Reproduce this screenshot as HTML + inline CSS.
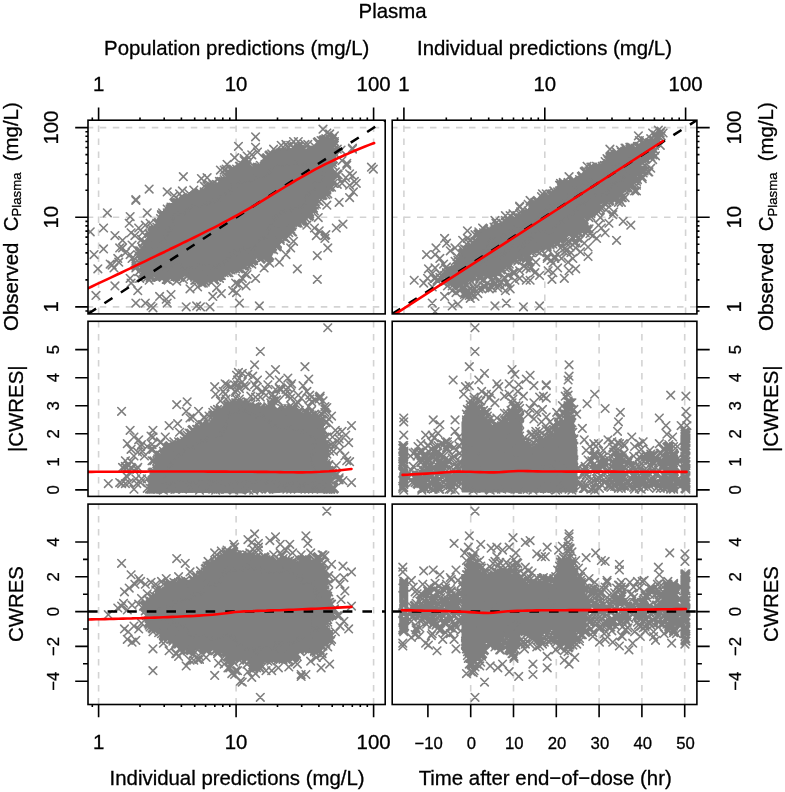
<!DOCTYPE html>
<html lang="en"><head><meta charset="utf-8"><title>Plasma goodness-of-fit</title>
<style>html,body{margin:0;padding:0;background:#fff}svg{display:block}</style></head>
<body>
<svg width="785" height="792" viewBox="0 0 785 792">
<rect width="785" height="792" fill="#fff"/>
<clipPath id="c1"><rect x="88.0" y="120.2" width="297.2" height="193.7"/></clipPath>
<clipPath id="c2"><rect x="392.2" y="120.2" width="304.7" height="193.7"/></clipPath>
<clipPath id="c3"><rect x="88.0" y="321.3" width="297.2" height="175.1"/></clipPath>
<clipPath id="c4"><rect x="392.2" y="321.3" width="304.7" height="175.1"/></clipPath>
<clipPath id="c5"><rect x="88.0" y="504.1" width="297.2" height="200.4"/></clipPath>
<clipPath id="c6"><rect x="392.2" y="504.1" width="304.7" height="200.4"/></clipPath>
<g clip-path="url(#c1)" fill="none">
<path d="M98.6 313.9V120.2M236.1 313.9V120.2M373.6 313.9V120.2" stroke="#d3d3d3" stroke-width="1.6" stroke-dasharray="6.5 6.5"/>
<path d="M88 306.9H385.2M88 217.2H385.2M88 127.6H385.2" stroke="#d3d3d3" stroke-width="1.6" stroke-dasharray="6.5 6.5" stroke-dashoffset="1.2"/>
<path d="M330 139L326 137L322 138L314 146L313 151L310 152L307 150L298 148L288 149L279 148L273 154L268 155L265 160L258 167L252 167L245 164L240 164L218 185L212 183L208 183L203 191L201 192L190 192L184 198L181 199L176 203L167 204L167 206L160 215L159 222L157 226L149 233L147 239L144 242L144 244L142 247L142 250L140 253L140 258L143 263L143 265L141 267L142 270L141 273L143 277L147 278L150 276L156 276L163 279L167 279L176 276L190 276L195 277L201 281L209 281L217 277L222 276L225 271L234 271L243 265L251 263L256 258L266 259L269 256L270 253L269 250L270 248L278 243L281 239L287 238L289 232L289 227L296 221L303 218L307 218L309 216L312 205L327 191L336 176L332 166L332 158L330 156L331 145Z" fill="#7f7f7f" stroke="#7f7f7f" stroke-width="1" stroke-linejoin="round"/><g transform="scale(0.95)"><path d="M347 140l8 8m-8 0l8-8M348 139l8 8m-8 0l8-8M339 142l8 8m-8 0l8-8M343 142l8 8m-8 0l8-8M346 142l8 8m-8 0l8-8M337 143l8 8m-8 0l8-8M339 143l8 8m-8 0l8-8M339 143l8 8m-8 0l8-8M334 144l8 8m-8 0l8-8M336 144l8 8m-8 0l8-8M338 144l8 8m-8 0l8-8M343 144l8 8m-8 0l8-8M331 145l8 8m-8 0l8-8M342 145l8 8m-8 0l8-8M343 145l8 8m-8 0l8-8M345 145l8 8m-8 0l8-8M348 145l8 8m-8 0l8-8M330 146l8 8m-8 0l8-8M339 146l8 8m-8 0l8-8M344 146l8 8m-8 0l8-8M317 148l8 8m-8 0l8-8M332 147l8 8m-8 0l8-8M343 148l8 8m-8 0l8-8M346 148l8 8m-8 0l8-8M320 148l8 8m-8 0l8-8M332 148l8 8m-8 0l8-8M335 148l8 8m-8 0l8-8M343 148l8 8m-8 0l8-8M347 148l8 8m-8 0l8-8M292 149l8 8m-8 0l8-8M298 150l8 8m-8 0l8-8M302 149l8 8m-8 0l8-8M337 150l8 8m-8 0l8-8M339 149l8 8m-8 0l8-8M341 149l8 8m-8 0l8-8M344 149l8 8m-8 0l8-8M348 149l8 8m-8 0l8-8M247 150l8 8m-8 0l8-8M265 151l8 8m-8 0l8-8M309 150l8 8m-8 0l8-8M327 150l8 8m-8 0l8-8M328 151l8 8m-8 0l8-8M338 150l8 8m-8 0l8-8M341 151l8 8m-8 0l8-8M345 150l8 8m-8 0l8-8M306 152l8 8m-8 0l8-8M310 151l8 8m-8 0l8-8M314 151l8 8m-8 0l8-8M334 152l8 8m-8 0l8-8M334 152l8 8m-8 0l8-8M337 151l8 8m-8 0l8-8M344 151l8 8m-8 0l8-8M345 151l8 8m-8 0l8-8M306 153l8 8m-8 0l8-8M323 153l8 8m-8 0l8-8M330 153l8 8m-8 0l8-8M335 153l8 8m-8 0l8-8M339 152l8 8m-8 0l8-8M342 153l8 8m-8 0l8-8M346 152l8 8m-8 0l8-8M309 154l8 8m-8 0l8-8M310 153l8 8m-8 0l8-8M316 153l8 8m-8 0l8-8M327 154l8 8m-8 0l8-8M336 153l8 8m-8 0l8-8M341 153l8 8m-8 0l8-8M351 153l8 8m-8 0l8-8M351 153l8 8m-8 0l8-8M355 154l8 8m-8 0l8-8M312 154l8 8m-8 0l8-8M314 154l8 8m-8 0l8-8M328 154l8 8m-8 0l8-8M329 154l8 8m-8 0l8-8M333 154l8 8m-8 0l8-8M339 155l8 8m-8 0l8-8M340 155l8 8m-8 0l8-8M342 154l8 8m-8 0l8-8M309 156l8 8m-8 0l8-8M316 156l8 8m-8 0l8-8M327 156l8 8m-8 0l8-8M330 156l8 8m-8 0l8-8M331 156l8 8m-8 0l8-8M347 155l8 8m-8 0l8-8M297 157l8 8m-8 0l8-8M304 156l8 8m-8 0l8-8M306 157l8 8m-8 0l8-8M308 157l8 8m-8 0l8-8M310 157l8 8m-8 0l8-8M312 156l8 8m-8 0l8-8M328 156l8 8m-8 0l8-8M329 157l8 8m-8 0l8-8M338 156l8 8m-8 0l8-8M345 156l8 8m-8 0l8-8M291 157l8 8m-8 0l8-8M293 158l8 8m-8 0l8-8M299 157l8 8m-8 0l8-8M299 157l8 8m-8 0l8-8M309 158l8 8m-8 0l8-8M310 158l8 8m-8 0l8-8M317 157l8 8m-8 0l8-8M319 157l8 8m-8 0l8-8M328 157l8 8m-8 0l8-8M336 158l8 8m-8 0l8-8M337 157l8 8m-8 0l8-8M342 157l8 8m-8 0l8-8M344 157l8 8m-8 0l8-8M261 159l8 8m-8 0l8-8M280 159l8 8m-8 0l8-8M280 159l8 8m-8 0l8-8M282 158l8 8m-8 0l8-8M289 158l8 8m-8 0l8-8M304 158l8 8m-8 0l8-8M310 158l8 8m-8 0l8-8M313 158l8 8m-8 0l8-8M314 159l8 8m-8 0l8-8M322 159l8 8m-8 0l8-8M329 158l8 8m-8 0l8-8M335 159l8 8m-8 0l8-8M339 159l8 8m-8 0l8-8M343 159l8 8m-8 0l8-8M350 159l8 8m-8 0l8-8M279 160l8 8m-8 0l8-8M280 160l8 8m-8 0l8-8M285 160l8 8m-8 0l8-8M286 159l8 8m-8 0l8-8M289 159l8 8m-8 0l8-8M292 160l8 8m-8 0l8-8M293 159l8 8m-8 0l8-8M300 159l8 8m-8 0l8-8M302 160l8 8m-8 0l8-8M305 160l8 8m-8 0l8-8M308 160l8 8m-8 0l8-8M318 160l8 8m-8 0l8-8M326 159l8 8m-8 0l8-8M331 159l8 8m-8 0l8-8M332 160l8 8m-8 0l8-8M338 159l8 8m-8 0l8-8M343 159l8 8m-8 0l8-8M285 161l8 8m-8 0l8-8M308 161l8 8m-8 0l8-8M327 161l8 8m-8 0l8-8M338 161l8 8m-8 0l8-8M311 162l8 8m-8 0l8-8M314 162l8 8m-8 0l8-8M319 162l8 8m-8 0l8-8M323 162l8 8m-8 0l8-8M325 162l8 8m-8 0l8-8M335 161l8 8m-8 0l8-8M337 161l8 8m-8 0l8-8M343 161l8 8m-8 0l8-8M253 163l8 8m-8 0l8-8M276 163l8 8m-8 0l8-8M277 162l8 8m-8 0l8-8M281 162l8 8m-8 0l8-8M282 163l8 8m-8 0l8-8M285 163l8 8m-8 0l8-8M286 163l8 8m-8 0l8-8M288 163l8 8m-8 0l8-8M301 163l8 8m-8 0l8-8M307 163l8 8m-8 0l8-8M314 163l8 8m-8 0l8-8M318 163l8 8m-8 0l8-8M321 163l8 8m-8 0l8-8M323 163l8 8m-8 0l8-8M325 162l8 8m-8 0l8-8M326 163l8 8m-8 0l8-8M345 163l8 8m-8 0l8-8M274 163l8 8m-8 0l8-8M282 164l8 8m-8 0l8-8M283 164l8 8m-8 0l8-8M292 164l8 8m-8 0l8-8M298 163l8 8m-8 0l8-8M301 164l8 8m-8 0l8-8M310 164l8 8m-8 0l8-8M346 164l8 8m-8 0l8-8M253 165l8 8m-8 0l8-8M280 165l8 8m-8 0l8-8M285 165l8 8m-8 0l8-8M289 164l8 8m-8 0l8-8M291 165l8 8m-8 0l8-8M291 165l8 8m-8 0l8-8M295 165l8 8m-8 0l8-8M297 165l8 8m-8 0l8-8M298 165l8 8m-8 0l8-8M300 165l8 8m-8 0l8-8M304 164l8 8m-8 0l8-8M314 165l8 8m-8 0l8-8M314 165l8 8m-8 0l8-8M317 165l8 8m-8 0l8-8M258 166l8 8m-8 0l8-8M288 166l8 8m-8 0l8-8M290 166l8 8m-8 0l8-8M315 166l8 8m-8 0l8-8M319 166l8 8m-8 0l8-8M343 166l8 8m-8 0l8-8M345 166l8 8m-8 0l8-8M280 167l8 8m-8 0l8-8M339 167l8 8m-8 0l8-8M346 167l8 8m-8 0l8-8M256 168l8 8m-8 0l8-8M340 168l8 8m-8 0l8-8M344 168l8 8m-8 0l8-8M252 170l8 8m-8 0l8-8M256 169l8 8m-8 0l8-8M275 169l8 8m-8 0l8-8M277 169l8 8m-8 0l8-8M278 169l8 8m-8 0l8-8M280 169l8 8m-8 0l8-8M340 169l8 8m-8 0l8-8M346 170l8 8m-8 0l8-8M255 170l8 8m-8 0l8-8M270 170l8 8m-8 0l8-8M270 170l8 8m-8 0l8-8M278 170l8 8m-8 0l8-8M338 170l8 8m-8 0l8-8M340 171l8 8m-8 0l8-8M346 170l8 8m-8 0l8-8M248 171l8 8m-8 0l8-8M249 171l8 8m-8 0l8-8M255 171l8 8m-8 0l8-8M256 171l8 8m-8 0l8-8M269 172l8 8m-8 0l8-8M341 172l8 8m-8 0l8-8M342 172l8 8m-8 0l8-8M347 171l8 8m-8 0l8-8M252 172l8 8m-8 0l8-8M262 173l8 8m-8 0l8-8M266 173l8 8m-8 0l8-8M267 172l8 8m-8 0l8-8M272 173l8 8m-8 0l8-8M245 174l8 8m-8 0l8-8M252 173l8 8m-8 0l8-8M257 173l8 8m-8 0l8-8M261 173l8 8m-8 0l8-8M267 173l8 8m-8 0l8-8M271 173l8 8m-8 0l8-8M275 173l8 8m-8 0l8-8M277 174l8 8m-8 0l8-8M339 174l8 8m-8 0l8-8M232 175l8 8m-8 0l8-8M234 174l8 8m-8 0l8-8M241 174l8 8m-8 0l8-8M242 175l8 8m-8 0l8-8M243 175l8 8m-8 0l8-8M245 174l8 8m-8 0l8-8M249 175l8 8m-8 0l8-8M251 175l8 8m-8 0l8-8M255 175l8 8m-8 0l8-8M262 174l8 8m-8 0l8-8M271 174l8 8m-8 0l8-8M276 175l8 8m-8 0l8-8M343 175l8 8m-8 0l8-8M239 175l8 8m-8 0l8-8M243 176l8 8m-8 0l8-8M246 175l8 8m-8 0l8-8M253 175l8 8m-8 0l8-8M255 176l8 8m-8 0l8-8M260 175l8 8m-8 0l8-8M263 176l8 8m-8 0l8-8M265 176l8 8m-8 0l8-8M269 175l8 8m-8 0l8-8M271 175l8 8m-8 0l8-8M339 176l8 8m-8 0l8-8M339 176l8 8m-8 0l8-8M236 176l8 8m-8 0l8-8M241 176l8 8m-8 0l8-8M246 177l8 8m-8 0l8-8M252 177l8 8m-8 0l8-8M254 177l8 8m-8 0l8-8M256 176l8 8m-8 0l8-8M258 177l8 8m-8 0l8-8M259 177l8 8m-8 0l8-8M270 176l8 8m-8 0l8-8M273 177l8 8m-8 0l8-8M349 177l8 8m-8 0l8-8M243 177l8 8m-8 0l8-8M247 178l8 8m-8 0l8-8M250 178l8 8m-8 0l8-8M267 178l8 8m-8 0l8-8M268 177l8 8m-8 0l8-8M269 177l8 8m-8 0l8-8M242 179l8 8m-8 0l8-8M251 178l8 8m-8 0l8-8M257 179l8 8m-8 0l8-8M263 178l8 8m-8 0l8-8M266 179l8 8m-8 0l8-8M270 179l8 8m-8 0l8-8M351 179l8 8m-8 0l8-8M238 180l8 8m-8 0l8-8M259 180l8 8m-8 0l8-8M260 179l8 8m-8 0l8-8M350 180l8 8m-8 0l8-8M235 181l8 8m-8 0l8-8M249 181l8 8m-8 0l8-8M250 181l8 8m-8 0l8-8M256 181l8 8m-8 0l8-8M339 181l8 8m-8 0l8-8M350 181l8 8m-8 0l8-8M352 180l8 8m-8 0l8-8M245 182l8 8m-8 0l8-8M247 181l8 8m-8 0l8-8M251 182l8 8m-8 0l8-8M253 181l8 8m-8 0l8-8M254 181l8 8m-8 0l8-8M257 182l8 8m-8 0l8-8M259 182l8 8m-8 0l8-8M340 182l8 8m-8 0l8-8M341 181l8 8m-8 0l8-8M236 183l8 8m-8 0l8-8M240 183l8 8m-8 0l8-8M241 183l8 8m-8 0l8-8M250 183l8 8m-8 0l8-8M255 183l8 8m-8 0l8-8M340 183l8 8m-8 0l8-8M208 184l8 8m-8 0l8-8M234 184l8 8m-8 0l8-8M241 184l8 8m-8 0l8-8M244 184l8 8m-8 0l8-8M247 184l8 8m-8 0l8-8M341 184l8 8m-8 0l8-8M343 184l8 8m-8 0l8-8M232 185l8 8m-8 0l8-8M239 185l8 8m-8 0l8-8M342 185l8 8m-8 0l8-8M344 185l8 8m-8 0l8-8M344 186l8 8m-8 0l8-8M227 187l8 8m-8 0l8-8M229 187l8 8m-8 0l8-8M231 187l8 8m-8 0l8-8M233 187l8 8m-8 0l8-8M340 187l8 8m-8 0l8-8M340 187l8 8m-8 0l8-8M346 187l8 8m-8 0l8-8M229 188l8 8m-8 0l8-8M242 188l8 8m-8 0l8-8M342 188l8 8m-8 0l8-8M220 189l8 8m-8 0l8-8M231 189l8 8m-8 0l8-8M231 189l8 8m-8 0l8-8M233 189l8 8m-8 0l8-8M235 190l8 8m-8 0l8-8M241 189l8 8m-8 0l8-8M347 189l8 8m-8 0l8-8M216 190l8 8m-8 0l8-8M220 190l8 8m-8 0l8-8M224 190l8 8m-8 0l8-8M232 190l8 8m-8 0l8-8M341 190l8 8m-8 0l8-8M351 190l8 8m-8 0l8-8M211 192l8 8m-8 0l8-8M226 191l8 8m-8 0l8-8M232 191l8 8m-8 0l8-8M214 192l8 8m-8 0l8-8M218 192l8 8m-8 0l8-8M227 192l8 8m-8 0l8-8M235 192l8 8m-8 0l8-8M331 192l8 8m-8 0l8-8M332 192l8 8m-8 0l8-8M337 193l8 8m-8 0l8-8M342 193l8 8m-8 0l8-8M222 194l8 8m-8 0l8-8M225 194l8 8m-8 0l8-8M237 193l8 8m-8 0l8-8M334 193l8 8m-8 0l8-8M335 193l8 8m-8 0l8-8M342 193l8 8m-8 0l8-8M343 193l8 8m-8 0l8-8M345 193l8 8m-8 0l8-8M216 195l8 8m-8 0l8-8M219 194l8 8m-8 0l8-8M223 195l8 8m-8 0l8-8M227 194l8 8m-8 0l8-8M228 194l8 8m-8 0l8-8M329 194l8 8m-8 0l8-8M331 195l8 8m-8 0l8-8M334 195l8 8m-8 0l8-8M340 195l8 8m-8 0l8-8M232 196l8 8m-8 0l8-8M234 195l8 8m-8 0l8-8M340 196l8 8m-8 0l8-8M200 196l8 8m-8 0l8-8M225 197l8 8m-8 0l8-8M234 196l8 8m-8 0l8-8M331 196l8 8m-8 0l8-8M339 196l8 8m-8 0l8-8M216 197l8 8m-8 0l8-8M230 198l8 8m-8 0l8-8M333 197l8 8m-8 0l8-8M337 198l8 8m-8 0l8-8M206 199l8 8m-8 0l8-8M207 199l8 8m-8 0l8-8M211 198l8 8m-8 0l8-8M217 199l8 8m-8 0l8-8M334 199l8 8m-8 0l8-8M185 200l8 8m-8 0l8-8M195 200l8 8m-8 0l8-8M205 199l8 8m-8 0l8-8M206 199l8 8m-8 0l8-8M211 199l8 8m-8 0l8-8M214 200l8 8m-8 0l8-8M216 200l8 8m-8 0l8-8M220 200l8 8m-8 0l8-8M223 200l8 8m-8 0l8-8M341 200l8 8m-8 0l8-8M203 201l8 8m-8 0l8-8M206 201l8 8m-8 0l8-8M207 201l8 8m-8 0l8-8M215 200l8 8m-8 0l8-8M330 201l8 8m-8 0l8-8M335 201l8 8m-8 0l8-8M336 201l8 8m-8 0l8-8M339 201l8 8m-8 0l8-8M197 202l8 8m-8 0l8-8M204 202l8 8m-8 0l8-8M207 202l8 8m-8 0l8-8M210 201l8 8m-8 0l8-8M326 202l8 8m-8 0l8-8M327 201l8 8m-8 0l8-8M333 202l8 8m-8 0l8-8M335 202l8 8m-8 0l8-8M179 202l8 8m-8 0l8-8M198 203l8 8m-8 0l8-8M203 203l8 8m-8 0l8-8M205 202l8 8m-8 0l8-8M212 203l8 8m-8 0l8-8M214 203l8 8m-8 0l8-8M224 203l8 8m-8 0l8-8M323 202l8 8m-8 0l8-8M327 202l8 8m-8 0l8-8M188 204l8 8m-8 0l8-8M194 204l8 8m-8 0l8-8M196 204l8 8m-8 0l8-8M201 204l8 8m-8 0l8-8M206 204l8 8m-8 0l8-8M209 204l8 8m-8 0l8-8M221 203l8 8m-8 0l8-8M221 203l8 8m-8 0l8-8M332 204l8 8m-8 0l8-8M190 205l8 8m-8 0l8-8M193 205l8 8m-8 0l8-8M203 205l8 8m-8 0l8-8M206 205l8 8m-8 0l8-8M216 205l8 8m-8 0l8-8M322 205l8 8m-8 0l8-8M192 206l8 8m-8 0l8-8M203 206l8 8m-8 0l8-8M213 206l8 8m-8 0l8-8M218 206l8 8m-8 0l8-8M185 207l8 8m-8 0l8-8M190 207l8 8m-8 0l8-8M201 207l8 8m-8 0l8-8M205 207l8 8m-8 0l8-8M206 207l8 8m-8 0l8-8M321 207l8 8m-8 0l8-8M324 207l8 8m-8 0l8-8M330 207l8 8m-8 0l8-8M183 209l8 8m-8 0l8-8M189 208l8 8m-8 0l8-8M191 208l8 8m-8 0l8-8M199 208l8 8m-8 0l8-8M203 208l8 8m-8 0l8-8M204 208l8 8m-8 0l8-8M210 208l8 8m-8 0l8-8M328 208l8 8m-8 0l8-8M332 208l8 8m-8 0l8-8M181 209l8 8m-8 0l8-8M203 209l8 8m-8 0l8-8M353 209l8 8m-8 0l8-8M180 210l8 8m-8 0l8-8M183 210l8 8m-8 0l8-8M185 210l8 8m-8 0l8-8M187 210l8 8m-8 0l8-8M189 210l8 8m-8 0l8-8M192 210l8 8m-8 0l8-8M193 211l8 8m-8 0l8-8M202 210l8 8m-8 0l8-8M180 211l8 8m-8 0l8-8M183 211l8 8m-8 0l8-8M192 211l8 8m-8 0l8-8M322 211l8 8m-8 0l8-8M323 212l8 8m-8 0l8-8M327 212l8 8m-8 0l8-8M329 211l8 8m-8 0l8-8M183 213l8 8m-8 0l8-8M322 213l8 8m-8 0l8-8M324 212l8 8m-8 0l8-8M325 212l8 8m-8 0l8-8M182 213l8 8m-8 0l8-8M192 214l8 8m-8 0l8-8M322 214l8 8m-8 0l8-8M176 214l8 8m-8 0l8-8M178 214l8 8m-8 0l8-8M183 215l8 8m-8 0l8-8M325 214l8 8m-8 0l8-8M326 215l8 8m-8 0l8-8M172 216l8 8m-8 0l8-8M175 216l8 8m-8 0l8-8M187 216l8 8m-8 0l8-8M320 215l8 8m-8 0l8-8M323 216l8 8m-8 0l8-8M178 216l8 8m-8 0l8-8M184 216l8 8m-8 0l8-8M315 216l8 8m-8 0l8-8M319 216l8 8m-8 0l8-8M320 216l8 8m-8 0l8-8M178 217l8 8m-8 0l8-8M179 218l8 8m-8 0l8-8M180 218l8 8m-8 0l8-8M187 218l8 8m-8 0l8-8M305 219l8 8m-8 0l8-8M311 219l8 8m-8 0l8-8M319 219l8 8m-8 0l8-8M322 219l8 8m-8 0l8-8M167 220l8 8m-8 0l8-8M172 220l8 8m-8 0l8-8M174 220l8 8m-8 0l8-8M306 220l8 8m-8 0l8-8M318 220l8 8m-8 0l8-8M299 221l8 8m-8 0l8-8M299 221l8 8m-8 0l8-8M307 221l8 8m-8 0l8-8M310 221l8 8m-8 0l8-8M316 220l8 8m-8 0l8-8M319 221l8 8m-8 0l8-8M322 221l8 8m-8 0l8-8M166 222l8 8m-8 0l8-8M296 222l8 8m-8 0l8-8M303 222l8 8m-8 0l8-8M166 223l8 8m-8 0l8-8M168 223l8 8m-8 0l8-8M169 223l8 8m-8 0l8-8M171 223l8 8m-8 0l8-8M172 223l8 8m-8 0l8-8M295 223l8 8m-8 0l8-8M310 222l8 8m-8 0l8-8M319 222l8 8m-8 0l8-8M322 223l8 8m-8 0l8-8M295 224l8 8m-8 0l8-8M298 224l8 8m-8 0l8-8M302 224l8 8m-8 0l8-8M305 224l8 8m-8 0l8-8M308 224l8 8m-8 0l8-8M314 223l8 8m-8 0l8-8M316 224l8 8m-8 0l8-8M319 223l8 8m-8 0l8-8M321 224l8 8m-8 0l8-8M171 225l8 8m-8 0l8-8M299 225l8 8m-8 0l8-8M306 225l8 8m-8 0l8-8M309 225l8 8m-8 0l8-8M314 225l8 8m-8 0l8-8M317 225l8 8m-8 0l8-8M165 226l8 8m-8 0l8-8M292 226l8 8m-8 0l8-8M294 226l8 8m-8 0l8-8M298 226l8 8m-8 0l8-8M311 226l8 8m-8 0l8-8M313 226l8 8m-8 0l8-8M315 227l8 8m-8 0l8-8M171 227l8 8m-8 0l8-8M290 227l8 8m-8 0l8-8M296 227l8 8m-8 0l8-8M299 227l8 8m-8 0l8-8M311 227l8 8m-8 0l8-8M170 228l8 8m-8 0l8-8M173 228l8 8m-8 0l8-8M297 228l8 8m-8 0l8-8M299 228l8 8m-8 0l8-8M303 228l8 8m-8 0l8-8M169 229l8 8m-8 0l8-8M287 229l8 8m-8 0l8-8M291 229l8 8m-8 0l8-8M306 229l8 8m-8 0l8-8M308 229l8 8m-8 0l8-8M309 229l8 8m-8 0l8-8M312 229l8 8m-8 0l8-8M314 229l8 8m-8 0l8-8M163 230l8 8m-8 0l8-8M167 230l8 8m-8 0l8-8M168 230l8 8m-8 0l8-8M175 230l8 8m-8 0l8-8M288 230l8 8m-8 0l8-8M290 231l8 8m-8 0l8-8M293 230l8 8m-8 0l8-8M299 230l8 8m-8 0l8-8M304 230l8 8m-8 0l8-8M306 230l8 8m-8 0l8-8M161 231l8 8m-8 0l8-8M163 232l8 8m-8 0l8-8M168 231l8 8m-8 0l8-8M169 231l8 8m-8 0l8-8M174 231l8 8m-8 0l8-8M308 231l8 8m-8 0l8-8M310 231l8 8m-8 0l8-8M290 233l8 8m-8 0l8-8M294 232l8 8m-8 0l8-8M174 233l8 8m-8 0l8-8M295 233l8 8m-8 0l8-8M295 233l8 8m-8 0l8-8M161 235l8 8m-8 0l8-8M168 234l8 8m-8 0l8-8M168 234l8 8m-8 0l8-8M172 235l8 8m-8 0l8-8M294 234l8 8m-8 0l8-8M295 234l8 8m-8 0l8-8M300 234l8 8m-8 0l8-8M303 234l8 8m-8 0l8-8M170 236l8 8m-8 0l8-8M292 236l8 8m-8 0l8-8M293 236l8 8m-8 0l8-8M298 236l8 8m-8 0l8-8M156 237l8 8m-8 0l8-8M284 237l8 8m-8 0l8-8M297 237l8 8m-8 0l8-8M302 237l8 8m-8 0l8-8M159 238l8 8m-8 0l8-8M168 238l8 8m-8 0l8-8M286 237l8 8m-8 0l8-8M288 238l8 8m-8 0l8-8M299 237l8 8m-8 0l8-8M162 239l8 8m-8 0l8-8M165 239l8 8m-8 0l8-8M169 238l8 8m-8 0l8-8M283 238l8 8m-8 0l8-8M284 238l8 8m-8 0l8-8M156 240l8 8m-8 0l8-8M157 240l8 8m-8 0l8-8M166 240l8 8m-8 0l8-8M282 240l8 8m-8 0l8-8M286 240l8 8m-8 0l8-8M287 240l8 8m-8 0l8-8M299 240l8 8m-8 0l8-8M156 241l8 8m-8 0l8-8M157 240l8 8m-8 0l8-8M283 241l8 8m-8 0l8-8M286 240l8 8m-8 0l8-8M291 241l8 8m-8 0l8-8M300 241l8 8m-8 0l8-8M303 240l8 8m-8 0l8-8M304 240l8 8m-8 0l8-8M153 242l8 8m-8 0l8-8M156 242l8 8m-8 0l8-8M157 242l8 8m-8 0l8-8M160 242l8 8m-8 0l8-8M169 241l8 8m-8 0l8-8M281 242l8 8m-8 0l8-8M284 242l8 8m-8 0l8-8M162 242l8 8m-8 0l8-8M164 242l8 8m-8 0l8-8M285 243l8 8m-8 0l8-8M286 243l8 8m-8 0l8-8M294 242l8 8m-8 0l8-8M298 243l8 8m-8 0l8-8M154 244l8 8m-8 0l8-8M155 244l8 8m-8 0l8-8M161 245l8 8m-8 0l8-8M164 245l8 8m-8 0l8-8M166 245l8 8m-8 0l8-8M283 245l8 8m-8 0l8-8M293 245l8 8m-8 0l8-8M295 245l8 8m-8 0l8-8M153 246l8 8m-8 0l8-8M154 246l8 8m-8 0l8-8M157 246l8 8m-8 0l8-8M158 246l8 8m-8 0l8-8M160 246l8 8m-8 0l8-8M167 247l8 8m-8 0l8-8M283 247l8 8m-8 0l8-8M291 247l8 8m-8 0l8-8M296 247l8 8m-8 0l8-8M297 247l8 8m-8 0l8-8M145 248l8 8m-8 0l8-8M155 248l8 8m-8 0l8-8M156 248l8 8m-8 0l8-8M280 248l8 8m-8 0l8-8M285 248l8 8m-8 0l8-8M159 249l8 8m-8 0l8-8M277 249l8 8m-8 0l8-8M291 249l8 8m-8 0l8-8M159 250l8 8m-8 0l8-8M278 250l8 8m-8 0l8-8M282 250l8 8m-8 0l8-8M147 251l8 8m-8 0l8-8M160 251l8 8m-8 0l8-8M161 251l8 8m-8 0l8-8M275 251l8 8m-8 0l8-8M288 252l8 8m-8 0l8-8M150 252l8 8m-8 0l8-8M150 252l8 8m-8 0l8-8M155 252l8 8m-8 0l8-8M158 252l8 8m-8 0l8-8M161 252l8 8m-8 0l8-8M275 253l8 8m-8 0l8-8M283 252l8 8m-8 0l8-8M285 252l8 8m-8 0l8-8M273 253l8 8m-8 0l8-8M279 253l8 8m-8 0l8-8M280 254l8 8m-8 0l8-8M288 253l8 8m-8 0l8-8M155 255l8 8m-8 0l8-8M162 255l8 8m-8 0l8-8M273 255l8 8m-8 0l8-8M278 255l8 8m-8 0l8-8M287 255l8 8m-8 0l8-8M288 255l8 8m-8 0l8-8M151 256l8 8m-8 0l8-8M152 255l8 8m-8 0l8-8M160 256l8 8m-8 0l8-8M274 256l8 8m-8 0l8-8M276 255l8 8m-8 0l8-8M283 255l8 8m-8 0l8-8M146 257l8 8m-8 0l8-8M153 256l8 8m-8 0l8-8M154 257l8 8m-8 0l8-8M277 256l8 8m-8 0l8-8M279 257l8 8m-8 0l8-8M282 256l8 8m-8 0l8-8M287 256l8 8m-8 0l8-8M159 257l8 8m-8 0l8-8M281 258l8 8m-8 0l8-8M282 258l8 8m-8 0l8-8M146 258l8 8m-8 0l8-8M148 259l8 8m-8 0l8-8M270 258l8 8m-8 0l8-8M277 258l8 8m-8 0l8-8M278 259l8 8m-8 0l8-8M284 259l8 8m-8 0l8-8M143 260l8 8m-8 0l8-8M161 260l8 8m-8 0l8-8M267 259l8 8m-8 0l8-8M272 260l8 8m-8 0l8-8M144 260l8 8m-8 0l8-8M145 261l8 8m-8 0l8-8M151 260l8 8m-8 0l8-8M157 260l8 8m-8 0l8-8M257 260l8 8m-8 0l8-8M268 261l8 8m-8 0l8-8M269 260l8 8m-8 0l8-8M271 260l8 8m-8 0l8-8M272 261l8 8m-8 0l8-8M150 262l8 8m-8 0l8-8M154 261l8 8m-8 0l8-8M161 262l8 8m-8 0l8-8M253 262l8 8m-8 0l8-8M255 262l8 8m-8 0l8-8M257 261l8 8m-8 0l8-8M259 262l8 8m-8 0l8-8M268 262l8 8m-8 0l8-8M274 262l8 8m-8 0l8-8M278 261l8 8m-8 0l8-8M143 263l8 8m-8 0l8-8M146 263l8 8m-8 0l8-8M149 263l8 8m-8 0l8-8M152 263l8 8m-8 0l8-8M161 263l8 8m-8 0l8-8M246 263l8 8m-8 0l8-8M265 263l8 8m-8 0l8-8M266 263l8 8m-8 0l8-8M276 262l8 8m-8 0l8-8M154 264l8 8m-8 0l8-8M159 264l8 8m-8 0l8-8M265 264l8 8m-8 0l8-8M269 263l8 8m-8 0l8-8M277 264l8 8m-8 0l8-8M279 264l8 8m-8 0l8-8M142 265l8 8m-8 0l8-8M156 265l8 8m-8 0l8-8M243 265l8 8m-8 0l8-8M248 265l8 8m-8 0l8-8M251 265l8 8m-8 0l8-8M258 265l8 8m-8 0l8-8M266 265l8 8m-8 0l8-8M271 265l8 8m-8 0l8-8M272 265l8 8m-8 0l8-8M274 265l8 8m-8 0l8-8M280 265l8 8m-8 0l8-8M243 266l8 8m-8 0l8-8M275 266l8 8m-8 0l8-8M276 266l8 8m-8 0l8-8M144 267l8 8m-8 0l8-8M242 267l8 8m-8 0l8-8M258 267l8 8m-8 0l8-8M263 268l8 8m-8 0l8-8M271 268l8 8m-8 0l8-8M273 267l8 8m-8 0l8-8M279 267l8 8m-8 0l8-8M149 268l8 8m-8 0l8-8M152 268l8 8m-8 0l8-8M153 268l8 8m-8 0l8-8M154 268l8 8m-8 0l8-8M159 268l8 8m-8 0l8-8M256 268l8 8m-8 0l8-8M270 269l8 8m-8 0l8-8M159 269l8 8m-8 0l8-8M160 269l8 8m-8 0l8-8M252 269l8 8m-8 0l8-8M255 269l8 8m-8 0l8-8M257 269l8 8m-8 0l8-8M146 270l8 8m-8 0l8-8M154 270l8 8m-8 0l8-8M155 270l8 8m-8 0l8-8M245 271l8 8m-8 0l8-8M250 270l8 8m-8 0l8-8M262 270l8 8m-8 0l8-8M263 270l8 8m-8 0l8-8M145 271l8 8m-8 0l8-8M242 271l8 8m-8 0l8-8M244 271l8 8m-8 0l8-8M250 272l8 8m-8 0l8-8M255 271l8 8m-8 0l8-8M261 271l8 8m-8 0l8-8M142 272l8 8m-8 0l8-8M148 272l8 8m-8 0l8-8M154 273l8 8m-8 0l8-8M238 272l8 8m-8 0l8-8M239 272l8 8m-8 0l8-8M240 272l8 8m-8 0l8-8M254 272l8 8m-8 0l8-8M258 273l8 8m-8 0l8-8M279 272l8 8m-8 0l8-8M143 273l8 8m-8 0l8-8M148 273l8 8m-8 0l8-8M150 273l8 8m-8 0l8-8M240 273l8 8m-8 0l8-8M249 273l8 8m-8 0l8-8M252 274l8 8m-8 0l8-8M254 273l8 8m-8 0l8-8M261 274l8 8m-8 0l8-8M144 274l8 8m-8 0l8-8M148 274l8 8m-8 0l8-8M153 275l8 8m-8 0l8-8M235 275l8 8m-8 0l8-8M248 274l8 8m-8 0l8-8M252 274l8 8m-8 0l8-8M256 275l8 8m-8 0l8-8M139 276l8 8m-8 0l8-8M146 276l8 8m-8 0l8-8M148 276l8 8m-8 0l8-8M151 275l8 8m-8 0l8-8M152 276l8 8m-8 0l8-8M158 276l8 8m-8 0l8-8M241 276l8 8m-8 0l8-8M251 275l8 8m-8 0l8-8M253 276l8 8m-8 0l8-8M254 276l8 8m-8 0l8-8M149 277l8 8m-8 0l8-8M150 277l8 8m-8 0l8-8M174 276l8 8m-8 0l8-8M240 277l8 8m-8 0l8-8M242 277l8 8m-8 0l8-8M244 276l8 8m-8 0l8-8M251 276l8 8m-8 0l8-8M145 278l8 8m-8 0l8-8M151 277l8 8m-8 0l8-8M174 277l8 8m-8 0l8-8M180 278l8 8m-8 0l8-8M234 278l8 8m-8 0l8-8M245 277l8 8m-8 0l8-8M247 277l8 8m-8 0l8-8M155 279l8 8m-8 0l8-8M177 279l8 8m-8 0l8-8M181 278l8 8m-8 0l8-8M182 278l8 8m-8 0l8-8M209 278l8 8m-8 0l8-8M212 279l8 8m-8 0l8-8M227 279l8 8m-8 0l8-8M231 278l8 8m-8 0l8-8M237 278l8 8m-8 0l8-8M244 279l8 8m-8 0l8-8M249 279l8 8m-8 0l8-8M152 279l8 8m-8 0l8-8M153 279l8 8m-8 0l8-8M177 280l8 8m-8 0l8-8M205 280l8 8m-8 0l8-8M206 280l8 8m-8 0l8-8M213 280l8 8m-8 0l8-8M215 280l8 8m-8 0l8-8M216 280l8 8m-8 0l8-8M237 280l8 8m-8 0l8-8M247 279l8 8m-8 0l8-8M148 281l8 8m-8 0l8-8M157 281l8 8m-8 0l8-8M160 281l8 8m-8 0l8-8M162 281l8 8m-8 0l8-8M164 281l8 8m-8 0l8-8M165 281l8 8m-8 0l8-8M178 281l8 8m-8 0l8-8M191 281l8 8m-8 0l8-8M194 281l8 8m-8 0l8-8M207 281l8 8m-8 0l8-8M212 281l8 8m-8 0l8-8M218 281l8 8m-8 0l8-8M229 281l8 8m-8 0l8-8M237 280l8 8m-8 0l8-8M239 280l8 8m-8 0l8-8M148 281l8 8m-8 0l8-8M155 282l8 8m-8 0l8-8M158 282l8 8m-8 0l8-8M162 282l8 8m-8 0l8-8M178 281l8 8m-8 0l8-8M179 282l8 8m-8 0l8-8M199 281l8 8m-8 0l8-8M203 282l8 8m-8 0l8-8M204 282l8 8m-8 0l8-8M211 281l8 8m-8 0l8-8M218 281l8 8m-8 0l8-8M230 281l8 8m-8 0l8-8M230 282l8 8m-8 0l8-8M234 282l8 8m-8 0l8-8M148 283l8 8m-8 0l8-8M152 282l8 8m-8 0l8-8M153 283l8 8m-8 0l8-8M166 283l8 8m-8 0l8-8M167 283l8 8m-8 0l8-8M173 283l8 8m-8 0l8-8M177 283l8 8m-8 0l8-8M179 283l8 8m-8 0l8-8M181 282l8 8m-8 0l8-8M184 283l8 8m-8 0l8-8M197 283l8 8m-8 0l8-8M200 283l8 8m-8 0l8-8M200 283l8 8m-8 0l8-8M204 283l8 8m-8 0l8-8M214 282l8 8m-8 0l8-8M219 283l8 8m-8 0l8-8M223 282l8 8m-8 0l8-8M232 283l8 8m-8 0l8-8M235 283l8 8m-8 0l8-8M237 283l8 8m-8 0l8-8M146 283l8 8m-8 0l8-8M148 284l8 8m-8 0l8-8M150 284l8 8m-8 0l8-8M156 284l8 8m-8 0l8-8M157 284l8 8m-8 0l8-8M158 284l8 8m-8 0l8-8M167 284l8 8m-8 0l8-8M169 284l8 8m-8 0l8-8M181 284l8 8m-8 0l8-8M189 283l8 8m-8 0l8-8M198 284l8 8m-8 0l8-8M202 284l8 8m-8 0l8-8M211 284l8 8m-8 0l8-8M214 284l8 8m-8 0l8-8M220 284l8 8m-8 0l8-8M222 284l8 8m-8 0l8-8M222 284l8 8m-8 0l8-8M224 284l8 8m-8 0l8-8M227 284l8 8m-8 0l8-8M254 284l8 8m-8 0l8-8M148 285l8 8m-8 0l8-8M151 285l8 8m-8 0l8-8M164 285l8 8m-8 0l8-8M165 285l8 8m-8 0l8-8M166 285l8 8m-8 0l8-8M168 285l8 8m-8 0l8-8M191 285l8 8m-8 0l8-8M198 285l8 8m-8 0l8-8M201 285l8 8m-8 0l8-8M203 285l8 8m-8 0l8-8M209 285l8 8m-8 0l8-8M210 285l8 8m-8 0l8-8M224 285l8 8m-8 0l8-8M228 285l8 8m-8 0l8-8M154 286l8 8m-8 0l8-8M155 286l8 8m-8 0l8-8M163 286l8 8m-8 0l8-8M164 286l8 8m-8 0l8-8M183 286l8 8m-8 0l8-8M194 286l8 8m-8 0l8-8M210 286l8 8m-8 0l8-8M221 286l8 8m-8 0l8-8M223 286l8 8m-8 0l8-8M226 286l8 8m-8 0l8-8M227 286l8 8m-8 0l8-8M228 286l8 8m-8 0l8-8M229 286l8 8m-8 0l8-8M147 287l8 8m-8 0l8-8M164 287l8 8m-8 0l8-8M165 287l8 8m-8 0l8-8M167 287l8 8m-8 0l8-8M180 287l8 8m-8 0l8-8M181 287l8 8m-8 0l8-8M184 287l8 8m-8 0l8-8M193 287l8 8m-8 0l8-8M197 287l8 8m-8 0l8-8M204 287l8 8m-8 0l8-8M207 287l8 8m-8 0l8-8M208 287l8 8m-8 0l8-8M215 288l8 8m-8 0l8-8M225 287l8 8m-8 0l8-8M151 288l8 8m-8 0l8-8M154 288l8 8m-8 0l8-8M155 288l8 8m-8 0l8-8M160 288l8 8m-8 0l8-8M168 288l8 8m-8 0l8-8M175 288l8 8m-8 0l8-8M185 288l8 8m-8 0l8-8M187 288l8 8m-8 0l8-8M201 288l8 8m-8 0l8-8M206 288l8 8m-8 0l8-8M219 288l8 8m-8 0l8-8M224 288l8 8m-8 0l8-8M203 290l8 8m-8 0l8-8M209 290l8 8m-8 0l8-8M221 290l8 8m-8 0l8-8M227 289l8 8m-8 0l8-8M171 290l8 8m-8 0l8-8M172 290l8 8m-8 0l8-8M173 291l8 8m-8 0l8-8M189 290l8 8m-8 0l8-8M205 291l8 8m-8 0l8-8M209 290l8 8m-8 0l8-8M213 290l8 8m-8 0l8-8M215 290l8 8m-8 0l8-8M221 291l8 8m-8 0l8-8M222 290l8 8m-8 0l8-8M153 291l8 8m-8 0l8-8M201 291l8 8m-8 0l8-8M202 291l8 8m-8 0l8-8M208 291l8 8m-8 0l8-8M216 291l8 8m-8 0l8-8M182 292l8 8m-8 0l8-8M212 292l8 8m-8 0l8-8M212 293l8 8m-8 0l8-8M210 294l8 8m-8 0l8-8M208 294l8 8m-8 0l8-8M204 298l8 8m-8 0l8-8M196 300l8 8m-8 0l8-8M229 305l8 8m-8 0l8-8M176 306l8 8m-8 0l8-8M265 140l8 8m-8 0l8-8M389 174l8 8m-8 0l8-8M387 172l8 8m-8 0l8-8M330 265l8 8m-8 0l8-8M341 257l8 8m-8 0l8-8M330 290l8 8m-8 0l8-8M309 279l8 8m-8 0l8-8M357 232l8 8m-8 0l8-8M350 236l8 8m-8 0l8-8M248 315l8 8m-8 0l8-8M269 318l8 8m-8 0l8-8M361 168l8 8m-8 0l8-8M367 181l8 8m-8 0l8-8M371 189l8 8m-8 0l8-8M364 204l8 8m-8 0l8-8M367 152l8 8m-8 0l8-8M338 244l8 8m-8 0l8-8M329 244l8 8m-8 0l8-8M109 220l8 8m-8 0l8-8M105 236l8 8m-8 0l8-8M91 240l8 8m-8 0l8-8M105 258l8 8m-8 0l8-8M95 264l8 8m-8 0l8-8M99 279l8 8m-8 0l8-8M97 307l8 8m-8 0l8-8M117 244l8 8m-8 0l8-8M114 275l8 8m-8 0l8-8M117 297l8 8m-8 0l8-8M122 257l8 8m-8 0l8-8M125 249l8 8m-8 0l8-8M128 262l8 8m-8 0l8-8M120 268l8 8m-8 0l8-8M121 272l8 8m-8 0l8-8M132 231l8 8m-8 0l8-8M133 224l8 8m-8 0l8-8M139 206l8 8m-8 0l8-8M139 207l8 8m-8 0l8-8M153 195l8 8m-8 0l8-8M151 220l8 8m-8 0l8-8M134 241l8 8m-8 0l8-8M138 244l8 8m-8 0l8-8M142 236l8 8m-8 0l8-8M135 254l8 8m-8 0l8-8M133 264l8 8m-8 0l8-8M135 268l8 8m-8 0l8-8M138 273l8 8m-8 0l8-8M133 289l8 8m-8 0l8-8M134 294l8 8m-8 0l8-8M141 302l8 8m-8 0l8-8M139 315l8 8m-8 0l8-8M143 289l8 8m-8 0l8-8M172 198l8 8m-8 0l8-8M189 182l8 8m-8 0l8-8M188 197l8 8m-8 0l8-8M214 183l8 8m-8 0l8-8M228 175l8 8m-8 0l8-8M235 169l8 8m-8 0l8-8M243 162l8 8m-8 0l8-8M155 318l8 8m-8 0l8-8M157 320l8 8m-8 0l8-8M164 308l8 8m-8 0l8-8M171 311l8 8m-8 0l8-8M172 315l8 8m-8 0l8-8M192 319l8 8m-8 0l8-8M203 318l8 8m-8 0l8-8M207 319l8 8m-8 0l8-8M217 319l8 8m-8 0l8-8M220 308l8 8m-8 0l8-8M224 299l8 8m-8 0l8-8M241 302l8 8m-8 0l8-8M247 295l8 8m-8 0l8-8M149 315l8 8m-8 0l8-8M87 327l8 8m-8 0l8-8M146 241l8 8m-8 0l8-8M149 233l8 8m-8 0l8-8M154 231l8 8m-8 0l8-8M147 252l8 8m-8 0l8-8M142 260l8 8m-8 0l8-8M139 278l8 8m-8 0l8-8M142 282l8 8m-8 0l8-8M112 274l8 8m-8 0l8-8M116 278l8 8m-8 0l8-8M125 257l8 8m-8 0l8-8M244 294l8 8m-8 0l8-8M251 289l8 8m-8 0l8-8M256 285l8 8m-8 0l8-8M265 289l8 8m-8 0l8-8M274 278l8 8m-8 0l8-8M280 273l8 8m-8 0l8-8M290 272l8 8m-8 0l8-8M297 264l8 8m-8 0l8-8M302 257l8 8m-8 0l8-8M305 250l8 8m-8 0l8-8M319 233l8 8m-8 0l8-8M327 236l8 8m-8 0l8-8M332 239l8 8m-8 0l8-8M339 243l8 8m-8 0l8-8M338 247l8 8m-8 0l8-8M331 225l8 8m-8 0l8-8M327 218l8 8m-8 0l8-8M340 212l8 8m-8 0l8-8M356 189l8 8m-8 0l8-8M360 183l8 8m-8 0l8-8M364 191l8 8m-8 0l8-8M368 198l8 8m-8 0l8-8M356 165l8 8m-8 0l8-8M361 170l8 8m-8 0l8-8M367 153l8 8m-8 0l8-8M243 162l8 8m-8 0l8-8M256 160l8 8m-8 0l8-8M267 156l8 8m-8 0l8-8M284 153l8 8m-8 0l8-8M297 148l8 8m-8 0l8-8M305 145l8 8m-8 0l8-8M310 145l8 8m-8 0l8-8M343 137l8 8m-8 0l8-8M345 144l8 8m-8 0l8-8M336 132l8 8m-8 0l8-8M340 136l8 8m-8 0l8-8M369 187l8 8m-8 0l8-8M364 179l8 8m-8 0l8-8M245 304l8 8m-8 0l8-8M255 297l8 8m-8 0l8-8" stroke="#7f7f7f" stroke-width="1.68" stroke-linecap="round" fill="none"/></g>
<path d="M88.0 313.9L385.2 120.2" stroke="#000" stroke-width="2.5" stroke-dasharray="9.6 10"/>
<path d="M87 288.8L91.9 286.5L96.7 284.2L101.6 281.9L106.5 279.6L111.3 277.3L116.2 275L121.1 272.7L125.9 270.4L130.8 268.1L135.7 265.7L140.5 263.4L145.4 261.1L150.3 258.7L155.1 256.4L160 254L164.9 251.7L169.7 249.3L174.6 247L179.5 244.6L184.3 242.2L189.2 239.9L194.1 237.5L198.9 235.1L203.8 232.7L208.7 230.2L213.5 227.8L218.4 225.3L223.3 222.7L228.1 220.2L233 217.5L237.8 214.9L242.7 212.2L247.6 209.4L252.4 206.6L257.3 203.7L262.2 200.8L267 197.9L271.9 194.9L276.8 191.9L281.6 189L286.5 186L291.4 183.1L296.2 180.2L301.1 177.4L306 174.6L310.8 171.9L315.7 169.2L320.6 166.7L325.4 164.2L330.3 161.8L335.2 159.5L340 157.2L344.9 155L349.8 152.9L354.6 150.8L359.5 148.8L364.4 146.8L369.2 144.9L374.1 143" stroke="#f00" stroke-width="2.6" stroke-linecap="round" stroke-linejoin="round"/>
</g>
<g clip-path="url(#c2)" fill="none">
<path d="M403.9 313.9V120.2M544.8 313.9V120.2M685.6 313.9V120.2" stroke="#d3d3d3" stroke-width="1.6" stroke-dasharray="6.5 6.5"/>
<path d="M392.2 306.9H696.9M392.2 217.2H696.9M392.2 127.6H696.9" stroke="#d3d3d3" stroke-width="1.6" stroke-dasharray="6.5 6.5" stroke-dashoffset="1.2"/>
<path d="M661 134L659 135L655 140L649 139L646 140L640 147L633 148L630 150L623 149L619 151L612 157L609 157L602 164L597 166L589 167L575 180L567 181L561 184L550 195L543 200L535 202L525 212L516 219L508 219L492 228L480 230L477 238L468 247L462 251L458 259L458 261L453 266L448 267L440 276L444 278L450 279L453 281L456 281L462 278L461 282L463 283L467 282L468 277L470 275L487 276L492 271L498 270L502 268L511 258L522 258L534 250L544 249L551 243L553 244L558 238L561 237L567 232L575 233L578 231L582 226L582 220L586 216L592 213L594 213L596 211L597 207L600 204L612 200L615 198L620 197L623 188L633 183L639 173L639 168L642 161L644 159L644 157L646 156L646 154L648 153L649 150L654 148L655 140L659 138Z" fill="#7f7f7f" stroke="#7f7f7f" stroke-width="1" stroke-linejoin="round"/><g transform="scale(0.95)"><path d="M692 134l8 8m-8 0l8-8M691 136l8 8m-8 0l8-8M686 138l8 8m-8 0l8-8M692 139l8 8m-8 0l8-8M688 139l8 8m-8 0l8-8M690 140l8 8m-8 0l8-8M681 142l8 8m-8 0l8-8M687 142l8 8m-8 0l8-8M688 142l8 8m-8 0l8-8M684 143l8 8m-8 0l8-8M684 143l8 8m-8 0l8-8M669 144l8 8m-8 0l8-8M675 144l8 8m-8 0l8-8M672 146l8 8m-8 0l8-8M677 146l8 8m-8 0l8-8M681 146l8 8m-8 0l8-8M687 146l8 8m-8 0l8-8M675 147l8 8m-8 0l8-8M679 147l8 8m-8 0l8-8M684 147l8 8m-8 0l8-8M686 147l8 8m-8 0l8-8M670 150l8 8m-8 0l8-8M685 149l8 8m-8 0l8-8M667 150l8 8m-8 0l8-8M668 150l8 8m-8 0l8-8M669 150l8 8m-8 0l8-8M676 150l8 8m-8 0l8-8M676 150l8 8m-8 0l8-8M678 150l8 8m-8 0l8-8M659 151l8 8m-8 0l8-8M660 151l8 8m-8 0l8-8M661 151l8 8m-8 0l8-8M675 151l8 8m-8 0l8-8M679 151l8 8m-8 0l8-8M681 152l8 8m-8 0l8-8M654 152l8 8m-8 0l8-8M655 152l8 8m-8 0l8-8M665 152l8 8m-8 0l8-8M668 152l8 8m-8 0l8-8M674 152l8 8m-8 0l8-8M678 152l8 8m-8 0l8-8M638 153l8 8m-8 0l8-8M659 153l8 8m-8 0l8-8M649 154l8 8m-8 0l8-8M654 155l8 8m-8 0l8-8M657 154l8 8m-8 0l8-8M666 155l8 8m-8 0l8-8M670 155l8 8m-8 0l8-8M676 154l8 8m-8 0l8-8M685 154l8 8m-8 0l8-8M645 156l8 8m-8 0l8-8M650 156l8 8m-8 0l8-8M655 155l8 8m-8 0l8-8M674 156l8 8m-8 0l8-8M681 156l8 8m-8 0l8-8M683 156l8 8m-8 0l8-8M653 157l8 8m-8 0l8-8M661 157l8 8m-8 0l8-8M665 156l8 8m-8 0l8-8M669 157l8 8m-8 0l8-8M676 156l8 8m-8 0l8-8M677 157l8 8m-8 0l8-8M679 157l8 8m-8 0l8-8M645 158l8 8m-8 0l8-8M651 158l8 8m-8 0l8-8M652 158l8 8m-8 0l8-8M652 157l8 8m-8 0l8-8M656 157l8 8m-8 0l8-8M659 157l8 8m-8 0l8-8M679 158l8 8m-8 0l8-8M682 158l8 8m-8 0l8-8M643 158l8 8m-8 0l8-8M648 159l8 8m-8 0l8-8M657 158l8 8m-8 0l8-8M672 159l8 8m-8 0l8-8M639 160l8 8m-8 0l8-8M641 160l8 8m-8 0l8-8M651 160l8 8m-8 0l8-8M666 160l8 8m-8 0l8-8M667 160l8 8m-8 0l8-8M671 159l8 8m-8 0l8-8M674 160l8 8m-8 0l8-8M678 160l8 8m-8 0l8-8M643 160l8 8m-8 0l8-8M665 160l8 8m-8 0l8-8M638 161l8 8m-8 0l8-8M646 162l8 8m-8 0l8-8M649 162l8 8m-8 0l8-8M654 162l8 8m-8 0l8-8M668 161l8 8m-8 0l8-8M670 162l8 8m-8 0l8-8M672 162l8 8m-8 0l8-8M635 163l8 8m-8 0l8-8M638 162l8 8m-8 0l8-8M646 163l8 8m-8 0l8-8M670 163l8 8m-8 0l8-8M673 162l8 8m-8 0l8-8M674 162l8 8m-8 0l8-8M638 164l8 8m-8 0l8-8M642 164l8 8m-8 0l8-8M648 164l8 8m-8 0l8-8M655 164l8 8m-8 0l8-8M669 164l8 8m-8 0l8-8M636 165l8 8m-8 0l8-8M647 165l8 8m-8 0l8-8M652 165l8 8m-8 0l8-8M666 165l8 8m-8 0l8-8M669 165l8 8m-8 0l8-8M633 166l8 8m-8 0l8-8M637 166l8 8m-8 0l8-8M651 166l8 8m-8 0l8-8M674 166l8 8m-8 0l8-8M640 168l8 8m-8 0l8-8M652 167l8 8m-8 0l8-8M665 167l8 8m-8 0l8-8M636 168l8 8m-8 0l8-8M639 168l8 8m-8 0l8-8M644 168l8 8m-8 0l8-8M672 168l8 8m-8 0l8-8M632 170l8 8m-8 0l8-8M634 170l8 8m-8 0l8-8M635 170l8 8m-8 0l8-8M647 171l8 8m-8 0l8-8M665 170l8 8m-8 0l8-8M670 170l8 8m-8 0l8-8M614 171l8 8m-8 0l8-8M618 172l8 8m-8 0l8-8M624 171l8 8m-8 0l8-8M626 172l8 8m-8 0l8-8M630 171l8 8m-8 0l8-8M638 171l8 8m-8 0l8-8M663 171l8 8m-8 0l8-8M619 172l8 8m-8 0l8-8M620 172l8 8m-8 0l8-8M628 173l8 8m-8 0l8-8M631 172l8 8m-8 0l8-8M663 172l8 8m-8 0l8-8M624 173l8 8m-8 0l8-8M627 173l8 8m-8 0l8-8M631 173l8 8m-8 0l8-8M632 174l8 8m-8 0l8-8M634 174l8 8m-8 0l8-8M662 174l8 8m-8 0l8-8M664 174l8 8m-8 0l8-8M666 174l8 8m-8 0l8-8M667 173l8 8m-8 0l8-8M629 174l8 8m-8 0l8-8M631 174l8 8m-8 0l8-8M671 175l8 8m-8 0l8-8M672 174l8 8m-8 0l8-8M616 176l8 8m-8 0l8-8M626 176l8 8m-8 0l8-8M628 176l8 8m-8 0l8-8M635 176l8 8m-8 0l8-8M659 176l8 8m-8 0l8-8M612 176l8 8m-8 0l8-8M613 176l8 8m-8 0l8-8M618 177l8 8m-8 0l8-8M620 176l8 8m-8 0l8-8M623 177l8 8m-8 0l8-8M629 177l8 8m-8 0l8-8M657 177l8 8m-8 0l8-8M658 176l8 8m-8 0l8-8M666 176l8 8m-8 0l8-8M668 177l8 8m-8 0l8-8M672 176l8 8m-8 0l8-8M611 177l8 8m-8 0l8-8M614 178l8 8m-8 0l8-8M618 177l8 8m-8 0l8-8M621 178l8 8m-8 0l8-8M639 177l8 8m-8 0l8-8M660 177l8 8m-8 0l8-8M615 179l8 8m-8 0l8-8M621 179l8 8m-8 0l8-8M624 178l8 8m-8 0l8-8M625 179l8 8m-8 0l8-8M627 178l8 8m-8 0l8-8M633 178l8 8m-8 0l8-8M662 179l8 8m-8 0l8-8M666 178l8 8m-8 0l8-8M617 180l8 8m-8 0l8-8M663 180l8 8m-8 0l8-8M618 180l8 8m-8 0l8-8M619 181l8 8m-8 0l8-8M622 181l8 8m-8 0l8-8M623 181l8 8m-8 0l8-8M595 182l8 8m-8 0l8-8M608 182l8 8m-8 0l8-8M609 181l8 8m-8 0l8-8M622 182l8 8m-8 0l8-8M626 182l8 8m-8 0l8-8M665 181l8 8m-8 0l8-8M613 183l8 8m-8 0l8-8M620 183l8 8m-8 0l8-8M664 183l8 8m-8 0l8-8M609 184l8 8m-8 0l8-8M610 183l8 8m-8 0l8-8M659 184l8 8m-8 0l8-8M606 185l8 8m-8 0l8-8M628 185l8 8m-8 0l8-8M659 185l8 8m-8 0l8-8M599 186l8 8m-8 0l8-8M601 186l8 8m-8 0l8-8M608 186l8 8m-8 0l8-8M609 186l8 8m-8 0l8-8M611 185l8 8m-8 0l8-8M625 186l8 8m-8 0l8-8M654 186l8 8m-8 0l8-8M664 186l8 8m-8 0l8-8M666 187l8 8m-8 0l8-8M594 188l8 8m-8 0l8-8M598 187l8 8m-8 0l8-8M600 187l8 8m-8 0l8-8M610 187l8 8m-8 0l8-8M659 187l8 8m-8 0l8-8M589 188l8 8m-8 0l8-8M594 188l8 8m-8 0l8-8M600 188l8 8m-8 0l8-8M601 188l8 8m-8 0l8-8M626 188l8 8m-8 0l8-8M658 188l8 8m-8 0l8-8M586 189l8 8m-8 0l8-8M589 189l8 8m-8 0l8-8M657 190l8 8m-8 0l8-8M662 190l8 8m-8 0l8-8M589 190l8 8m-8 0l8-8M591 190l8 8m-8 0l8-8M592 191l8 8m-8 0l8-8M652 190l8 8m-8 0l8-8M660 190l8 8m-8 0l8-8M660 190l8 8m-8 0l8-8M585 191l8 8m-8 0l8-8M586 191l8 8m-8 0l8-8M591 191l8 8m-8 0l8-8M593 191l8 8m-8 0l8-8M648 192l8 8m-8 0l8-8M655 191l8 8m-8 0l8-8M661 191l8 8m-8 0l8-8M605 192l8 8m-8 0l8-8M644 193l8 8m-8 0l8-8M652 192l8 8m-8 0l8-8M660 192l8 8m-8 0l8-8M589 193l8 8m-8 0l8-8M597 193l8 8m-8 0l8-8M599 194l8 8m-8 0l8-8M601 193l8 8m-8 0l8-8M646 194l8 8m-8 0l8-8M650 193l8 8m-8 0l8-8M651 194l8 8m-8 0l8-8M654 194l8 8m-8 0l8-8M654 194l8 8m-8 0l8-8M655 194l8 8m-8 0l8-8M657 193l8 8m-8 0l8-8M587 194l8 8m-8 0l8-8M598 195l8 8m-8 0l8-8M642 194l8 8m-8 0l8-8M588 195l8 8m-8 0l8-8M593 196l8 8m-8 0l8-8M646 196l8 8m-8 0l8-8M587 196l8 8m-8 0l8-8M591 196l8 8m-8 0l8-8M641 197l8 8m-8 0l8-8M644 197l8 8m-8 0l8-8M653 196l8 8m-8 0l8-8M579 197l8 8m-8 0l8-8M583 198l8 8m-8 0l8-8M585 197l8 8m-8 0l8-8M588 197l8 8m-8 0l8-8M589 198l8 8m-8 0l8-8M580 199l8 8m-8 0l8-8M583 198l8 8m-8 0l8-8M587 199l8 8m-8 0l8-8M589 199l8 8m-8 0l8-8M640 198l8 8m-8 0l8-8M647 199l8 8m-8 0l8-8M567 200l8 8m-8 0l8-8M577 200l8 8m-8 0l8-8M643 200l8 8m-8 0l8-8M646 199l8 8m-8 0l8-8M651 200l8 8m-8 0l8-8M571 200l8 8m-8 0l8-8M575 200l8 8m-8 0l8-8M578 200l8 8m-8 0l8-8M583 201l8 8m-8 0l8-8M588 201l8 8m-8 0l8-8M589 200l8 8m-8 0l8-8M650 201l8 8m-8 0l8-8M576 202l8 8m-8 0l8-8M586 202l8 8m-8 0l8-8M587 202l8 8m-8 0l8-8M638 202l8 8m-8 0l8-8M566 203l8 8m-8 0l8-8M572 203l8 8m-8 0l8-8M574 203l8 8m-8 0l8-8M639 203l8 8m-8 0l8-8M644 203l8 8m-8 0l8-8M584 204l8 8m-8 0l8-8M634 204l8 8m-8 0l8-8M636 204l8 8m-8 0l8-8M650 204l8 8m-8 0l8-8M571 205l8 8m-8 0l8-8M580 205l8 8m-8 0l8-8M586 205l8 8m-8 0l8-8M626 204l8 8m-8 0l8-8M642 205l8 8m-8 0l8-8M644 205l8 8m-8 0l8-8M645 205l8 8m-8 0l8-8M568 205l8 8m-8 0l8-8M570 206l8 8m-8 0l8-8M571 206l8 8m-8 0l8-8M574 206l8 8m-8 0l8-8M630 206l8 8m-8 0l8-8M632 206l8 8m-8 0l8-8M642 206l8 8m-8 0l8-8M648 206l8 8m-8 0l8-8M572 207l8 8m-8 0l8-8M575 207l8 8m-8 0l8-8M580 207l8 8m-8 0l8-8M638 207l8 8m-8 0l8-8M561 208l8 8m-8 0l8-8M563 208l8 8m-8 0l8-8M566 209l8 8m-8 0l8-8M568 208l8 8m-8 0l8-8M570 208l8 8m-8 0l8-8M571 209l8 8m-8 0l8-8M574 209l8 8m-8 0l8-8M624 208l8 8m-8 0l8-8M627 208l8 8m-8 0l8-8M630 208l8 8m-8 0l8-8M637 208l8 8m-8 0l8-8M559 209l8 8m-8 0l8-8M562 209l8 8m-8 0l8-8M566 210l8 8m-8 0l8-8M569 209l8 8m-8 0l8-8M571 209l8 8m-8 0l8-8M572 210l8 8m-8 0l8-8M574 209l8 8m-8 0l8-8M575 209l8 8m-8 0l8-8M622 210l8 8m-8 0l8-8M624 209l8 8m-8 0l8-8M632 210l8 8m-8 0l8-8M635 209l8 8m-8 0l8-8M552 211l8 8m-8 0l8-8M557 210l8 8m-8 0l8-8M559 210l8 8m-8 0l8-8M620 210l8 8m-8 0l8-8M622 210l8 8m-8 0l8-8M623 210l8 8m-8 0l8-8M624 210l8 8m-8 0l8-8M633 210l8 8m-8 0l8-8M559 212l8 8m-8 0l8-8M563 211l8 8m-8 0l8-8M572 211l8 8m-8 0l8-8M573 211l8 8m-8 0l8-8M620 211l8 8m-8 0l8-8M634 211l8 8m-8 0l8-8M557 212l8 8m-8 0l8-8M572 212l8 8m-8 0l8-8M619 212l8 8m-8 0l8-8M620 213l8 8m-8 0l8-8M623 212l8 8m-8 0l8-8M624 212l8 8m-8 0l8-8M626 212l8 8m-8 0l8-8M543 213l8 8m-8 0l8-8M557 214l8 8m-8 0l8-8M615 213l8 8m-8 0l8-8M618 213l8 8m-8 0l8-8M622 214l8 8m-8 0l8-8M628 214l8 8m-8 0l8-8M557 214l8 8m-8 0l8-8M565 214l8 8m-8 0l8-8M568 214l8 8m-8 0l8-8M612 214l8 8m-8 0l8-8M617 214l8 8m-8 0l8-8M623 214l8 8m-8 0l8-8M557 215l8 8m-8 0l8-8M566 216l8 8m-8 0l8-8M612 216l8 8m-8 0l8-8M614 216l8 8m-8 0l8-8M619 216l8 8m-8 0l8-8M621 215l8 8m-8 0l8-8M623 215l8 8m-8 0l8-8M627 216l8 8m-8 0l8-8M557 217l8 8m-8 0l8-8M566 216l8 8m-8 0l8-8M610 216l8 8m-8 0l8-8M614 216l8 8m-8 0l8-8M552 218l8 8m-8 0l8-8M558 218l8 8m-8 0l8-8M566 217l8 8m-8 0l8-8M609 217l8 8m-8 0l8-8M613 218l8 8m-8 0l8-8M615 218l8 8m-8 0l8-8M625 218l8 8m-8 0l8-8M559 218l8 8m-8 0l8-8M560 219l8 8m-8 0l8-8M560 219l8 8m-8 0l8-8M608 218l8 8m-8 0l8-8M614 219l8 8m-8 0l8-8M544 219l8 8m-8 0l8-8M553 219l8 8m-8 0l8-8M554 220l8 8m-8 0l8-8M559 219l8 8m-8 0l8-8M561 220l8 8m-8 0l8-8M562 220l8 8m-8 0l8-8M565 219l8 8m-8 0l8-8M608 220l8 8m-8 0l8-8M608 219l8 8m-8 0l8-8M610 220l8 8m-8 0l8-8M613 219l8 8m-8 0l8-8M618 220l8 8m-8 0l8-8M622 219l8 8m-8 0l8-8M626 219l8 8m-8 0l8-8M536 221l8 8m-8 0l8-8M552 221l8 8m-8 0l8-8M553 221l8 8m-8 0l8-8M606 221l8 8m-8 0l8-8M611 221l8 8m-8 0l8-8M615 220l8 8m-8 0l8-8M616 220l8 8m-8 0l8-8M618 221l8 8m-8 0l8-8M544 222l8 8m-8 0l8-8M550 222l8 8m-8 0l8-8M552 222l8 8m-8 0l8-8M555 222l8 8m-8 0l8-8M559 222l8 8m-8 0l8-8M562 222l8 8m-8 0l8-8M604 221l8 8m-8 0l8-8M618 221l8 8m-8 0l8-8M533 223l8 8m-8 0l8-8M540 223l8 8m-8 0l8-8M550 223l8 8m-8 0l8-8M553 223l8 8m-8 0l8-8M553 223l8 8m-8 0l8-8M554 223l8 8m-8 0l8-8M606 223l8 8m-8 0l8-8M546 224l8 8m-8 0l8-8M552 223l8 8m-8 0l8-8M552 223l8 8m-8 0l8-8M559 224l8 8m-8 0l8-8M611 224l8 8m-8 0l8-8M618 224l8 8m-8 0l8-8M544 225l8 8m-8 0l8-8M606 225l8 8m-8 0l8-8M608 225l8 8m-8 0l8-8M616 225l8 8m-8 0l8-8M538 226l8 8m-8 0l8-8M552 226l8 8m-8 0l8-8M553 226l8 8m-8 0l8-8M555 226l8 8m-8 0l8-8M597 226l8 8m-8 0l8-8M598 226l8 8m-8 0l8-8M531 228l8 8m-8 0l8-8M600 227l8 8m-8 0l8-8M604 228l8 8m-8 0l8-8M606 227l8 8m-8 0l8-8M611 227l8 8m-8 0l8-8M528 228l8 8m-8 0l8-8M532 228l8 8m-8 0l8-8M598 228l8 8m-8 0l8-8M604 228l8 8m-8 0l8-8M610 228l8 8m-8 0l8-8M539 230l8 8m-8 0l8-8M542 229l8 8m-8 0l8-8M548 229l8 8m-8 0l8-8M598 229l8 8m-8 0l8-8M599 229l8 8m-8 0l8-8M604 229l8 8m-8 0l8-8M528 230l8 8m-8 0l8-8M593 231l8 8m-8 0l8-8M594 230l8 8m-8 0l8-8M596 230l8 8m-8 0l8-8M601 230l8 8m-8 0l8-8M605 230l8 8m-8 0l8-8M518 231l8 8m-8 0l8-8M524 231l8 8m-8 0l8-8M526 232l8 8m-8 0l8-8M530 232l8 8m-8 0l8-8M538 231l8 8m-8 0l8-8M542 231l8 8m-8 0l8-8M547 231l8 8m-8 0l8-8M597 232l8 8m-8 0l8-8M604 232l8 8m-8 0l8-8M611 231l8 8m-8 0l8-8M612 231l8 8m-8 0l8-8M526 232l8 8m-8 0l8-8M534 233l8 8m-8 0l8-8M590 233l8 8m-8 0l8-8M593 232l8 8m-8 0l8-8M596 232l8 8m-8 0l8-8M600 233l8 8m-8 0l8-8M605 232l8 8m-8 0l8-8M607 232l8 8m-8 0l8-8M608 233l8 8m-8 0l8-8M610 232l8 8m-8 0l8-8M519 234l8 8m-8 0l8-8M530 233l8 8m-8 0l8-8M540 234l8 8m-8 0l8-8M602 234l8 8m-8 0l8-8M604 233l8 8m-8 0l8-8M521 234l8 8m-8 0l8-8M533 234l8 8m-8 0l8-8M534 234l8 8m-8 0l8-8M591 235l8 8m-8 0l8-8M592 234l8 8m-8 0l8-8M598 234l8 8m-8 0l8-8M600 234l8 8m-8 0l8-8M601 235l8 8m-8 0l8-8M602 235l8 8m-8 0l8-8M610 234l8 8m-8 0l8-8M516 235l8 8m-8 0l8-8M527 235l8 8m-8 0l8-8M532 236l8 8m-8 0l8-8M588 236l8 8m-8 0l8-8M604 236l8 8m-8 0l8-8M605 236l8 8m-8 0l8-8M608 236l8 8m-8 0l8-8M505 237l8 8m-8 0l8-8M517 237l8 8m-8 0l8-8M524 237l8 8m-8 0l8-8M589 237l8 8m-8 0l8-8M592 236l8 8m-8 0l8-8M600 237l8 8m-8 0l8-8M604 236l8 8m-8 0l8-8M607 236l8 8m-8 0l8-8M511 237l8 8m-8 0l8-8M525 237l8 8m-8 0l8-8M528 238l8 8m-8 0l8-8M587 237l8 8m-8 0l8-8M590 237l8 8m-8 0l8-8M594 237l8 8m-8 0l8-8M603 238l8 8m-8 0l8-8M607 238l8 8m-8 0l8-8M488 239l8 8m-8 0l8-8M513 239l8 8m-8 0l8-8M516 239l8 8m-8 0l8-8M525 239l8 8m-8 0l8-8M583 239l8 8m-8 0l8-8M586 238l8 8m-8 0l8-8M589 239l8 8m-8 0l8-8M591 239l8 8m-8 0l8-8M595 239l8 8m-8 0l8-8M599 238l8 8m-8 0l8-8M500 240l8 8m-8 0l8-8M508 240l8 8m-8 0l8-8M510 240l8 8m-8 0l8-8M512 239l8 8m-8 0l8-8M519 239l8 8m-8 0l8-8M521 240l8 8m-8 0l8-8M592 240l8 8m-8 0l8-8M594 240l8 8m-8 0l8-8M598 239l8 8m-8 0l8-8M505 241l8 8m-8 0l8-8M507 241l8 8m-8 0l8-8M511 241l8 8m-8 0l8-8M520 241l8 8m-8 0l8-8M582 240l8 8m-8 0l8-8M586 240l8 8m-8 0l8-8M595 241l8 8m-8 0l8-8M601 241l8 8m-8 0l8-8M604 241l8 8m-8 0l8-8M500 242l8 8m-8 0l8-8M506 242l8 8m-8 0l8-8M510 241l8 8m-8 0l8-8M518 241l8 8m-8 0l8-8M518 242l8 8m-8 0l8-8M565 242l8 8m-8 0l8-8M588 242l8 8m-8 0l8-8M602 242l8 8m-8 0l8-8M496 243l8 8m-8 0l8-8M499 243l8 8m-8 0l8-8M519 243l8 8m-8 0l8-8M565 243l8 8m-8 0l8-8M583 243l8 8m-8 0l8-8M603 243l8 8m-8 0l8-8M499 243l8 8m-8 0l8-8M504 244l8 8m-8 0l8-8M580 244l8 8m-8 0l8-8M587 244l8 8m-8 0l8-8M561 245l8 8m-8 0l8-8M564 245l8 8m-8 0l8-8M566 245l8 8m-8 0l8-8M570 245l8 8m-8 0l8-8M578 245l8 8m-8 0l8-8M590 245l8 8m-8 0l8-8M500 246l8 8m-8 0l8-8M508 246l8 8m-8 0l8-8M508 246l8 8m-8 0l8-8M560 246l8 8m-8 0l8-8M564 246l8 8m-8 0l8-8M565 246l8 8m-8 0l8-8M566 246l8 8m-8 0l8-8M573 246l8 8m-8 0l8-8M574 246l8 8m-8 0l8-8M576 246l8 8m-8 0l8-8M582 245l8 8m-8 0l8-8M583 246l8 8m-8 0l8-8M585 246l8 8m-8 0l8-8M586 246l8 8m-8 0l8-8M587 246l8 8m-8 0l8-8M488 247l8 8m-8 0l8-8M502 247l8 8m-8 0l8-8M510 247l8 8m-8 0l8-8M571 247l8 8m-8 0l8-8M575 247l8 8m-8 0l8-8M583 247l8 8m-8 0l8-8M584 247l8 8m-8 0l8-8M591 247l8 8m-8 0l8-8M503 248l8 8m-8 0l8-8M505 248l8 8m-8 0l8-8M506 248l8 8m-8 0l8-8M560 248l8 8m-8 0l8-8M567 249l8 8m-8 0l8-8M569 248l8 8m-8 0l8-8M505 249l8 8m-8 0l8-8M557 249l8 8m-8 0l8-8M560 249l8 8m-8 0l8-8M565 249l8 8m-8 0l8-8M566 250l8 8m-8 0l8-8M569 249l8 8m-8 0l8-8M570 250l8 8m-8 0l8-8M573 249l8 8m-8 0l8-8M573 249l8 8m-8 0l8-8M577 249l8 8m-8 0l8-8M494 251l8 8m-8 0l8-8M496 250l8 8m-8 0l8-8M497 251l8 8m-8 0l8-8M498 250l8 8m-8 0l8-8M558 251l8 8m-8 0l8-8M571 250l8 8m-8 0l8-8M591 250l8 8m-8 0l8-8M489 251l8 8m-8 0l8-8M494 251l8 8m-8 0l8-8M507 251l8 8m-8 0l8-8M555 251l8 8m-8 0l8-8M556 252l8 8m-8 0l8-8M559 251l8 8m-8 0l8-8M565 251l8 8m-8 0l8-8M574 251l8 8m-8 0l8-8M582 252l8 8m-8 0l8-8M495 253l8 8m-8 0l8-8M503 253l8 8m-8 0l8-8M576 252l8 8m-8 0l8-8M577 252l8 8m-8 0l8-8M584 252l8 8m-8 0l8-8M501 254l8 8m-8 0l8-8M504 253l8 8m-8 0l8-8M553 254l8 8m-8 0l8-8M557 254l8 8m-8 0l8-8M561 253l8 8m-8 0l8-8M565 253l8 8m-8 0l8-8M571 253l8 8m-8 0l8-8M575 254l8 8m-8 0l8-8M578 253l8 8m-8 0l8-8M582 253l8 8m-8 0l8-8M503 255l8 8m-8 0l8-8M572 254l8 8m-8 0l8-8M493 256l8 8m-8 0l8-8M554 256l8 8m-8 0l8-8M562 255l8 8m-8 0l8-8M572 256l8 8m-8 0l8-8M499 257l8 8m-8 0l8-8M506 256l8 8m-8 0l8-8M551 256l8 8m-8 0l8-8M552 256l8 8m-8 0l8-8M563 257l8 8m-8 0l8-8M492 258l8 8m-8 0l8-8M493 257l8 8m-8 0l8-8M494 257l8 8m-8 0l8-8M496 257l8 8m-8 0l8-8M554 258l8 8m-8 0l8-8M483 259l8 8m-8 0l8-8M485 258l8 8m-8 0l8-8M487 259l8 8m-8 0l8-8M491 259l8 8m-8 0l8-8M494 258l8 8m-8 0l8-8M499 259l8 8m-8 0l8-8M540 258l8 8m-8 0l8-8M555 259l8 8m-8 0l8-8M565 258l8 8m-8 0l8-8M488 260l8 8m-8 0l8-8M497 260l8 8m-8 0l8-8M500 260l8 8m-8 0l8-8M539 260l8 8m-8 0l8-8M548 260l8 8m-8 0l8-8M550 259l8 8m-8 0l8-8M561 260l8 8m-8 0l8-8M566 260l8 8m-8 0l8-8M573 259l8 8m-8 0l8-8M499 261l8 8m-8 0l8-8M540 261l8 8m-8 0l8-8M557 261l8 8m-8 0l8-8M484 262l8 8m-8 0l8-8M485 262l8 8m-8 0l8-8M490 262l8 8m-8 0l8-8M490 262l8 8m-8 0l8-8M492 262l8 8m-8 0l8-8M500 262l8 8m-8 0l8-8M540 261l8 8m-8 0l8-8M549 262l8 8m-8 0l8-8M555 262l8 8m-8 0l8-8M483 263l8 8m-8 0l8-8M492 263l8 8m-8 0l8-8M499 263l8 8m-8 0l8-8M531 263l8 8m-8 0l8-8M533 263l8 8m-8 0l8-8M536 263l8 8m-8 0l8-8M538 263l8 8m-8 0l8-8M541 263l8 8m-8 0l8-8M483 263l8 8m-8 0l8-8M541 264l8 8m-8 0l8-8M542 264l8 8m-8 0l8-8M548 264l8 8m-8 0l8-8M552 264l8 8m-8 0l8-8M485 265l8 8m-8 0l8-8M486 265l8 8m-8 0l8-8M533 265l8 8m-8 0l8-8M534 265l8 8m-8 0l8-8M536 265l8 8m-8 0l8-8M540 265l8 8m-8 0l8-8M550 265l8 8m-8 0l8-8M551 265l8 8m-8 0l8-8M477 266l8 8m-8 0l8-8M531 266l8 8m-8 0l8-8M549 266l8 8m-8 0l8-8M483 267l8 8m-8 0l8-8M490 267l8 8m-8 0l8-8M528 267l8 8m-8 0l8-8M529 268l8 8m-8 0l8-8M534 267l8 8m-8 0l8-8M536 267l8 8m-8 0l8-8M540 267l8 8m-8 0l8-8M550 267l8 8m-8 0l8-8M482 268l8 8m-8 0l8-8M533 268l8 8m-8 0l8-8M535 268l8 8m-8 0l8-8M537 269l8 8m-8 0l8-8M523 270l8 8m-8 0l8-8M538 270l8 8m-8 0l8-8M549 270l8 8m-8 0l8-8M475 271l8 8m-8 0l8-8M478 270l8 8m-8 0l8-8M486 270l8 8m-8 0l8-8M515 270l8 8m-8 0l8-8M517 270l8 8m-8 0l8-8M526 270l8 8m-8 0l8-8M528 270l8 8m-8 0l8-8M530 271l8 8m-8 0l8-8M534 270l8 8m-8 0l8-8M541 271l8 8m-8 0l8-8M484 271l8 8m-8 0l8-8M514 271l8 8m-8 0l8-8M516 271l8 8m-8 0l8-8M485 272l8 8m-8 0l8-8M509 272l8 8m-8 0l8-8M516 273l8 8m-8 0l8-8M529 273l8 8m-8 0l8-8M514 273l8 8m-8 0l8-8M525 273l8 8m-8 0l8-8M480 274l8 8m-8 0l8-8M482 274l8 8m-8 0l8-8M514 275l8 8m-8 0l8-8M517 274l8 8m-8 0l8-8M520 274l8 8m-8 0l8-8M528 275l8 8m-8 0l8-8M530 275l8 8m-8 0l8-8M532 274l8 8m-8 0l8-8M500 275l8 8m-8 0l8-8M504 275l8 8m-8 0l8-8M511 275l8 8m-8 0l8-8M514 275l8 8m-8 0l8-8M516 275l8 8m-8 0l8-8M518 276l8 8m-8 0l8-8M526 276l8 8m-8 0l8-8M481 276l8 8m-8 0l8-8M483 276l8 8m-8 0l8-8M506 277l8 8m-8 0l8-8M514 277l8 8m-8 0l8-8M516 276l8 8m-8 0l8-8M465 278l8 8m-8 0l8-8M466 277l8 8m-8 0l8-8M478 277l8 8m-8 0l8-8M482 277l8 8m-8 0l8-8M483 278l8 8m-8 0l8-8M505 277l8 8m-8 0l8-8M520 278l8 8m-8 0l8-8M523 277l8 8m-8 0l8-8M528 278l8 8m-8 0l8-8M531 278l8 8m-8 0l8-8M481 279l8 8m-8 0l8-8M483 279l8 8m-8 0l8-8M495 279l8 8m-8 0l8-8M496 279l8 8m-8 0l8-8M501 279l8 8m-8 0l8-8M516 279l8 8m-8 0l8-8M519 279l8 8m-8 0l8-8M519 279l8 8m-8 0l8-8M522 278l8 8m-8 0l8-8M469 280l8 8m-8 0l8-8M476 280l8 8m-8 0l8-8M493 279l8 8m-8 0l8-8M503 280l8 8m-8 0l8-8M510 279l8 8m-8 0l8-8M514 280l8 8m-8 0l8-8M514 279l8 8m-8 0l8-8M517 279l8 8m-8 0l8-8M523 280l8 8m-8 0l8-8M475 281l8 8m-8 0l8-8M478 281l8 8m-8 0l8-8M482 281l8 8m-8 0l8-8M473 282l8 8m-8 0l8-8M480 281l8 8m-8 0l8-8M485 282l8 8m-8 0l8-8M488 282l8 8m-8 0l8-8M494 281l8 8m-8 0l8-8M501 282l8 8m-8 0l8-8M502 282l8 8m-8 0l8-8M508 282l8 8m-8 0l8-8M514 281l8 8m-8 0l8-8M514 282l8 8m-8 0l8-8M517 282l8 8m-8 0l8-8M520 282l8 8m-8 0l8-8M466 283l8 8m-8 0l8-8M476 282l8 8m-8 0l8-8M478 283l8 8m-8 0l8-8M493 282l8 8m-8 0l8-8M519 283l8 8m-8 0l8-8M459 284l8 8m-8 0l8-8M466 284l8 8m-8 0l8-8M480 284l8 8m-8 0l8-8M485 284l8 8m-8 0l8-8M492 284l8 8m-8 0l8-8M510 284l8 8m-8 0l8-8M472 285l8 8m-8 0l8-8M472 285l8 8m-8 0l8-8M496 285l8 8m-8 0l8-8M515 285l8 8m-8 0l8-8M464 286l8 8m-8 0l8-8M474 286l8 8m-8 0l8-8M476 286l8 8m-8 0l8-8M479 286l8 8m-8 0l8-8M480 286l8 8m-8 0l8-8M482 286l8 8m-8 0l8-8M485 286l8 8m-8 0l8-8M488 286l8 8m-8 0l8-8M492 286l8 8m-8 0l8-8M494 286l8 8m-8 0l8-8M502 286l8 8m-8 0l8-8M509 286l8 8m-8 0l8-8M511 286l8 8m-8 0l8-8M470 287l8 8m-8 0l8-8M474 287l8 8m-8 0l8-8M476 287l8 8m-8 0l8-8M478 288l8 8m-8 0l8-8M491 287l8 8m-8 0l8-8M509 287l8 8m-8 0l8-8M517 288l8 8m-8 0l8-8M455 288l8 8m-8 0l8-8M459 288l8 8m-8 0l8-8M469 288l8 8m-8 0l8-8M472 288l8 8m-8 0l8-8M490 288l8 8m-8 0l8-8M495 289l8 8m-8 0l8-8M503 288l8 8m-8 0l8-8M453 289l8 8m-8 0l8-8M467 289l8 8m-8 0l8-8M471 290l8 8m-8 0l8-8M476 289l8 8m-8 0l8-8M483 289l8 8m-8 0l8-8M490 289l8 8m-8 0l8-8M501 289l8 8m-8 0l8-8M467 291l8 8m-8 0l8-8M473 290l8 8m-8 0l8-8M476 291l8 8m-8 0l8-8M477 290l8 8m-8 0l8-8M485 291l8 8m-8 0l8-8M490 290l8 8m-8 0l8-8M456 291l8 8m-8 0l8-8M464 291l8 8m-8 0l8-8M483 291l8 8m-8 0l8-8M484 291l8 8m-8 0l8-8M489 292l8 8m-8 0l8-8M457 292l8 8m-8 0l8-8M469 292l8 8m-8 0l8-8M475 292l8 8m-8 0l8-8M478 293l8 8m-8 0l8-8M482 293l8 8m-8 0l8-8M483 293l8 8m-8 0l8-8M462 293l8 8m-8 0l8-8M473 293l8 8m-8 0l8-8M479 293l8 8m-8 0l8-8M477 294l8 8m-8 0l8-8M484 294l8 8m-8 0l8-8M480 295l8 8m-8 0l8-8M451 298l8 8m-8 0l8-8M651 204l8 8m-8 0l8-8M683 159l8 8m-8 0l8-8M524 293l8 8m-8 0l8-8M550 278l8 8m-8 0l8-8M600 247l8 8m-8 0l8-8M485 306l8 8m-8 0l8-8M504 291l8 8m-8 0l8-8M485 304l8 8m-8 0l8-8M511 300l8 8m-8 0l8-8M681 161l8 8m-8 0l8-8M547 276l8 8m-8 0l8-8M580 266l8 8m-8 0l8-8M650 209l8 8m-8 0l8-8M678 177l8 8m-8 0l8-8M592 260l8 8m-8 0l8-8M673 178l8 8m-8 0l8-8M612 241l8 8m-8 0l8-8M676 175l8 8m-8 0l8-8M493 302l8 8m-8 0l8-8M617 242l8 8m-8 0l8-8M521 291l8 8m-8 0l8-8M672 182l8 8m-8 0l8-8M667 185l8 8m-8 0l8-8M520 296l8 8m-8 0l8-8M499 305l8 8m-8 0l8-8M492 306l8 8m-8 0l8-8M614 237l8 8m-8 0l8-8M666 197l8 8m-8 0l8-8M616 237l8 8m-8 0l8-8M530 293l8 8m-8 0l8-8M509 294l8 8m-8 0l8-8M607 248l8 8m-8 0l8-8M683 164l8 8m-8 0l8-8M596 256l8 8m-8 0l8-8M590 261l8 8m-8 0l8-8M594 250l8 8m-8 0l8-8M515 292l8 8m-8 0l8-8M498 298l8 8m-8 0l8-8M531 286l8 8m-8 0l8-8M555 277l8 8m-8 0l8-8M674 176l8 8m-8 0l8-8M529 294l8 8m-8 0l8-8M552 272l8 8m-8 0l8-8M553 270l8 8m-8 0l8-8M480 297l8 8m-8 0l8-8M647 209l8 8m-8 0l8-8M536 283l8 8m-8 0l8-8M560 272l8 8m-8 0l8-8M490 307l8 8m-8 0l8-8M543 281l8 8m-8 0l8-8M642 219l8 8m-8 0l8-8M615 239l8 8m-8 0l8-8M503 300l8 8m-8 0l8-8M572 266l8 8m-8 0l8-8M487 305l8 8m-8 0l8-8M520 299l8 8m-8 0l8-8M516 295l8 8m-8 0l8-8M538 283l8 8m-8 0l8-8M486 295l8 8m-8 0l8-8M505 297l8 8m-8 0l8-8M482 300l8 8m-8 0l8-8M601 252l8 8m-8 0l8-8M472 297l8 8m-8 0l8-8M672 184l8 8m-8 0l8-8M672 177l8 8m-8 0l8-8M527 288l8 8m-8 0l8-8M576 270l8 8m-8 0l8-8M495 300l8 8m-8 0l8-8M580 268l8 8m-8 0l8-8M586 257l8 8m-8 0l8-8M564 262l8 8m-8 0l8-8M626 233l8 8m-8 0l8-8M487 303l8 8m-8 0l8-8M512 297l8 8m-8 0l8-8M552 273l8 8m-8 0l8-8M611 237l8 8m-8 0l8-8M492 300l8 8m-8 0l8-8M681 173l8 8m-8 0l8-8M679 177l8 8m-8 0l8-8M552 271l8 8m-8 0l8-8M486 308l8 8m-8 0l8-8M634 217l8 8m-8 0l8-8M494 298l8 8m-8 0l8-8M472 302l8 8m-8 0l8-8M595 250l8 8m-8 0l8-8M500 300l8 8m-8 0l8-8M659 196l8 8m-8 0l8-8M554 279l8 8m-8 0l8-8M489 302l8 8m-8 0l8-8M602 251l8 8m-8 0l8-8M464 247l8 8m-8 0l8-8M445 264l8 8m-8 0l8-8M455 257l8 8m-8 0l8-8M454 264l8 8m-8 0l8-8M466 252l8 8m-8 0l8-8M459 268l8 8m-8 0l8-8M447 279l8 8m-8 0l8-8M454 278l8 8m-8 0l8-8M432 291l8 8m-8 0l8-8M442 294l8 8m-8 0l8-8M475 257l8 8m-8 0l8-8M483 249l8 8m-8 0l8-8M491 249l8 8m-8 0l8-8M470 260l8 8m-8 0l8-8M463 274l8 8m-8 0l8-8M450 285l8 8m-8 0l8-8M446 289l8 8m-8 0l8-8M504 236l8 8m-8 0l8-8M517 228l8 8m-8 0l8-8M528 223l8 8m-8 0l8-8M543 214l8 8m-8 0l8-8M554 207l8 8m-8 0l8-8M451 315l8 8m-8 0l8-8M464 308l8 8m-8 0l8-8M476 304l8 8m-8 0l8-8M478 316l8 8m-8 0l8-8M472 318l8 8m-8 0l8-8M491 310l8 8m-8 0l8-8M496 308l8 8m-8 0l8-8M517 318l8 8m-8 0l8-8M529 315l8 8m-8 0l8-8M547 319l8 8m-8 0l8-8M564 318l8 8m-8 0l8-8M528 302l8 8m-8 0l8-8M533 300l8 8m-8 0l8-8M514 299l8 8m-8 0l8-8M550 291l8 8m-8 0l8-8M564 286l8 8m-8 0l8-8M554 291l8 8m-8 0l8-8M454 324l8 8m-8 0l8-8M485 299l8 8m-8 0l8-8M493 302l8 8m-8 0l8-8M507 298l8 8m-8 0l8-8M522 295l8 8m-8 0l8-8M538 291l8 8m-8 0l8-8M543 289l8 8m-8 0l8-8M559 283l8 8m-8 0l8-8M475 299l8 8m-8 0l8-8M467 297l8 8m-8 0l8-8M577 290l8 8m-8 0l8-8M590 289l8 8m-8 0l8-8M602 279l8 8m-8 0l8-8M615 266l8 8m-8 0l8-8M645 249l8 8m-8 0l8-8M660 233l8 8m-8 0l8-8M652 229l8 8m-8 0l8-8M573 281l8 8m-8 0l8-8M578 273l8 8m-8 0l8-8M583 278l8 8m-8 0l8-8M587 268l8 8m-8 0l8-8M594 272l8 8m-8 0l8-8M597 262l8 8m-8 0l8-8M602 257l8 8m-8 0l8-8M607 261l8 8m-8 0l8-8M611 252l8 8m-8 0l8-8M615 256l8 8m-8 0l8-8M620 244l8 8m-8 0l8-8M624 247l8 8m-8 0l8-8M629 236l8 8m-8 0l8-8M633 241l8 8m-8 0l8-8M637 231l8 8m-8 0l8-8M641 222l8 8m-8 0l8-8M628 225l8 8m-8 0l8-8M654 204l8 8m-8 0l8-8M664 197l8 8m-8 0l8-8M666 191l8 8m-8 0l8-8M675 170l8 8m-8 0l8-8M681 162l8 8m-8 0l8-8M686 160l8 8m-8 0l8-8M691 149l8 8m-8 0l8-8M694 136l8 8m-8 0l8-8M689 133l8 8m-8 0l8-8M683 136l8 8m-8 0l8-8M668 139l8 8m-8 0l8-8M578 283l8 8m-8 0l8-8M572 268l8 8m-8 0l8-8M583 264l8 8m-8 0l8-8M595 281l8 8m-8 0l8-8M591 257l8 8m-8 0l8-8M604 247l8 8m-8 0l8-8M599 268l8 8m-8 0l8-8M610 239l8 8m-8 0l8-8" stroke="#7f7f7f" stroke-width="1.68" stroke-linecap="round" fill="none"/></g>
<path d="M392.2 313.9L696.9 120.2" stroke="#000" stroke-width="2.5" stroke-dasharray="9.6 10"/>
<path d="M391 316.8L663 141" stroke="#f00" stroke-width="2.6" stroke-linecap="round" stroke-linejoin="round"/>
</g>
<g clip-path="url(#c3)" fill="none">
<path d="M98.6 496.4V321.3M236.1 496.4V321.3M373.6 496.4V321.3" stroke="#d3d3d3" stroke-width="1.6" stroke-dasharray="6.5 6.5"/>
<path d="M145 493L168 492L244 493L248 490L266 489L270 493L284 492L335 493L334 489L331 484L332 473L328 469L327 467L327 462L323 457L323 453L325 447L325 444L323 440L323 427L325 425L323 421L320 419L299 413L293 408L290 408L288 410L284 409L277 410L275 407L271 405L261 407L254 406L246 401L233 401L220 410L212 412L212 414L214 417L213 423L202 424L198 428L190 432L186 435L185 437L179 441L172 442L168 444L165 451L160 456L155 458L155 467L152 472L151 485L150 488Z" fill="#7f7f7f" stroke="#7f7f7f" stroke-width="1" stroke-linejoin="round"/><g transform="scale(0.95)"><path d="M260 413l8 8m-8 0l8-8M265 414l8 8m-8 0l8-8M244 415l8 8m-8 0l8-8M284 415l8 8m-8 0l8-8M248 416l8 8m-8 0l8-8M287 417l8 8m-8 0l8-8M248 419l8 8m-8 0l8-8M257 419l8 8m-8 0l8-8M244 420l8 8m-8 0l8-8M251 420l8 8m-8 0l8-8M251 420l8 8m-8 0l8-8M257 420l8 8m-8 0l8-8M281 420l8 8m-8 0l8-8M238 421l8 8m-8 0l8-8M241 420l8 8m-8 0l8-8M245 420l8 8m-8 0l8-8M238 421l8 8m-8 0l8-8M247 422l8 8m-8 0l8-8M260 422l8 8m-8 0l8-8M282 422l8 8m-8 0l8-8M307 421l8 8m-8 0l8-8M233 423l8 8m-8 0l8-8M236 422l8 8m-8 0l8-8M236 423l8 8m-8 0l8-8M239 423l8 8m-8 0l8-8M246 423l8 8m-8 0l8-8M282 423l8 8m-8 0l8-8M302 423l8 8m-8 0l8-8M234 424l8 8m-8 0l8-8M242 424l8 8m-8 0l8-8M246 424l8 8m-8 0l8-8M247 424l8 8m-8 0l8-8M253 424l8 8m-8 0l8-8M254 424l8 8m-8 0l8-8M264 424l8 8m-8 0l8-8M266 424l8 8m-8 0l8-8M278 424l8 8m-8 0l8-8M236 425l8 8m-8 0l8-8M239 424l8 8m-8 0l8-8M240 425l8 8m-8 0l8-8M257 425l8 8m-8 0l8-8M265 425l8 8m-8 0l8-8M267 425l8 8m-8 0l8-8M270 425l8 8m-8 0l8-8M282 425l8 8m-8 0l8-8M236 426l8 8m-8 0l8-8M242 426l8 8m-8 0l8-8M243 426l8 8m-8 0l8-8M259 426l8 8m-8 0l8-8M269 426l8 8m-8 0l8-8M271 426l8 8m-8 0l8-8M293 426l8 8m-8 0l8-8M296 426l8 8m-8 0l8-8M299 426l8 8m-8 0l8-8M303 426l8 8m-8 0l8-8M225 427l8 8m-8 0l8-8M228 427l8 8m-8 0l8-8M229 427l8 8m-8 0l8-8M238 427l8 8m-8 0l8-8M243 427l8 8m-8 0l8-8M261 427l8 8m-8 0l8-8M263 427l8 8m-8 0l8-8M281 427l8 8m-8 0l8-8M288 427l8 8m-8 0l8-8M305 427l8 8m-8 0l8-8M222 428l8 8m-8 0l8-8M228 428l8 8m-8 0l8-8M262 428l8 8m-8 0l8-8M265 428l8 8m-8 0l8-8M270 428l8 8m-8 0l8-8M273 428l8 8m-8 0l8-8M278 428l8 8m-8 0l8-8M286 429l8 8m-8 0l8-8M296 428l8 8m-8 0l8-8M298 429l8 8m-8 0l8-8M303 428l8 8m-8 0l8-8M311 428l8 8m-8 0l8-8M324 428l8 8m-8 0l8-8M228 429l8 8m-8 0l8-8M234 429l8 8m-8 0l8-8M264 429l8 8m-8 0l8-8M272 429l8 8m-8 0l8-8M286 429l8 8m-8 0l8-8M297 430l8 8m-8 0l8-8M303 429l8 8m-8 0l8-8M304 429l8 8m-8 0l8-8M225 430l8 8m-8 0l8-8M231 430l8 8m-8 0l8-8M274 430l8 8m-8 0l8-8M277 430l8 8m-8 0l8-8M279 431l8 8m-8 0l8-8M279 431l8 8m-8 0l8-8M285 430l8 8m-8 0l8-8M286 430l8 8m-8 0l8-8M288 431l8 8m-8 0l8-8M295 430l8 8m-8 0l8-8M296 430l8 8m-8 0l8-8M310 430l8 8m-8 0l8-8M311 430l8 8m-8 0l8-8M317 430l8 8m-8 0l8-8M319 430l8 8m-8 0l8-8M221 431l8 8m-8 0l8-8M232 431l8 8m-8 0l8-8M270 432l8 8m-8 0l8-8M278 432l8 8m-8 0l8-8M281 432l8 8m-8 0l8-8M301 432l8 8m-8 0l8-8M303 432l8 8m-8 0l8-8M306 431l8 8m-8 0l8-8M309 432l8 8m-8 0l8-8M220 433l8 8m-8 0l8-8M232 433l8 8m-8 0l8-8M280 432l8 8m-8 0l8-8M294 432l8 8m-8 0l8-8M322 432l8 8m-8 0l8-8M220 433l8 8m-8 0l8-8M221 433l8 8m-8 0l8-8M226 433l8 8m-8 0l8-8M279 434l8 8m-8 0l8-8M284 433l8 8m-8 0l8-8M285 433l8 8m-8 0l8-8M295 434l8 8m-8 0l8-8M305 433l8 8m-8 0l8-8M308 433l8 8m-8 0l8-8M311 433l8 8m-8 0l8-8M324 433l8 8m-8 0l8-8M331 434l8 8m-8 0l8-8M216 434l8 8m-8 0l8-8M220 434l8 8m-8 0l8-8M281 434l8 8m-8 0l8-8M293 434l8 8m-8 0l8-8M304 434l8 8m-8 0l8-8M316 434l8 8m-8 0l8-8M320 434l8 8m-8 0l8-8M328 434l8 8m-8 0l8-8M330 435l8 8m-8 0l8-8M211 436l8 8m-8 0l8-8M283 436l8 8m-8 0l8-8M290 436l8 8m-8 0l8-8M293 435l8 8m-8 0l8-8M294 435l8 8m-8 0l8-8M305 435l8 8m-8 0l8-8M310 435l8 8m-8 0l8-8M310 436l8 8m-8 0l8-8M318 435l8 8m-8 0l8-8M196 436l8 8m-8 0l8-8M221 436l8 8m-8 0l8-8M223 437l8 8m-8 0l8-8M231 436l8 8m-8 0l8-8M282 437l8 8m-8 0l8-8M307 436l8 8m-8 0l8-8M315 436l8 8m-8 0l8-8M317 436l8 8m-8 0l8-8M319 436l8 8m-8 0l8-8M323 437l8 8m-8 0l8-8M324 437l8 8m-8 0l8-8M327 437l8 8m-8 0l8-8M329 437l8 8m-8 0l8-8M331 436l8 8m-8 0l8-8M285 438l8 8m-8 0l8-8M295 437l8 8m-8 0l8-8M302 438l8 8m-8 0l8-8M316 437l8 8m-8 0l8-8M318 438l8 8m-8 0l8-8M319 438l8 8m-8 0l8-8M323 438l8 8m-8 0l8-8M327 438l8 8m-8 0l8-8M224 439l8 8m-8 0l8-8M227 438l8 8m-8 0l8-8M230 439l8 8m-8 0l8-8M231 439l8 8m-8 0l8-8M284 439l8 8m-8 0l8-8M287 438l8 8m-8 0l8-8M295 439l8 8m-8 0l8-8M298 439l8 8m-8 0l8-8M306 439l8 8m-8 0l8-8M312 439l8 8m-8 0l8-8M314 438l8 8m-8 0l8-8M318 439l8 8m-8 0l8-8M318 438l8 8m-8 0l8-8M320 439l8 8m-8 0l8-8M333 439l8 8m-8 0l8-8M334 439l8 8m-8 0l8-8M227 440l8 8m-8 0l8-8M230 440l8 8m-8 0l8-8M232 440l8 8m-8 0l8-8M297 440l8 8m-8 0l8-8M301 440l8 8m-8 0l8-8M302 440l8 8m-8 0l8-8M309 440l8 8m-8 0l8-8M310 440l8 8m-8 0l8-8M312 440l8 8m-8 0l8-8M325 440l8 8m-8 0l8-8M326 439l8 8m-8 0l8-8M331 439l8 8m-8 0l8-8M332 439l8 8m-8 0l8-8M340 440l8 8m-8 0l8-8M205 441l8 8m-8 0l8-8M228 441l8 8m-8 0l8-8M231 440l8 8m-8 0l8-8M286 441l8 8m-8 0l8-8M290 441l8 8m-8 0l8-8M292 441l8 8m-8 0l8-8M296 441l8 8m-8 0l8-8M304 441l8 8m-8 0l8-8M310 441l8 8m-8 0l8-8M312 441l8 8m-8 0l8-8M328 440l8 8m-8 0l8-8M330 441l8 8m-8 0l8-8M339 441l8 8m-8 0l8-8M225 442l8 8m-8 0l8-8M292 442l8 8m-8 0l8-8M294 442l8 8m-8 0l8-8M304 441l8 8m-8 0l8-8M308 442l8 8m-8 0l8-8M322 441l8 8m-8 0l8-8M323 442l8 8m-8 0l8-8M324 442l8 8m-8 0l8-8M325 442l8 8m-8 0l8-8M210 443l8 8m-8 0l8-8M215 443l8 8m-8 0l8-8M216 443l8 8m-8 0l8-8M217 443l8 8m-8 0l8-8M221 443l8 8m-8 0l8-8M223 443l8 8m-8 0l8-8M226 443l8 8m-8 0l8-8M230 443l8 8m-8 0l8-8M294 443l8 8m-8 0l8-8M309 443l8 8m-8 0l8-8M310 443l8 8m-8 0l8-8M332 443l8 8m-8 0l8-8M209 443l8 8m-8 0l8-8M215 444l8 8m-8 0l8-8M215 444l8 8m-8 0l8-8M228 444l8 8m-8 0l8-8M307 444l8 8m-8 0l8-8M313 444l8 8m-8 0l8-8M325 444l8 8m-8 0l8-8M206 445l8 8m-8 0l8-8M214 445l8 8m-8 0l8-8M229 445l8 8m-8 0l8-8M310 445l8 8m-8 0l8-8M327 445l8 8m-8 0l8-8M334 445l8 8m-8 0l8-8M207 446l8 8m-8 0l8-8M210 446l8 8m-8 0l8-8M212 446l8 8m-8 0l8-8M225 446l8 8m-8 0l8-8M227 445l8 8m-8 0l8-8M315 446l8 8m-8 0l8-8M323 446l8 8m-8 0l8-8M206 447l8 8m-8 0l8-8M228 447l8 8m-8 0l8-8M315 447l8 8m-8 0l8-8M319 447l8 8m-8 0l8-8M323 447l8 8m-8 0l8-8M333 447l8 8m-8 0l8-8M199 448l8 8m-8 0l8-8M203 448l8 8m-8 0l8-8M204 448l8 8m-8 0l8-8M216 448l8 8m-8 0l8-8M217 449l8 8m-8 0l8-8M224 449l8 8m-8 0l8-8M317 448l8 8m-8 0l8-8M318 448l8 8m-8 0l8-8M319 448l8 8m-8 0l8-8M198 449l8 8m-8 0l8-8M207 450l8 8m-8 0l8-8M215 449l8 8m-8 0l8-8M222 449l8 8m-8 0l8-8M323 449l8 8m-8 0l8-8M324 449l8 8m-8 0l8-8M326 449l8 8m-8 0l8-8M331 449l8 8m-8 0l8-8M336 449l8 8m-8 0l8-8M337 449l8 8m-8 0l8-8M213 450l8 8m-8 0l8-8M217 450l8 8m-8 0l8-8M219 451l8 8m-8 0l8-8M221 451l8 8m-8 0l8-8M223 450l8 8m-8 0l8-8M224 450l8 8m-8 0l8-8M225 451l8 8m-8 0l8-8M326 450l8 8m-8 0l8-8M330 450l8 8m-8 0l8-8M332 450l8 8m-8 0l8-8M185 451l8 8m-8 0l8-8M197 452l8 8m-8 0l8-8M206 452l8 8m-8 0l8-8M217 451l8 8m-8 0l8-8M222 451l8 8m-8 0l8-8M331 451l8 8m-8 0l8-8M195 452l8 8m-8 0l8-8M213 453l8 8m-8 0l8-8M215 452l8 8m-8 0l8-8M219 452l8 8m-8 0l8-8M327 452l8 8m-8 0l8-8M332 453l8 8m-8 0l8-8M208 453l8 8m-8 0l8-8M214 453l8 8m-8 0l8-8M333 453l8 8m-8 0l8-8M193 454l8 8m-8 0l8-8M203 454l8 8m-8 0l8-8M207 455l8 8m-8 0l8-8M210 454l8 8m-8 0l8-8M214 454l8 8m-8 0l8-8M332 454l8 8m-8 0l8-8M191 455l8 8m-8 0l8-8M197 456l8 8m-8 0l8-8M201 455l8 8m-8 0l8-8M206 456l8 8m-8 0l8-8M207 455l8 8m-8 0l8-8M333 456l8 8m-8 0l8-8M334 456l8 8m-8 0l8-8M200 456l8 8m-8 0l8-8M202 457l8 8m-8 0l8-8M332 457l8 8m-8 0l8-8M340 456l8 8m-8 0l8-8M200 457l8 8m-8 0l8-8M207 457l8 8m-8 0l8-8M210 458l8 8m-8 0l8-8M336 457l8 8m-8 0l8-8M196 458l8 8m-8 0l8-8M198 459l8 8m-8 0l8-8M199 459l8 8m-8 0l8-8M332 458l8 8m-8 0l8-8M333 458l8 8m-8 0l8-8M337 458l8 8m-8 0l8-8M195 460l8 8m-8 0l8-8M195 460l8 8m-8 0l8-8M198 460l8 8m-8 0l8-8M336 460l8 8m-8 0l8-8M337 459l8 8m-8 0l8-8M179 461l8 8m-8 0l8-8M184 461l8 8m-8 0l8-8M190 460l8 8m-8 0l8-8M191 461l8 8m-8 0l8-8M192 461l8 8m-8 0l8-8M199 461l8 8m-8 0l8-8M200 461l8 8m-8 0l8-8M335 460l8 8m-8 0l8-8M165 462l8 8m-8 0l8-8M186 462l8 8m-8 0l8-8M188 462l8 8m-8 0l8-8M191 462l8 8m-8 0l8-8M199 461l8 8m-8 0l8-8M200 462l8 8m-8 0l8-8M201 462l8 8m-8 0l8-8M332 462l8 8m-8 0l8-8M335 462l8 8m-8 0l8-8M181 463l8 8m-8 0l8-8M195 463l8 8m-8 0l8-8M199 463l8 8m-8 0l8-8M332 462l8 8m-8 0l8-8M179 464l8 8m-8 0l8-8M184 464l8 8m-8 0l8-8M188 464l8 8m-8 0l8-8M189 464l8 8m-8 0l8-8M196 464l8 8m-8 0l8-8M333 464l8 8m-8 0l8-8M336 464l8 8m-8 0l8-8M345 464l8 8m-8 0l8-8M348 464l8 8m-8 0l8-8M175 465l8 8m-8 0l8-8M332 465l8 8m-8 0l8-8M338 465l8 8m-8 0l8-8M174 466l8 8m-8 0l8-8M181 466l8 8m-8 0l8-8M182 466l8 8m-8 0l8-8M185 466l8 8m-8 0l8-8M188 466l8 8m-8 0l8-8M189 466l8 8m-8 0l8-8M333 466l8 8m-8 0l8-8M334 466l8 8m-8 0l8-8M342 466l8 8m-8 0l8-8M173 467l8 8m-8 0l8-8M183 467l8 8m-8 0l8-8M185 467l8 8m-8 0l8-8M331 467l8 8m-8 0l8-8M337 467l8 8m-8 0l8-8M339 467l8 8m-8 0l8-8M171 468l8 8m-8 0l8-8M179 468l8 8m-8 0l8-8M329 468l8 8m-8 0l8-8M331 468l8 8m-8 0l8-8M334 468l8 8m-8 0l8-8M335 468l8 8m-8 0l8-8M174 470l8 8m-8 0l8-8M179 469l8 8m-8 0l8-8M185 469l8 8m-8 0l8-8M335 469l8 8m-8 0l8-8M172 471l8 8m-8 0l8-8M184 470l8 8m-8 0l8-8M332 470l8 8m-8 0l8-8M334 470l8 8m-8 0l8-8M338 470l8 8m-8 0l8-8M339 470l8 8m-8 0l8-8M168 471l8 8m-8 0l8-8M176 471l8 8m-8 0l8-8M183 471l8 8m-8 0l8-8M339 471l8 8m-8 0l8-8M343 471l8 8m-8 0l8-8M161 473l8 8m-8 0l8-8M171 472l8 8m-8 0l8-8M175 473l8 8m-8 0l8-8M332 472l8 8m-8 0l8-8M332 473l8 8m-8 0l8-8M169 474l8 8m-8 0l8-8M175 473l8 8m-8 0l8-8M177 474l8 8m-8 0l8-8M340 474l8 8m-8 0l8-8M165 475l8 8m-8 0l8-8M168 475l8 8m-8 0l8-8M169 475l8 8m-8 0l8-8M171 474l8 8m-8 0l8-8M173 475l8 8m-8 0l8-8M179 474l8 8m-8 0l8-8M329 474l8 8m-8 0l8-8M334 474l8 8m-8 0l8-8M165 476l8 8m-8 0l8-8M166 476l8 8m-8 0l8-8M168 475l8 8m-8 0l8-8M173 475l8 8m-8 0l8-8M179 475l8 8m-8 0l8-8M329 475l8 8m-8 0l8-8M165 476l8 8m-8 0l8-8M167 477l8 8m-8 0l8-8M170 477l8 8m-8 0l8-8M335 477l8 8m-8 0l8-8M163 477l8 8m-8 0l8-8M167 477l8 8m-8 0l8-8M170 478l8 8m-8 0l8-8M175 477l8 8m-8 0l8-8M179 477l8 8m-8 0l8-8M328 478l8 8m-8 0l8-8M331 477l8 8m-8 0l8-8M332 478l8 8m-8 0l8-8M336 477l8 8m-8 0l8-8M163 479l8 8m-8 0l8-8M169 479l8 8m-8 0l8-8M162 479l8 8m-8 0l8-8M168 480l8 8m-8 0l8-8M170 480l8 8m-8 0l8-8M170 479l8 8m-8 0l8-8M332 480l8 8m-8 0l8-8M337 479l8 8m-8 0l8-8M338 480l8 8m-8 0l8-8M158 481l8 8m-8 0l8-8M161 481l8 8m-8 0l8-8M328 481l8 8m-8 0l8-8M329 481l8 8m-8 0l8-8M156 481l8 8m-8 0l8-8M166 482l8 8m-8 0l8-8M174 482l8 8m-8 0l8-8M332 482l8 8m-8 0l8-8M334 482l8 8m-8 0l8-8M335 481l8 8m-8 0l8-8M163 483l8 8m-8 0l8-8M171 483l8 8m-8 0l8-8M333 483l8 8m-8 0l8-8M335 483l8 8m-8 0l8-8M170 484l8 8m-8 0l8-8M337 483l8 8m-8 0l8-8M339 484l8 8m-8 0l8-8M331 484l8 8m-8 0l8-8M333 485l8 8m-8 0l8-8M334 485l8 8m-8 0l8-8M342 485l8 8m-8 0l8-8M162 486l8 8m-8 0l8-8M163 486l8 8m-8 0l8-8M166 486l8 8m-8 0l8-8M168 486l8 8m-8 0l8-8M335 486l8 8m-8 0l8-8M339 486l8 8m-8 0l8-8M342 486l8 8m-8 0l8-8M167 487l8 8m-8 0l8-8M335 487l8 8m-8 0l8-8M335 487l8 8m-8 0l8-8M165 489l8 8m-8 0l8-8M167 488l8 8m-8 0l8-8M336 488l8 8m-8 0l8-8M339 488l8 8m-8 0l8-8M162 490l8 8m-8 0l8-8M331 489l8 8m-8 0l8-8M337 489l8 8m-8 0l8-8M340 489l8 8m-8 0l8-8M161 490l8 8m-8 0l8-8M165 490l8 8m-8 0l8-8M167 490l8 8m-8 0l8-8M331 490l8 8m-8 0l8-8M332 490l8 8m-8 0l8-8M342 491l8 8m-8 0l8-8M164 491l8 8m-8 0l8-8M336 491l8 8m-8 0l8-8M342 491l8 8m-8 0l8-8M343 492l8 8m-8 0l8-8M346 491l8 8m-8 0l8-8M158 493l8 8m-8 0l8-8M161 492l8 8m-8 0l8-8M165 492l8 8m-8 0l8-8M332 493l8 8m-8 0l8-8M157 493l8 8m-8 0l8-8M159 493l8 8m-8 0l8-8M164 493l8 8m-8 0l8-8M166 494l8 8m-8 0l8-8M334 493l8 8m-8 0l8-8M342 493l8 8m-8 0l8-8M156 494l8 8m-8 0l8-8M162 495l8 8m-8 0l8-8M163 494l8 8m-8 0l8-8M332 495l8 8m-8 0l8-8M333 495l8 8m-8 0l8-8M346 494l8 8m-8 0l8-8M347 495l8 8m-8 0l8-8M160 495l8 8m-8 0l8-8M163 496l8 8m-8 0l8-8M333 496l8 8m-8 0l8-8M336 495l8 8m-8 0l8-8M339 495l8 8m-8 0l8-8M341 496l8 8m-8 0l8-8M342 496l8 8m-8 0l8-8M345 496l8 8m-8 0l8-8M351 495l8 8m-8 0l8-8M338 497l8 8m-8 0l8-8M341 496l8 8m-8 0l8-8M163 497l8 8m-8 0l8-8M341 497l8 8m-8 0l8-8M342 497l8 8m-8 0l8-8M158 498l8 8m-8 0l8-8M165 499l8 8m-8 0l8-8M337 499l8 8m-8 0l8-8M338 498l8 8m-8 0l8-8M353 499l8 8m-8 0l8-8M162 500l8 8m-8 0l8-8M163 499l8 8m-8 0l8-8M163 499l8 8m-8 0l8-8M332 500l8 8m-8 0l8-8M337 499l8 8m-8 0l8-8M158 501l8 8m-8 0l8-8M161 501l8 8m-8 0l8-8M332 501l8 8m-8 0l8-8M339 501l8 8m-8 0l8-8M352 501l8 8m-8 0l8-8M156 502l8 8m-8 0l8-8M156 502l8 8m-8 0l8-8M157 502l8 8m-8 0l8-8M159 502l8 8m-8 0l8-8M333 502l8 8m-8 0l8-8M156 503l8 8m-8 0l8-8M162 503l8 8m-8 0l8-8M345 503l8 8m-8 0l8-8M161 504l8 8m-8 0l8-8M335 504l8 8m-8 0l8-8M336 504l8 8m-8 0l8-8M157 504l8 8m-8 0l8-8M210 505l8 8m-8 0l8-8M270 505l8 8m-8 0l8-8M271 505l8 8m-8 0l8-8M336 505l8 8m-8 0l8-8M155 506l8 8m-8 0l8-8M157 506l8 8m-8 0l8-8M189 506l8 8m-8 0l8-8M213 506l8 8m-8 0l8-8M259 506l8 8m-8 0l8-8M267 506l8 8m-8 0l8-8M268 506l8 8m-8 0l8-8M281 506l8 8m-8 0l8-8M336 506l8 8m-8 0l8-8M156 507l8 8m-8 0l8-8M159 507l8 8m-8 0l8-8M162 507l8 8m-8 0l8-8M180 507l8 8m-8 0l8-8M187 507l8 8m-8 0l8-8M210 507l8 8m-8 0l8-8M215 507l8 8m-8 0l8-8M220 507l8 8m-8 0l8-8M225 507l8 8m-8 0l8-8M240 507l8 8m-8 0l8-8M261 507l8 8m-8 0l8-8M265 507l8 8m-8 0l8-8M279 507l8 8m-8 0l8-8M339 507l8 8m-8 0l8-8M344 507l8 8m-8 0l8-8M158 508l8 8m-8 0l8-8M162 508l8 8m-8 0l8-8M179 509l8 8m-8 0l8-8M183 509l8 8m-8 0l8-8M187 509l8 8m-8 0l8-8M192 508l8 8m-8 0l8-8M202 508l8 8m-8 0l8-8M203 508l8 8m-8 0l8-8M214 508l8 8m-8 0l8-8M223 508l8 8m-8 0l8-8M242 508l8 8m-8 0l8-8M254 509l8 8m-8 0l8-8M255 508l8 8m-8 0l8-8M270 508l8 8m-8 0l8-8M277 508l8 8m-8 0l8-8M280 508l8 8m-8 0l8-8M286 508l8 8m-8 0l8-8M300 508l8 8m-8 0l8-8M303 509l8 8m-8 0l8-8M303 509l8 8m-8 0l8-8M305 508l8 8m-8 0l8-8M321 508l8 8m-8 0l8-8M151 510l8 8m-8 0l8-8M161 509l8 8m-8 0l8-8M166 509l8 8m-8 0l8-8M170 510l8 8m-8 0l8-8M175 509l8 8m-8 0l8-8M179 509l8 8m-8 0l8-8M187 509l8 8m-8 0l8-8M190 509l8 8m-8 0l8-8M224 509l8 8m-8 0l8-8M229 509l8 8m-8 0l8-8M233 509l8 8m-8 0l8-8M248 509l8 8m-8 0l8-8M255 510l8 8m-8 0l8-8M261 510l8 8m-8 0l8-8M267 509l8 8m-8 0l8-8M275 509l8 8m-8 0l8-8M283 509l8 8m-8 0l8-8M286 510l8 8m-8 0l8-8M287 509l8 8m-8 0l8-8M306 509l8 8m-8 0l8-8M322 509l8 8m-8 0l8-8M328 510l8 8m-8 0l8-8M332 509l8 8m-8 0l8-8M347 509l8 8m-8 0l8-8M154 510l8 8m-8 0l8-8M158 510l8 8m-8 0l8-8M162 510l8 8m-8 0l8-8M163 510l8 8m-8 0l8-8M166 511l8 8m-8 0l8-8M175 511l8 8m-8 0l8-8M176 510l8 8m-8 0l8-8M180 511l8 8m-8 0l8-8M184 510l8 8m-8 0l8-8M186 510l8 8m-8 0l8-8M189 510l8 8m-8 0l8-8M190 510l8 8m-8 0l8-8M200 510l8 8m-8 0l8-8M202 510l8 8m-8 0l8-8M210 510l8 8m-8 0l8-8M218 510l8 8m-8 0l8-8M220 511l8 8m-8 0l8-8M228 510l8 8m-8 0l8-8M237 510l8 8m-8 0l8-8M239 510l8 8m-8 0l8-8M243 510l8 8m-8 0l8-8M245 510l8 8m-8 0l8-8M248 511l8 8m-8 0l8-8M252 510l8 8m-8 0l8-8M260 510l8 8m-8 0l8-8M267 510l8 8m-8 0l8-8M270 510l8 8m-8 0l8-8M271 511l8 8m-8 0l8-8M276 511l8 8m-8 0l8-8M279 510l8 8m-8 0l8-8M285 510l8 8m-8 0l8-8M307 510l8 8m-8 0l8-8M311 510l8 8m-8 0l8-8M317 511l8 8m-8 0l8-8M336 510l8 8m-8 0l8-8M336 510l8 8m-8 0l8-8M341 510l8 8m-8 0l8-8M348 510l8 8m-8 0l8-8M155 511l8 8m-8 0l8-8M157 511l8 8m-8 0l8-8M159 511l8 8m-8 0l8-8M161 511l8 8m-8 0l8-8M162 511l8 8m-8 0l8-8M168 512l8 8m-8 0l8-8M181 511l8 8m-8 0l8-8M188 511l8 8m-8 0l8-8M206 512l8 8m-8 0l8-8M223 512l8 8m-8 0l8-8M226 511l8 8m-8 0l8-8M233 511l8 8m-8 0l8-8M235 511l8 8m-8 0l8-8M242 512l8 8m-8 0l8-8M257 511l8 8m-8 0l8-8M258 512l8 8m-8 0l8-8M263 512l8 8m-8 0l8-8M279 511l8 8m-8 0l8-8M298 511l8 8m-8 0l8-8M302 511l8 8m-8 0l8-8M321 511l8 8m-8 0l8-8M334 511l8 8m-8 0l8-8M341 511l8 8m-8 0l8-8M344 511l8 8m-8 0l8-8M347 511l8 8m-8 0l8-8M338 430l8 8m-8 0l8-8M253 402l8 8m-8 0l8-8M244 409l8 8m-8 0l8-8M251 398l8 8m-8 0l8-8M321 424l8 8m-8 0l8-8M301 411l8 8m-8 0l8-8M327 432l8 8m-8 0l8-8M270 414l8 8m-8 0l8-8M235 401l8 8m-8 0l8-8M302 402l8 8m-8 0l8-8M284 418l8 8m-8 0l8-8M233 400l8 8m-8 0l8-8M276 406l8 8m-8 0l8-8M286 406l8 8m-8 0l8-8M328 417l8 8m-8 0l8-8M335 432l8 8m-8 0l8-8M299 404l8 8m-8 0l8-8M248 405l8 8m-8 0l8-8M291 405l8 8m-8 0l8-8M332 416l8 8m-8 0l8-8M266 404l8 8m-8 0l8-8M340 425l8 8m-8 0l8-8M322 412l8 8m-8 0l8-8M278 401l8 8m-8 0l8-8M333 413l8 8m-8 0l8-8M322 416l8 8m-8 0l8-8M339 426l8 8m-8 0l8-8M290 405l8 8m-8 0l8-8M234 416l8 8m-8 0l8-8M245 406l8 8m-8 0l8-8M297 406l8 8m-8 0l8-8M313 415l8 8m-8 0l8-8M289 418l8 8m-8 0l8-8M310 412l8 8m-8 0l8-8M145 464l8 8m-8 0l8-8M140 505l8 8m-8 0l8-8M141 472l8 8m-8 0l8-8M157 456l8 8m-8 0l8-8M128 487l8 8m-8 0l8-8M135 489l8 8m-8 0l8-8M151 500l8 8m-8 0l8-8M129 497l8 8m-8 0l8-8M134 488l8 8m-8 0l8-8M139 500l8 8m-8 0l8-8M155 469l8 8m-8 0l8-8M129 489l8 8m-8 0l8-8M137 491l8 8m-8 0l8-8M140 490l8 8m-8 0l8-8M157 469l8 8m-8 0l8-8M155 455l8 8m-8 0l8-8M131 485l8 8m-8 0l8-8M128 505l8 8m-8 0l8-8M144 504l8 8m-8 0l8-8M134 482l8 8m-8 0l8-8M132 504l8 8m-8 0l8-8M146 471l8 8m-8 0l8-8M353 462l8 8m-8 0l8-8M353 501l8 8m-8 0l8-8M351 451l8 8m-8 0l8-8M346 456l8 8m-8 0l8-8M363 462l8 8m-8 0l8-8M361 481l8 8m-8 0l8-8M349 449l8 8m-8 0l8-8M349 496l8 8m-8 0l8-8M124 429l8 8m-8 0l8-8M133 449l8 8m-8 0l8-8M157 449l8 8m-8 0l8-8M174 444l8 8m-8 0l8-8M183 442l8 8m-8 0l8-8M182 422l8 8m-8 0l8-8M193 419l8 8m-8 0l8-8M192 429l8 8m-8 0l8-8M205 429l8 8m-8 0l8-8M199 435l8 8m-8 0l8-8M222 403l8 8m-8 0l8-8M223 411l8 8m-8 0l8-8M239 403l8 8m-8 0l8-8M110 505l8 8m-8 0l8-8M122 504l8 8m-8 0l8-8M130 463l8 8m-8 0l8-8M137 456l8 8m-8 0l8-8M142 459l8 8m-8 0l8-8M134 469l8 8m-8 0l8-8M128 481l8 8m-8 0l8-8M131 486l8 8m-8 0l8-8M137 476l8 8m-8 0l8-8M144 466l8 8m-8 0l8-8M125 488l8 8m-8 0l8-8M130 498l8 8m-8 0l8-8M124 505l8 8m-8 0l8-8M137 511l8 8m-8 0l8-8M145 500l8 8m-8 0l8-8M141 488l8 8m-8 0l8-8M148 476l8 8m-8 0l8-8M151 466l8 8m-8 0l8-8M156 464l8 8m-8 0l8-8M170 456l8 8m-8 0l8-8M165 461l8 8m-8 0l8-8M233 411l8 8m-8 0l8-8M228 418l8 8m-8 0l8-8M220 430l8 8m-8 0l8-8M211 435l8 8m-8 0l8-8M231 408l8 8m-8 0l8-8M243 401l8 8m-8 0l8-8M246 396l8 8m-8 0l8-8M247 388l8 8m-8 0l8-8M341 341l8 8m-8 0l8-8M270 366l8 8m-8 0l8-8M264 380l8 8m-8 0l8-8M286 385l8 8m-8 0l8-8M280 391l8 8m-8 0l8-8M317 382l8 8m-8 0l8-8M321 395l8 8m-8 0l8-8M299 394l8 8m-8 0l8-8M303 400l8 8m-8 0l8-8M290 396l8 8m-8 0l8-8M315 402l8 8m-8 0l8-8M319 408l8 8m-8 0l8-8M333 415l8 8m-8 0l8-8M345 434l8 8m-8 0l8-8M338 427l8 8m-8 0l8-8M366 444l8 8m-8 0l8-8M360 454l8 8m-8 0l8-8M356 450l8 8m-8 0l8-8M353 458l8 8m-8 0l8-8M354 470l8 8m-8 0l8-8M364 482l8 8m-8 0l8-8M359 476l8 8m-8 0l8-8M366 504l8 8m-8 0l8-8M357 502l8 8m-8 0l8-8M251 389l8 8m-8 0l8-8M257 390l8 8m-8 0l8-8M262 392l8 8m-8 0l8-8M267 396l8 8m-8 0l8-8M246 401l8 8m-8 0l8-8M255 403l8 8m-8 0l8-8M272 408l8 8m-8 0l8-8M276 412l8 8m-8 0l8-8M283 411l8 8m-8 0l8-8M292 406l8 8m-8 0l8-8M296 411l8 8m-8 0l8-8M302 415l8 8m-8 0l8-8M310 420l8 8m-8 0l8-8M324 419l8 8m-8 0l8-8M332 414l8 8m-8 0l8-8M336 418l8 8m-8 0l8-8M338 424l8 8m-8 0l8-8M342 437l8 8m-8 0l8-8M347 471l8 8m-8 0l8-8M350 486l8 8m-8 0l8-8M245 391l8 8m-8 0l8-8M264 401l8 8m-8 0l8-8" stroke="#7f7f7f" stroke-width="1.68" stroke-linecap="round" fill="none"/></g>
<path d="M87 471.9L91.5 471.9L96 471.8L100.4 471.8L104.9 471.8L109.4 471.7L113.9 471.7L118.4 471.7L122.9 471.6L127.3 471.6L131.8 471.6L136.3 471.6L140.8 471.6L145.3 471.6L149.8 471.5L154.2 471.5L158.7 471.5L163.2 471.5L167.7 471.5L172.2 471.5L176.7 471.5L181.1 471.5L185.6 471.5L190.1 471.5L194.6 471.5L199.1 471.5L203.6 471.5L208 471.6L212.5 471.6L217 471.6L221.5 471.6L226 471.6L230.5 471.7L234.9 471.7L239.4 471.7L243.9 471.8L248.4 471.8L252.9 471.8L257.4 471.9L261.8 471.9L266.3 471.9L270.8 472L275.3 472L279.8 472.1L284.3 472.2L288.7 472.3L293.2 472.3L297.7 472.4L302.2 472.4L306.7 472.3L311.2 472.2L315.6 472L320.1 471.8L324.6 471.5L329.1 471.3L333.6 470.9L338.1 470.5L342.5 470L347 469.5L351.5 469" stroke="#f00" stroke-width="2.6" stroke-linecap="round" stroke-linejoin="round"/>
</g>
<g clip-path="url(#c4)" fill="none">
<path d="M470.7 496.4V321.3M513.5 496.4V321.3M556.3 496.4V321.3M599.1 496.4V321.3M641.9 496.4V321.3M684.7 496.4V321.3" stroke="#d3d3d3" stroke-width="1.6" stroke-dasharray="6.5 6.5"/>
<path d="M467 410L462 422L462 492L577 492L577 449L574 429L568 408L567 419L565 421L562 429L558 432L557 434L553 435L552 445L549 440L546 440L544 443L542 443L540 445L536 445L533 449L530 447L526 447L522 443L522 424L514 413L511 416L509 422L505 428L500 425L498 428L491 431L486 425L485 421L482 416L478 412L475 411L473 408L470 408Z" fill="#7f7f7f" stroke="#7f7f7f" stroke-width="1" stroke-linejoin="round"/><g transform="scale(0.95)"><path d="M594 412l8 8m-8 0l8-8M495 414l8 8m-8 0l8-8M536 416l8 8m-8 0l8-8M495 417l8 8m-8 0l8-8M499 417l8 8m-8 0l8-8M594 418l8 8m-8 0l8-8M491 418l8 8m-8 0l8-8M502 418l8 8m-8 0l8-8M594 419l8 8m-8 0l8-8M596 420l8 8m-8 0l8-8M597 420l8 8m-8 0l8-8M535 420l8 8m-8 0l8-8M595 420l8 8m-8 0l8-8M491 422l8 8m-8 0l8-8M496 421l8 8m-8 0l8-8M495 423l8 8m-8 0l8-8M539 423l8 8m-8 0l8-8M542 423l8 8m-8 0l8-8M594 423l8 8m-8 0l8-8M495 424l8 8m-8 0l8-8M503 424l8 8m-8 0l8-8M537 424l8 8m-8 0l8-8M594 424l8 8m-8 0l8-8M495 425l8 8m-8 0l8-8M594 425l8 8m-8 0l8-8M499 426l8 8m-8 0l8-8M538 426l8 8m-8 0l8-8M543 426l8 8m-8 0l8-8M596 426l8 8m-8 0l8-8M488 427l8 8m-8 0l8-8M492 427l8 8m-8 0l8-8M496 427l8 8m-8 0l8-8M591 427l8 8m-8 0l8-8M595 427l8 8m-8 0l8-8M595 427l8 8m-8 0l8-8M490 428l8 8m-8 0l8-8M492 428l8 8m-8 0l8-8M495 428l8 8m-8 0l8-8M501 429l8 8m-8 0l8-8M505 428l8 8m-8 0l8-8M534 428l8 8m-8 0l8-8M502 429l8 8m-8 0l8-8M539 429l8 8m-8 0l8-8M594 429l8 8m-8 0l8-8M507 430l8 8m-8 0l8-8M509 430l8 8m-8 0l8-8M490 432l8 8m-8 0l8-8M527 431l8 8m-8 0l8-8M530 431l8 8m-8 0l8-8M534 431l8 8m-8 0l8-8M536 431l8 8m-8 0l8-8M538 432l8 8m-8 0l8-8M538 431l8 8m-8 0l8-8M590 431l8 8m-8 0l8-8M487 432l8 8m-8 0l8-8M490 432l8 8m-8 0l8-8M500 432l8 8m-8 0l8-8M502 433l8 8m-8 0l8-8M539 432l8 8m-8 0l8-8M541 432l8 8m-8 0l8-8M543 433l8 8m-8 0l8-8M589 432l8 8m-8 0l8-8M592 432l8 8m-8 0l8-8M492 433l8 8m-8 0l8-8M495 433l8 8m-8 0l8-8M502 433l8 8m-8 0l8-8M509 434l8 8m-8 0l8-8M543 434l8 8m-8 0l8-8M495 434l8 8m-8 0l8-8M505 434l8 8m-8 0l8-8M535 434l8 8m-8 0l8-8M543 434l8 8m-8 0l8-8M595 434l8 8m-8 0l8-8M489 435l8 8m-8 0l8-8M506 436l8 8m-8 0l8-8M532 436l8 8m-8 0l8-8M534 436l8 8m-8 0l8-8M543 435l8 8m-8 0l8-8M584 435l8 8m-8 0l8-8M490 436l8 8m-8 0l8-8M495 437l8 8m-8 0l8-8M519 436l8 8m-8 0l8-8M537 436l8 8m-8 0l8-8M542 437l8 8m-8 0l8-8M543 436l8 8m-8 0l8-8M489 438l8 8m-8 0l8-8M498 437l8 8m-8 0l8-8M499 438l8 8m-8 0l8-8M512 437l8 8m-8 0l8-8M532 437l8 8m-8 0l8-8M591 437l8 8m-8 0l8-8M595 437l8 8m-8 0l8-8M596 437l8 8m-8 0l8-8M487 438l8 8m-8 0l8-8M490 438l8 8m-8 0l8-8M495 439l8 8m-8 0l8-8M498 439l8 8m-8 0l8-8M499 439l8 8m-8 0l8-8M506 439l8 8m-8 0l8-8M509 439l8 8m-8 0l8-8M528 438l8 8m-8 0l8-8M535 438l8 8m-8 0l8-8M595 439l8 8m-8 0l8-8M596 439l8 8m-8 0l8-8M488 440l8 8m-8 0l8-8M495 440l8 8m-8 0l8-8M524 439l8 8m-8 0l8-8M525 440l8 8m-8 0l8-8M528 440l8 8m-8 0l8-8M529 440l8 8m-8 0l8-8M541 440l8 8m-8 0l8-8M584 440l8 8m-8 0l8-8M588 440l8 8m-8 0l8-8M595 440l8 8m-8 0l8-8M487 441l8 8m-8 0l8-8M491 441l8 8m-8 0l8-8M493 441l8 8m-8 0l8-8M499 441l8 8m-8 0l8-8M503 440l8 8m-8 0l8-8M507 441l8 8m-8 0l8-8M510 441l8 8m-8 0l8-8M524 440l8 8m-8 0l8-8M535 441l8 8m-8 0l8-8M536 440l8 8m-8 0l8-8M541 441l8 8m-8 0l8-8M590 441l8 8m-8 0l8-8M597 441l8 8m-8 0l8-8M597 440l8 8m-8 0l8-8M598 441l8 8m-8 0l8-8M495 442l8 8m-8 0l8-8M502 442l8 8m-8 0l8-8M508 442l8 8m-8 0l8-8M525 442l8 8m-8 0l8-8M539 442l8 8m-8 0l8-8M584 442l8 8m-8 0l8-8M592 442l8 8m-8 0l8-8M597 441l8 8m-8 0l8-8M491 443l8 8m-8 0l8-8M493 443l8 8m-8 0l8-8M495 443l8 8m-8 0l8-8M502 442l8 8m-8 0l8-8M511 442l8 8m-8 0l8-8M543 442l8 8m-8 0l8-8M584 443l8 8m-8 0l8-8M589 443l8 8m-8 0l8-8M593 443l8 8m-8 0l8-8M595 442l8 8m-8 0l8-8M597 443l8 8m-8 0l8-8M488 444l8 8m-8 0l8-8M501 444l8 8m-8 0l8-8M501 444l8 8m-8 0l8-8M505 444l8 8m-8 0l8-8M506 444l8 8m-8 0l8-8M520 444l8 8m-8 0l8-8M524 444l8 8m-8 0l8-8M530 444l8 8m-8 0l8-8M538 444l8 8m-8 0l8-8M595 443l8 8m-8 0l8-8M595 444l8 8m-8 0l8-8M697 444l8 8m-8 0l8-8M487 445l8 8m-8 0l8-8M494 445l8 8m-8 0l8-8M497 445l8 8m-8 0l8-8M509 445l8 8m-8 0l8-8M514 445l8 8m-8 0l8-8M518 445l8 8m-8 0l8-8M524 445l8 8m-8 0l8-8M537 445l8 8m-8 0l8-8M539 445l8 8m-8 0l8-8M540 445l8 8m-8 0l8-8M492 446l8 8m-8 0l8-8M495 446l8 8m-8 0l8-8M503 446l8 8m-8 0l8-8M506 446l8 8m-8 0l8-8M508 446l8 8m-8 0l8-8M516 446l8 8m-8 0l8-8M523 446l8 8m-8 0l8-8M531 446l8 8m-8 0l8-8M534 446l8 8m-8 0l8-8M537 446l8 8m-8 0l8-8M538 446l8 8m-8 0l8-8M587 446l8 8m-8 0l8-8M590 446l8 8m-8 0l8-8M591 446l8 8m-8 0l8-8M591 446l8 8m-8 0l8-8M595 446l8 8m-8 0l8-8M487 447l8 8m-8 0l8-8M489 447l8 8m-8 0l8-8M493 447l8 8m-8 0l8-8M495 447l8 8m-8 0l8-8M505 448l8 8m-8 0l8-8M514 447l8 8m-8 0l8-8M516 447l8 8m-8 0l8-8M532 447l8 8m-8 0l8-8M535 447l8 8m-8 0l8-8M571 448l8 8m-8 0l8-8M588 447l8 8m-8 0l8-8M589 447l8 8m-8 0l8-8M594 447l8 8m-8 0l8-8M487 448l8 8m-8 0l8-8M493 448l8 8m-8 0l8-8M503 448l8 8m-8 0l8-8M507 448l8 8m-8 0l8-8M509 448l8 8m-8 0l8-8M511 448l8 8m-8 0l8-8M518 448l8 8m-8 0l8-8M519 448l8 8m-8 0l8-8M520 448l8 8m-8 0l8-8M521 448l8 8m-8 0l8-8M535 448l8 8m-8 0l8-8M583 448l8 8m-8 0l8-8M487 449l8 8m-8 0l8-8M503 449l8 8m-8 0l8-8M506 449l8 8m-8 0l8-8M517 450l8 8m-8 0l8-8M520 449l8 8m-8 0l8-8M522 449l8 8m-8 0l8-8M523 449l8 8m-8 0l8-8M531 449l8 8m-8 0l8-8M539 449l8 8m-8 0l8-8M574 449l8 8m-8 0l8-8M575 449l8 8m-8 0l8-8M579 449l8 8m-8 0l8-8M582 449l8 8m-8 0l8-8M586 449l8 8m-8 0l8-8M592 449l8 8m-8 0l8-8M488 450l8 8m-8 0l8-8M493 450l8 8m-8 0l8-8M508 450l8 8m-8 0l8-8M510 450l8 8m-8 0l8-8M518 450l8 8m-8 0l8-8M522 450l8 8m-8 0l8-8M525 450l8 8m-8 0l8-8M543 451l8 8m-8 0l8-8M560 450l8 8m-8 0l8-8M564 450l8 8m-8 0l8-8M582 450l8 8m-8 0l8-8M586 450l8 8m-8 0l8-8M495 452l8 8m-8 0l8-8M497 451l8 8m-8 0l8-8M514 451l8 8m-8 0l8-8M516 452l8 8m-8 0l8-8M526 451l8 8m-8 0l8-8M527 451l8 8m-8 0l8-8M537 451l8 8m-8 0l8-8M590 451l8 8m-8 0l8-8M599 451l8 8m-8 0l8-8M500 452l8 8m-8 0l8-8M510 452l8 8m-8 0l8-8M516 453l8 8m-8 0l8-8M520 453l8 8m-8 0l8-8M521 452l8 8m-8 0l8-8M524 452l8 8m-8 0l8-8M528 452l8 8m-8 0l8-8M529 453l8 8m-8 0l8-8M534 453l8 8m-8 0l8-8M536 452l8 8m-8 0l8-8M541 452l8 8m-8 0l8-8M542 452l8 8m-8 0l8-8M575 452l8 8m-8 0l8-8M575 453l8 8m-8 0l8-8M582 452l8 8m-8 0l8-8M586 452l8 8m-8 0l8-8M588 453l8 8m-8 0l8-8M592 452l8 8m-8 0l8-8M488 453l8 8m-8 0l8-8M494 453l8 8m-8 0l8-8M504 453l8 8m-8 0l8-8M520 453l8 8m-8 0l8-8M536 453l8 8m-8 0l8-8M540 453l8 8m-8 0l8-8M555 454l8 8m-8 0l8-8M556 453l8 8m-8 0l8-8M560 453l8 8m-8 0l8-8M564 454l8 8m-8 0l8-8M585 454l8 8m-8 0l8-8M587 453l8 8m-8 0l8-8M594 453l8 8m-8 0l8-8M494 455l8 8m-8 0l8-8M498 455l8 8m-8 0l8-8M500 454l8 8m-8 0l8-8M503 455l8 8m-8 0l8-8M504 455l8 8m-8 0l8-8M509 454l8 8m-8 0l8-8M514 454l8 8m-8 0l8-8M522 454l8 8m-8 0l8-8M525 455l8 8m-8 0l8-8M536 455l8 8m-8 0l8-8M561 454l8 8m-8 0l8-8M569 454l8 8m-8 0l8-8M585 454l8 8m-8 0l8-8M587 454l8 8m-8 0l8-8M589 455l8 8m-8 0l8-8M590 454l8 8m-8 0l8-8M593 454l8 8m-8 0l8-8M496 456l8 8m-8 0l8-8M502 456l8 8m-8 0l8-8M504 455l8 8m-8 0l8-8M505 456l8 8m-8 0l8-8M515 456l8 8m-8 0l8-8M519 455l8 8m-8 0l8-8M522 456l8 8m-8 0l8-8M543 455l8 8m-8 0l8-8M588 455l8 8m-8 0l8-8M453 457l8 8m-8 0l8-8M492 457l8 8m-8 0l8-8M493 457l8 8m-8 0l8-8M494 457l8 8m-8 0l8-8M495 456l8 8m-8 0l8-8M499 456l8 8m-8 0l8-8M511 456l8 8m-8 0l8-8M523 457l8 8m-8 0l8-8M526 456l8 8m-8 0l8-8M531 457l8 8m-8 0l8-8M542 456l8 8m-8 0l8-8M573 457l8 8m-8 0l8-8M576 457l8 8m-8 0l8-8M582 457l8 8m-8 0l8-8M586 457l8 8m-8 0l8-8M588 457l8 8m-8 0l8-8M490 457l8 8m-8 0l8-8M507 457l8 8m-8 0l8-8M508 457l8 8m-8 0l8-8M518 458l8 8m-8 0l8-8M520 457l8 8m-8 0l8-8M532 458l8 8m-8 0l8-8M534 458l8 8m-8 0l8-8M535 458l8 8m-8 0l8-8M548 457l8 8m-8 0l8-8M576 457l8 8m-8 0l8-8M581 458l8 8m-8 0l8-8M583 458l8 8m-8 0l8-8M593 458l8 8m-8 0l8-8M600 458l8 8m-8 0l8-8M491 459l8 8m-8 0l8-8M502 459l8 8m-8 0l8-8M508 458l8 8m-8 0l8-8M515 459l8 8m-8 0l8-8M527 458l8 8m-8 0l8-8M532 459l8 8m-8 0l8-8M542 459l8 8m-8 0l8-8M573 458l8 8m-8 0l8-8M574 458l8 8m-8 0l8-8M586 458l8 8m-8 0l8-8M587 459l8 8m-8 0l8-8M588 458l8 8m-8 0l8-8M596 458l8 8m-8 0l8-8M600 459l8 8m-8 0l8-8M507 460l8 8m-8 0l8-8M514 459l8 8m-8 0l8-8M515 460l8 8m-8 0l8-8M520 460l8 8m-8 0l8-8M521 460l8 8m-8 0l8-8M546 459l8 8m-8 0l8-8M561 460l8 8m-8 0l8-8M567 459l8 8m-8 0l8-8M577 459l8 8m-8 0l8-8M586 460l8 8m-8 0l8-8M589 459l8 8m-8 0l8-8M592 459l8 8m-8 0l8-8M598 459l8 8m-8 0l8-8M450 461l8 8m-8 0l8-8M467 461l8 8m-8 0l8-8M487 461l8 8m-8 0l8-8M491 461l8 8m-8 0l8-8M506 461l8 8m-8 0l8-8M521 461l8 8m-8 0l8-8M534 461l8 8m-8 0l8-8M539 461l8 8m-8 0l8-8M567 461l8 8m-8 0l8-8M568 461l8 8m-8 0l8-8M575 461l8 8m-8 0l8-8M579 461l8 8m-8 0l8-8M483 462l8 8m-8 0l8-8M491 462l8 8m-8 0l8-8M499 462l8 8m-8 0l8-8M502 461l8 8m-8 0l8-8M504 461l8 8m-8 0l8-8M511 462l8 8m-8 0l8-8M522 462l8 8m-8 0l8-8M523 462l8 8m-8 0l8-8M524 461l8 8m-8 0l8-8M534 462l8 8m-8 0l8-8M546 461l8 8m-8 0l8-8M549 462l8 8m-8 0l8-8M552 461l8 8m-8 0l8-8M557 462l8 8m-8 0l8-8M571 462l8 8m-8 0l8-8M575 462l8 8m-8 0l8-8M589 462l8 8m-8 0l8-8M592 462l8 8m-8 0l8-8M646 462l8 8m-8 0l8-8M494 463l8 8m-8 0l8-8M497 463l8 8m-8 0l8-8M497 463l8 8m-8 0l8-8M505 463l8 8m-8 0l8-8M508 463l8 8m-8 0l8-8M509 463l8 8m-8 0l8-8M512 463l8 8m-8 0l8-8M524 463l8 8m-8 0l8-8M541 463l8 8m-8 0l8-8M543 463l8 8m-8 0l8-8M566 463l8 8m-8 0l8-8M568 463l8 8m-8 0l8-8M577 463l8 8m-8 0l8-8M591 463l8 8m-8 0l8-8M593 463l8 8m-8 0l8-8M595 463l8 8m-8 0l8-8M595 463l8 8m-8 0l8-8M597 463l8 8m-8 0l8-8M599 463l8 8m-8 0l8-8M621 463l8 8m-8 0l8-8M648 463l8 8m-8 0l8-8M463 464l8 8m-8 0l8-8M467 464l8 8m-8 0l8-8M517 464l8 8m-8 0l8-8M523 464l8 8m-8 0l8-8M534 463l8 8m-8 0l8-8M552 464l8 8m-8 0l8-8M560 464l8 8m-8 0l8-8M565 463l8 8m-8 0l8-8M566 464l8 8m-8 0l8-8M568 464l8 8m-8 0l8-8M568 464l8 8m-8 0l8-8M573 464l8 8m-8 0l8-8M577 464l8 8m-8 0l8-8M578 464l8 8m-8 0l8-8M588 464l8 8m-8 0l8-8M690 463l8 8m-8 0l8-8M447 465l8 8m-8 0l8-8M457 465l8 8m-8 0l8-8M479 465l8 8m-8 0l8-8M491 465l8 8m-8 0l8-8M495 465l8 8m-8 0l8-8M504 465l8 8m-8 0l8-8M515 464l8 8m-8 0l8-8M517 465l8 8m-8 0l8-8M518 465l8 8m-8 0l8-8M523 465l8 8m-8 0l8-8M526 465l8 8m-8 0l8-8M532 465l8 8m-8 0l8-8M547 465l8 8m-8 0l8-8M548 465l8 8m-8 0l8-8M551 465l8 8m-8 0l8-8M584 465l8 8m-8 0l8-8M598 465l8 8m-8 0l8-8M653 465l8 8m-8 0l8-8M496 466l8 8m-8 0l8-8M514 466l8 8m-8 0l8-8M523 466l8 8m-8 0l8-8M527 466l8 8m-8 0l8-8M532 466l8 8m-8 0l8-8M542 466l8 8m-8 0l8-8M543 466l8 8m-8 0l8-8M548 466l8 8m-8 0l8-8M550 467l8 8m-8 0l8-8M562 466l8 8m-8 0l8-8M574 466l8 8m-8 0l8-8M577 466l8 8m-8 0l8-8M578 466l8 8m-8 0l8-8M586 466l8 8m-8 0l8-8M587 466l8 8m-8 0l8-8M589 466l8 8m-8 0l8-8M590 466l8 8m-8 0l8-8M594 466l8 8m-8 0l8-8M597 466l8 8m-8 0l8-8M623 466l8 8m-8 0l8-8M453 467l8 8m-8 0l8-8M466 467l8 8m-8 0l8-8M474 467l8 8m-8 0l8-8M504 467l8 8m-8 0l8-8M508 467l8 8m-8 0l8-8M514 467l8 8m-8 0l8-8M528 467l8 8m-8 0l8-8M533 467l8 8m-8 0l8-8M537 467l8 8m-8 0l8-8M539 467l8 8m-8 0l8-8M549 467l8 8m-8 0l8-8M553 467l8 8m-8 0l8-8M562 467l8 8m-8 0l8-8M571 467l8 8m-8 0l8-8M593 468l8 8m-8 0l8-8M596 467l8 8m-8 0l8-8M597 468l8 8m-8 0l8-8M598 467l8 8m-8 0l8-8M641 467l8 8m-8 0l8-8M488 468l8 8m-8 0l8-8M497 468l8 8m-8 0l8-8M503 468l8 8m-8 0l8-8M508 468l8 8m-8 0l8-8M546 468l8 8m-8 0l8-8M550 468l8 8m-8 0l8-8M559 468l8 8m-8 0l8-8M560 468l8 8m-8 0l8-8M564 468l8 8m-8 0l8-8M566 468l8 8m-8 0l8-8M568 469l8 8m-8 0l8-8M573 468l8 8m-8 0l8-8M590 468l8 8m-8 0l8-8M642 468l8 8m-8 0l8-8M455 469l8 8m-8 0l8-8M466 469l8 8m-8 0l8-8M467 469l8 8m-8 0l8-8M491 469l8 8m-8 0l8-8M494 470l8 8m-8 0l8-8M501 469l8 8m-8 0l8-8M518 469l8 8m-8 0l8-8M574 469l8 8m-8 0l8-8M585 469l8 8m-8 0l8-8M591 469l8 8m-8 0l8-8M613 470l8 8m-8 0l8-8M671 469l8 8m-8 0l8-8M694 469l8 8m-8 0l8-8M696 469l8 8m-8 0l8-8M476 470l8 8m-8 0l8-8M506 471l8 8m-8 0l8-8M511 470l8 8m-8 0l8-8M520 470l8 8m-8 0l8-8M527 470l8 8m-8 0l8-8M534 470l8 8m-8 0l8-8M534 470l8 8m-8 0l8-8M537 470l8 8m-8 0l8-8M541 470l8 8m-8 0l8-8M551 470l8 8m-8 0l8-8M556 470l8 8m-8 0l8-8M557 470l8 8m-8 0l8-8M562 471l8 8m-8 0l8-8M563 470l8 8m-8 0l8-8M573 470l8 8m-8 0l8-8M586 470l8 8m-8 0l8-8M592 470l8 8m-8 0l8-8M596 470l8 8m-8 0l8-8M631 470l8 8m-8 0l8-8M645 470l8 8m-8 0l8-8M648 470l8 8m-8 0l8-8M700 470l8 8m-8 0l8-8M439 471l8 8m-8 0l8-8M441 471l8 8m-8 0l8-8M447 471l8 8m-8 0l8-8M452 471l8 8m-8 0l8-8M490 471l8 8m-8 0l8-8M491 472l8 8m-8 0l8-8M492 471l8 8m-8 0l8-8M494 472l8 8m-8 0l8-8M506 471l8 8m-8 0l8-8M508 471l8 8m-8 0l8-8M512 471l8 8m-8 0l8-8M514 471l8 8m-8 0l8-8M516 471l8 8m-8 0l8-8M518 471l8 8m-8 0l8-8M519 471l8 8m-8 0l8-8M535 472l8 8m-8 0l8-8M535 471l8 8m-8 0l8-8M540 471l8 8m-8 0l8-8M543 471l8 8m-8 0l8-8M547 471l8 8m-8 0l8-8M551 471l8 8m-8 0l8-8M567 471l8 8m-8 0l8-8M574 471l8 8m-8 0l8-8M574 471l8 8m-8 0l8-8M582 471l8 8m-8 0l8-8M588 472l8 8m-8 0l8-8M596 472l8 8m-8 0l8-8M643 472l8 8m-8 0l8-8M433 472l8 8m-8 0l8-8M437 472l8 8m-8 0l8-8M456 472l8 8m-8 0l8-8M480 473l8 8m-8 0l8-8M492 473l8 8m-8 0l8-8M495 472l8 8m-8 0l8-8M495 472l8 8m-8 0l8-8M504 472l8 8m-8 0l8-8M506 473l8 8m-8 0l8-8M507 472l8 8m-8 0l8-8M508 473l8 8m-8 0l8-8M514 473l8 8m-8 0l8-8M526 472l8 8m-8 0l8-8M529 472l8 8m-8 0l8-8M531 473l8 8m-8 0l8-8M535 472l8 8m-8 0l8-8M537 472l8 8m-8 0l8-8M557 472l8 8m-8 0l8-8M562 472l8 8m-8 0l8-8M579 473l8 8m-8 0l8-8M582 472l8 8m-8 0l8-8M589 472l8 8m-8 0l8-8M622 473l8 8m-8 0l8-8M642 472l8 8m-8 0l8-8M692 473l8 8m-8 0l8-8M697 472l8 8m-8 0l8-8M705 473l8 8m-8 0l8-8M456 473l8 8m-8 0l8-8M492 473l8 8m-8 0l8-8M515 473l8 8m-8 0l8-8M522 473l8 8m-8 0l8-8M523 474l8 8m-8 0l8-8M528 474l8 8m-8 0l8-8M549 473l8 8m-8 0l8-8M550 473l8 8m-8 0l8-8M553 474l8 8m-8 0l8-8M563 474l8 8m-8 0l8-8M567 474l8 8m-8 0l8-8M575 473l8 8m-8 0l8-8M593 473l8 8m-8 0l8-8M652 474l8 8m-8 0l8-8M653 473l8 8m-8 0l8-8M681 474l8 8m-8 0l8-8M444 474l8 8m-8 0l8-8M451 475l8 8m-8 0l8-8M495 474l8 8m-8 0l8-8M505 475l8 8m-8 0l8-8M510 475l8 8m-8 0l8-8M522 475l8 8m-8 0l8-8M541 475l8 8m-8 0l8-8M549 475l8 8m-8 0l8-8M552 474l8 8m-8 0l8-8M553 475l8 8m-8 0l8-8M555 474l8 8m-8 0l8-8M560 475l8 8m-8 0l8-8M563 474l8 8m-8 0l8-8M565 475l8 8m-8 0l8-8M577 474l8 8m-8 0l8-8M579 474l8 8m-8 0l8-8M591 474l8 8m-8 0l8-8M591 474l8 8m-8 0l8-8M592 475l8 8m-8 0l8-8M593 475l8 8m-8 0l8-8M598 474l8 8m-8 0l8-8M599 474l8 8m-8 0l8-8M435 476l8 8m-8 0l8-8M443 475l8 8m-8 0l8-8M445 475l8 8m-8 0l8-8M450 475l8 8m-8 0l8-8M461 475l8 8m-8 0l8-8M482 475l8 8m-8 0l8-8M487 476l8 8m-8 0l8-8M491 475l8 8m-8 0l8-8M492 476l8 8m-8 0l8-8M516 475l8 8m-8 0l8-8M523 475l8 8m-8 0l8-8M529 475l8 8m-8 0l8-8M549 475l8 8m-8 0l8-8M553 476l8 8m-8 0l8-8M557 476l8 8m-8 0l8-8M561 475l8 8m-8 0l8-8M563 475l8 8m-8 0l8-8M564 476l8 8m-8 0l8-8M578 476l8 8m-8 0l8-8M581 476l8 8m-8 0l8-8M587 476l8 8m-8 0l8-8M593 475l8 8m-8 0l8-8M597 476l8 8m-8 0l8-8M620 476l8 8m-8 0l8-8M622 475l8 8m-8 0l8-8M629 475l8 8m-8 0l8-8M663 476l8 8m-8 0l8-8M676 475l8 8m-8 0l8-8M677 476l8 8m-8 0l8-8M683 475l8 8m-8 0l8-8M706 476l8 8m-8 0l8-8M441 476l8 8m-8 0l8-8M443 477l8 8m-8 0l8-8M456 477l8 8m-8 0l8-8M463 476l8 8m-8 0l8-8M474 477l8 8m-8 0l8-8M495 476l8 8m-8 0l8-8M506 476l8 8m-8 0l8-8M508 477l8 8m-8 0l8-8M513 477l8 8m-8 0l8-8M516 477l8 8m-8 0l8-8M517 476l8 8m-8 0l8-8M518 476l8 8m-8 0l8-8M521 476l8 8m-8 0l8-8M524 477l8 8m-8 0l8-8M528 476l8 8m-8 0l8-8M535 476l8 8m-8 0l8-8M550 476l8 8m-8 0l8-8M553 476l8 8m-8 0l8-8M555 477l8 8m-8 0l8-8M556 477l8 8m-8 0l8-8M557 477l8 8m-8 0l8-8M563 476l8 8m-8 0l8-8M567 476l8 8m-8 0l8-8M575 477l8 8m-8 0l8-8M586 476l8 8m-8 0l8-8M591 477l8 8m-8 0l8-8M622 476l8 8m-8 0l8-8M640 477l8 8m-8 0l8-8M646 477l8 8m-8 0l8-8M648 477l8 8m-8 0l8-8M649 476l8 8m-8 0l8-8M669 477l8 8m-8 0l8-8M673 476l8 8m-8 0l8-8M681 476l8 8m-8 0l8-8M682 477l8 8m-8 0l8-8M443 477l8 8m-8 0l8-8M452 478l8 8m-8 0l8-8M488 478l8 8m-8 0l8-8M491 478l8 8m-8 0l8-8M500 478l8 8m-8 0l8-8M506 477l8 8m-8 0l8-8M520 478l8 8m-8 0l8-8M526 478l8 8m-8 0l8-8M527 478l8 8m-8 0l8-8M555 477l8 8m-8 0l8-8M557 478l8 8m-8 0l8-8M559 478l8 8m-8 0l8-8M562 477l8 8m-8 0l8-8M563 477l8 8m-8 0l8-8M566 478l8 8m-8 0l8-8M569 477l8 8m-8 0l8-8M571 478l8 8m-8 0l8-8M579 478l8 8m-8 0l8-8M581 477l8 8m-8 0l8-8M588 478l8 8m-8 0l8-8M589 477l8 8m-8 0l8-8M596 478l8 8m-8 0l8-8M645 478l8 8m-8 0l8-8M650 478l8 8m-8 0l8-8M651 478l8 8m-8 0l8-8M685 478l8 8m-8 0l8-8M698 478l8 8m-8 0l8-8M700 477l8 8m-8 0l8-8M444 478l8 8m-8 0l8-8M446 479l8 8m-8 0l8-8M457 478l8 8m-8 0l8-8M472 478l8 8m-8 0l8-8M487 479l8 8m-8 0l8-8M513 479l8 8m-8 0l8-8M522 479l8 8m-8 0l8-8M527 479l8 8m-8 0l8-8M528 479l8 8m-8 0l8-8M547 479l8 8m-8 0l8-8M549 478l8 8m-8 0l8-8M586 479l8 8m-8 0l8-8M590 479l8 8m-8 0l8-8M593 478l8 8m-8 0l8-8M596 479l8 8m-8 0l8-8M630 478l8 8m-8 0l8-8M709 479l8 8m-8 0l8-8M439 479l8 8m-8 0l8-8M441 480l8 8m-8 0l8-8M448 480l8 8m-8 0l8-8M464 480l8 8m-8 0l8-8M489 480l8 8m-8 0l8-8M491 480l8 8m-8 0l8-8M495 480l8 8m-8 0l8-8M500 479l8 8m-8 0l8-8M502 480l8 8m-8 0l8-8M506 480l8 8m-8 0l8-8M510 480l8 8m-8 0l8-8M517 480l8 8m-8 0l8-8M527 479l8 8m-8 0l8-8M530 480l8 8m-8 0l8-8M541 479l8 8m-8 0l8-8M558 480l8 8m-8 0l8-8M559 480l8 8m-8 0l8-8M576 479l8 8m-8 0l8-8M595 480l8 8m-8 0l8-8M597 479l8 8m-8 0l8-8M600 480l8 8m-8 0l8-8M615 480l8 8m-8 0l8-8M637 480l8 8m-8 0l8-8M658 479l8 8m-8 0l8-8M672 480l8 8m-8 0l8-8M679 480l8 8m-8 0l8-8M696 479l8 8m-8 0l8-8M703 480l8 8m-8 0l8-8M445 481l8 8m-8 0l8-8M468 480l8 8m-8 0l8-8M487 481l8 8m-8 0l8-8M497 481l8 8m-8 0l8-8M498 481l8 8m-8 0l8-8M499 480l8 8m-8 0l8-8M504 481l8 8m-8 0l8-8M507 481l8 8m-8 0l8-8M519 481l8 8m-8 0l8-8M536 481l8 8m-8 0l8-8M549 481l8 8m-8 0l8-8M553 481l8 8m-8 0l8-8M554 481l8 8m-8 0l8-8M563 480l8 8m-8 0l8-8M564 480l8 8m-8 0l8-8M565 481l8 8m-8 0l8-8M569 480l8 8m-8 0l8-8M591 480l8 8m-8 0l8-8M592 481l8 8m-8 0l8-8M596 481l8 8m-8 0l8-8M600 481l8 8m-8 0l8-8M619 481l8 8m-8 0l8-8M632 481l8 8m-8 0l8-8M641 481l8 8m-8 0l8-8M651 481l8 8m-8 0l8-8M658 481l8 8m-8 0l8-8M667 480l8 8m-8 0l8-8M680 481l8 8m-8 0l8-8M687 481l8 8m-8 0l8-8M691 481l8 8m-8 0l8-8M439 482l8 8m-8 0l8-8M480 482l8 8m-8 0l8-8M503 482l8 8m-8 0l8-8M507 482l8 8m-8 0l8-8M508 482l8 8m-8 0l8-8M509 482l8 8m-8 0l8-8M511 482l8 8m-8 0l8-8M512 482l8 8m-8 0l8-8M513 482l8 8m-8 0l8-8M516 482l8 8m-8 0l8-8M519 481l8 8m-8 0l8-8M523 482l8 8m-8 0l8-8M528 481l8 8m-8 0l8-8M531 481l8 8m-8 0l8-8M532 481l8 8m-8 0l8-8M534 481l8 8m-8 0l8-8M535 482l8 8m-8 0l8-8M547 481l8 8m-8 0l8-8M548 481l8 8m-8 0l8-8M550 481l8 8m-8 0l8-8M553 482l8 8m-8 0l8-8M556 482l8 8m-8 0l8-8M558 482l8 8m-8 0l8-8M559 482l8 8m-8 0l8-8M566 481l8 8m-8 0l8-8M590 482l8 8m-8 0l8-8M596 482l8 8m-8 0l8-8M599 482l8 8m-8 0l8-8M682 482l8 8m-8 0l8-8M688 481l8 8m-8 0l8-8M693 481l8 8m-8 0l8-8M447 483l8 8m-8 0l8-8M458 483l8 8m-8 0l8-8M458 482l8 8m-8 0l8-8M468 482l8 8m-8 0l8-8M490 483l8 8m-8 0l8-8M495 483l8 8m-8 0l8-8M496 483l8 8m-8 0l8-8M501 483l8 8m-8 0l8-8M509 483l8 8m-8 0l8-8M515 483l8 8m-8 0l8-8M535 483l8 8m-8 0l8-8M537 483l8 8m-8 0l8-8M539 483l8 8m-8 0l8-8M541 483l8 8m-8 0l8-8M547 483l8 8m-8 0l8-8M550 483l8 8m-8 0l8-8M553 483l8 8m-8 0l8-8M554 483l8 8m-8 0l8-8M564 483l8 8m-8 0l8-8M568 483l8 8m-8 0l8-8M571 483l8 8m-8 0l8-8M576 483l8 8m-8 0l8-8M589 483l8 8m-8 0l8-8M629 483l8 8m-8 0l8-8M646 483l8 8m-8 0l8-8M657 483l8 8m-8 0l8-8M684 483l8 8m-8 0l8-8M701 483l8 8m-8 0l8-8M708 483l8 8m-8 0l8-8M439 483l8 8m-8 0l8-8M461 484l8 8m-8 0l8-8M464 484l8 8m-8 0l8-8M475 484l8 8m-8 0l8-8M487 483l8 8m-8 0l8-8M493 484l8 8m-8 0l8-8M503 483l8 8m-8 0l8-8M510 484l8 8m-8 0l8-8M513 484l8 8m-8 0l8-8M517 484l8 8m-8 0l8-8M520 484l8 8m-8 0l8-8M522 484l8 8m-8 0l8-8M524 484l8 8m-8 0l8-8M539 484l8 8m-8 0l8-8M548 484l8 8m-8 0l8-8M550 484l8 8m-8 0l8-8M551 484l8 8m-8 0l8-8M574 484l8 8m-8 0l8-8M595 484l8 8m-8 0l8-8M600 483l8 8m-8 0l8-8M632 484l8 8m-8 0l8-8M632 483l8 8m-8 0l8-8M643 484l8 8m-8 0l8-8M646 484l8 8m-8 0l8-8M648 484l8 8m-8 0l8-8M671 484l8 8m-8 0l8-8M697 483l8 8m-8 0l8-8M709 484l8 8m-8 0l8-8M442 485l8 8m-8 0l8-8M466 485l8 8m-8 0l8-8M479 485l8 8m-8 0l8-8M483 485l8 8m-8 0l8-8M489 485l8 8m-8 0l8-8M490 485l8 8m-8 0l8-8M491 485l8 8m-8 0l8-8M498 485l8 8m-8 0l8-8M499 485l8 8m-8 0l8-8M502 485l8 8m-8 0l8-8M506 485l8 8m-8 0l8-8M508 485l8 8m-8 0l8-8M509 485l8 8m-8 0l8-8M511 485l8 8m-8 0l8-8M519 485l8 8m-8 0l8-8M522 485l8 8m-8 0l8-8M529 485l8 8m-8 0l8-8M532 485l8 8m-8 0l8-8M533 485l8 8m-8 0l8-8M541 485l8 8m-8 0l8-8M548 485l8 8m-8 0l8-8M549 485l8 8m-8 0l8-8M560 484l8 8m-8 0l8-8M578 485l8 8m-8 0l8-8M621 485l8 8m-8 0l8-8M649 485l8 8m-8 0l8-8M680 485l8 8m-8 0l8-8M694 485l8 8m-8 0l8-8M448 486l8 8m-8 0l8-8M461 486l8 8m-8 0l8-8M464 486l8 8m-8 0l8-8M483 486l8 8m-8 0l8-8M490 486l8 8m-8 0l8-8M499 486l8 8m-8 0l8-8M509 486l8 8m-8 0l8-8M512 486l8 8m-8 0l8-8M523 486l8 8m-8 0l8-8M547 486l8 8m-8 0l8-8M549 485l8 8m-8 0l8-8M550 486l8 8m-8 0l8-8M553 486l8 8m-8 0l8-8M561 486l8 8m-8 0l8-8M583 486l8 8m-8 0l8-8M586 486l8 8m-8 0l8-8M592 486l8 8m-8 0l8-8M599 486l8 8m-8 0l8-8M629 486l8 8m-8 0l8-8M631 486l8 8m-8 0l8-8M650 486l8 8m-8 0l8-8M656 486l8 8m-8 0l8-8M659 486l8 8m-8 0l8-8M431 487l8 8m-8 0l8-8M446 487l8 8m-8 0l8-8M449 487l8 8m-8 0l8-8M460 487l8 8m-8 0l8-8M488 487l8 8m-8 0l8-8M492 488l8 8m-8 0l8-8M498 487l8 8m-8 0l8-8M499 487l8 8m-8 0l8-8M506 488l8 8m-8 0l8-8M509 487l8 8m-8 0l8-8M510 487l8 8m-8 0l8-8M513 487l8 8m-8 0l8-8M516 487l8 8m-8 0l8-8M520 487l8 8m-8 0l8-8M527 487l8 8m-8 0l8-8M533 487l8 8m-8 0l8-8M538 487l8 8m-8 0l8-8M540 487l8 8m-8 0l8-8M548 487l8 8m-8 0l8-8M550 487l8 8m-8 0l8-8M556 487l8 8m-8 0l8-8M556 487l8 8m-8 0l8-8M561 487l8 8m-8 0l8-8M563 487l8 8m-8 0l8-8M582 487l8 8m-8 0l8-8M585 487l8 8m-8 0l8-8M612 487l8 8m-8 0l8-8M631 487l8 8m-8 0l8-8M639 487l8 8m-8 0l8-8M653 487l8 8m-8 0l8-8M662 487l8 8m-8 0l8-8M669 487l8 8m-8 0l8-8M682 487l8 8m-8 0l8-8M693 487l8 8m-8 0l8-8M706 487l8 8m-8 0l8-8M707 487l8 8m-8 0l8-8M453 488l8 8m-8 0l8-8M453 489l8 8m-8 0l8-8M458 488l8 8m-8 0l8-8M459 488l8 8m-8 0l8-8M477 488l8 8m-8 0l8-8M491 489l8 8m-8 0l8-8M496 488l8 8m-8 0l8-8M498 488l8 8m-8 0l8-8M512 489l8 8m-8 0l8-8M531 488l8 8m-8 0l8-8M539 488l8 8m-8 0l8-8M540 488l8 8m-8 0l8-8M559 488l8 8m-8 0l8-8M563 488l8 8m-8 0l8-8M571 489l8 8m-8 0l8-8M574 489l8 8m-8 0l8-8M588 488l8 8m-8 0l8-8M590 489l8 8m-8 0l8-8M599 488l8 8m-8 0l8-8M622 488l8 8m-8 0l8-8M625 489l8 8m-8 0l8-8M648 488l8 8m-8 0l8-8M664 488l8 8m-8 0l8-8M446 489l8 8m-8 0l8-8M453 489l8 8m-8 0l8-8M459 490l8 8m-8 0l8-8M490 489l8 8m-8 0l8-8M503 489l8 8m-8 0l8-8M519 489l8 8m-8 0l8-8M526 490l8 8m-8 0l8-8M532 489l8 8m-8 0l8-8M536 489l8 8m-8 0l8-8M537 490l8 8m-8 0l8-8M540 489l8 8m-8 0l8-8M551 489l8 8m-8 0l8-8M555 489l8 8m-8 0l8-8M557 489l8 8m-8 0l8-8M587 489l8 8m-8 0l8-8M588 489l8 8m-8 0l8-8M604 489l8 8m-8 0l8-8M605 489l8 8m-8 0l8-8M612 489l8 8m-8 0l8-8M643 489l8 8m-8 0l8-8M663 489l8 8m-8 0l8-8M670 489l8 8m-8 0l8-8M693 489l8 8m-8 0l8-8M440 490l8 8m-8 0l8-8M442 491l8 8m-8 0l8-8M449 490l8 8m-8 0l8-8M461 490l8 8m-8 0l8-8M473 490l8 8m-8 0l8-8M487 490l8 8m-8 0l8-8M488 490l8 8m-8 0l8-8M496 490l8 8m-8 0l8-8M497 490l8 8m-8 0l8-8M500 491l8 8m-8 0l8-8M507 490l8 8m-8 0l8-8M514 490l8 8m-8 0l8-8M516 490l8 8m-8 0l8-8M517 490l8 8m-8 0l8-8M518 490l8 8m-8 0l8-8M521 491l8 8m-8 0l8-8M527 490l8 8m-8 0l8-8M530 490l8 8m-8 0l8-8M530 490l8 8m-8 0l8-8M534 490l8 8m-8 0l8-8M538 490l8 8m-8 0l8-8M546 490l8 8m-8 0l8-8M584 490l8 8m-8 0l8-8M585 490l8 8m-8 0l8-8M592 491l8 8m-8 0l8-8M595 490l8 8m-8 0l8-8M598 491l8 8m-8 0l8-8M620 490l8 8m-8 0l8-8M622 490l8 8m-8 0l8-8M628 490l8 8m-8 0l8-8M643 491l8 8m-8 0l8-8M644 490l8 8m-8 0l8-8M648 490l8 8m-8 0l8-8M685 490l8 8m-8 0l8-8M697 491l8 8m-8 0l8-8M697 491l8 8m-8 0l8-8M429 491l8 8m-8 0l8-8M446 491l8 8m-8 0l8-8M450 491l8 8m-8 0l8-8M454 491l8 8m-8 0l8-8M458 491l8 8m-8 0l8-8M463 491l8 8m-8 0l8-8M487 491l8 8m-8 0l8-8M494 491l8 8m-8 0l8-8M500 492l8 8m-8 0l8-8M509 491l8 8m-8 0l8-8M511 491l8 8m-8 0l8-8M524 491l8 8m-8 0l8-8M528 492l8 8m-8 0l8-8M537 491l8 8m-8 0l8-8M549 491l8 8m-8 0l8-8M556 492l8 8m-8 0l8-8M556 491l8 8m-8 0l8-8M561 491l8 8m-8 0l8-8M562 492l8 8m-8 0l8-8M572 492l8 8m-8 0l8-8M573 491l8 8m-8 0l8-8M574 492l8 8m-8 0l8-8M591 492l8 8m-8 0l8-8M611 492l8 8m-8 0l8-8M644 491l8 8m-8 0l8-8M651 491l8 8m-8 0l8-8M664 491l8 8m-8 0l8-8M683 491l8 8m-8 0l8-8M689 491l8 8m-8 0l8-8M699 491l8 8m-8 0l8-8M700 491l8 8m-8 0l8-8M444 492l8 8m-8 0l8-8M461 492l8 8m-8 0l8-8M498 493l8 8m-8 0l8-8M503 493l8 8m-8 0l8-8M506 492l8 8m-8 0l8-8M508 493l8 8m-8 0l8-8M512 492l8 8m-8 0l8-8M515 493l8 8m-8 0l8-8M518 493l8 8m-8 0l8-8M532 492l8 8m-8 0l8-8M533 492l8 8m-8 0l8-8M537 493l8 8m-8 0l8-8M541 492l8 8m-8 0l8-8M552 492l8 8m-8 0l8-8M555 493l8 8m-8 0l8-8M556 492l8 8m-8 0l8-8M566 492l8 8m-8 0l8-8M570 493l8 8m-8 0l8-8M624 492l8 8m-8 0l8-8M658 493l8 8m-8 0l8-8M672 493l8 8m-8 0l8-8M676 492l8 8m-8 0l8-8M683 493l8 8m-8 0l8-8M690 492l8 8m-8 0l8-8M697 492l8 8m-8 0l8-8M702 492l8 8m-8 0l8-8M448 493l8 8m-8 0l8-8M458 493l8 8m-8 0l8-8M465 493l8 8m-8 0l8-8M469 494l8 8m-8 0l8-8M474 494l8 8m-8 0l8-8M477 494l8 8m-8 0l8-8M488 494l8 8m-8 0l8-8M503 493l8 8m-8 0l8-8M510 493l8 8m-8 0l8-8M514 493l8 8m-8 0l8-8M523 494l8 8m-8 0l8-8M542 494l8 8m-8 0l8-8M548 494l8 8m-8 0l8-8M550 493l8 8m-8 0l8-8M557 493l8 8m-8 0l8-8M573 493l8 8m-8 0l8-8M575 494l8 8m-8 0l8-8M575 493l8 8m-8 0l8-8M583 494l8 8m-8 0l8-8M595 493l8 8m-8 0l8-8M635 493l8 8m-8 0l8-8M648 493l8 8m-8 0l8-8M676 494l8 8m-8 0l8-8M679 494l8 8m-8 0l8-8M697 493l8 8m-8 0l8-8M698 493l8 8m-8 0l8-8M440 494l8 8m-8 0l8-8M444 495l8 8m-8 0l8-8M460 494l8 8m-8 0l8-8M481 494l8 8m-8 0l8-8M496 495l8 8m-8 0l8-8M497 494l8 8m-8 0l8-8M502 494l8 8m-8 0l8-8M503 494l8 8m-8 0l8-8M514 494l8 8m-8 0l8-8M522 494l8 8m-8 0l8-8M527 495l8 8m-8 0l8-8M531 494l8 8m-8 0l8-8M531 495l8 8m-8 0l8-8M537 494l8 8m-8 0l8-8M549 495l8 8m-8 0l8-8M550 494l8 8m-8 0l8-8M567 494l8 8m-8 0l8-8M569 495l8 8m-8 0l8-8M582 494l8 8m-8 0l8-8M585 495l8 8m-8 0l8-8M592 494l8 8m-8 0l8-8M642 494l8 8m-8 0l8-8M644 495l8 8m-8 0l8-8M664 495l8 8m-8 0l8-8M706 495l8 8m-8 0l8-8M429 496l8 8m-8 0l8-8M435 496l8 8m-8 0l8-8M463 495l8 8m-8 0l8-8M474 495l8 8m-8 0l8-8M499 496l8 8m-8 0l8-8M500 495l8 8m-8 0l8-8M528 496l8 8m-8 0l8-8M529 495l8 8m-8 0l8-8M531 495l8 8m-8 0l8-8M531 496l8 8m-8 0l8-8M533 496l8 8m-8 0l8-8M536 495l8 8m-8 0l8-8M537 495l8 8m-8 0l8-8M553 496l8 8m-8 0l8-8M559 496l8 8m-8 0l8-8M561 496l8 8m-8 0l8-8M579 495l8 8m-8 0l8-8M586 495l8 8m-8 0l8-8M587 496l8 8m-8 0l8-8M598 496l8 8m-8 0l8-8M600 496l8 8m-8 0l8-8M609 495l8 8m-8 0l8-8M648 496l8 8m-8 0l8-8M649 495l8 8m-8 0l8-8M438 497l8 8m-8 0l8-8M439 496l8 8m-8 0l8-8M443 497l8 8m-8 0l8-8M444 497l8 8m-8 0l8-8M464 497l8 8m-8 0l8-8M471 497l8 8m-8 0l8-8M477 497l8 8m-8 0l8-8M480 497l8 8m-8 0l8-8M482 497l8 8m-8 0l8-8M492 497l8 8m-8 0l8-8M501 497l8 8m-8 0l8-8M502 497l8 8m-8 0l8-8M506 496l8 8m-8 0l8-8M508 496l8 8m-8 0l8-8M515 497l8 8m-8 0l8-8M517 497l8 8m-8 0l8-8M522 497l8 8m-8 0l8-8M523 497l8 8m-8 0l8-8M525 496l8 8m-8 0l8-8M536 497l8 8m-8 0l8-8M556 497l8 8m-8 0l8-8M594 497l8 8m-8 0l8-8M600 496l8 8m-8 0l8-8M610 496l8 8m-8 0l8-8M613 496l8 8m-8 0l8-8M649 497l8 8m-8 0l8-8M664 496l8 8m-8 0l8-8M672 496l8 8m-8 0l8-8M676 497l8 8m-8 0l8-8M687 496l8 8m-8 0l8-8M432 498l8 8m-8 0l8-8M438 498l8 8m-8 0l8-8M448 498l8 8m-8 0l8-8M456 497l8 8m-8 0l8-8M468 497l8 8m-8 0l8-8M471 498l8 8m-8 0l8-8M495 498l8 8m-8 0l8-8M499 498l8 8m-8 0l8-8M502 498l8 8m-8 0l8-8M504 498l8 8m-8 0l8-8M521 497l8 8m-8 0l8-8M526 497l8 8m-8 0l8-8M533 498l8 8m-8 0l8-8M534 498l8 8m-8 0l8-8M550 497l8 8m-8 0l8-8M553 498l8 8m-8 0l8-8M554 498l8 8m-8 0l8-8M563 497l8 8m-8 0l8-8M569 497l8 8m-8 0l8-8M575 497l8 8m-8 0l8-8M586 497l8 8m-8 0l8-8M597 498l8 8m-8 0l8-8M628 497l8 8m-8 0l8-8M642 497l8 8m-8 0l8-8M648 497l8 8m-8 0l8-8M649 498l8 8m-8 0l8-8M651 498l8 8m-8 0l8-8M664 498l8 8m-8 0l8-8M667 498l8 8m-8 0l8-8M670 498l8 8m-8 0l8-8M674 498l8 8m-8 0l8-8M674 497l8 8m-8 0l8-8M677 498l8 8m-8 0l8-8M683 498l8 8m-8 0l8-8M706 497l8 8m-8 0l8-8M434 498l8 8m-8 0l8-8M444 498l8 8m-8 0l8-8M450 498l8 8m-8 0l8-8M453 499l8 8m-8 0l8-8M461 498l8 8m-8 0l8-8M467 498l8 8m-8 0l8-8M470 499l8 8m-8 0l8-8M491 499l8 8m-8 0l8-8M494 499l8 8m-8 0l8-8M504 498l8 8m-8 0l8-8M509 499l8 8m-8 0l8-8M534 498l8 8m-8 0l8-8M538 498l8 8m-8 0l8-8M542 499l8 8m-8 0l8-8M548 498l8 8m-8 0l8-8M556 499l8 8m-8 0l8-8M562 498l8 8m-8 0l8-8M564 499l8 8m-8 0l8-8M569 499l8 8m-8 0l8-8M578 498l8 8m-8 0l8-8M588 498l8 8m-8 0l8-8M594 498l8 8m-8 0l8-8M626 499l8 8m-8 0l8-8M634 499l8 8m-8 0l8-8M653 498l8 8m-8 0l8-8M659 499l8 8m-8 0l8-8M684 499l8 8m-8 0l8-8M692 499l8 8m-8 0l8-8M702 498l8 8m-8 0l8-8M439 500l8 8m-8 0l8-8M446 500l8 8m-8 0l8-8M466 500l8 8m-8 0l8-8M474 500l8 8m-8 0l8-8M477 499l8 8m-8 0l8-8M480 499l8 8m-8 0l8-8M487 500l8 8m-8 0l8-8M496 500l8 8m-8 0l8-8M503 499l8 8m-8 0l8-8M507 500l8 8m-8 0l8-8M509 499l8 8m-8 0l8-8M518 499l8 8m-8 0l8-8M523 500l8 8m-8 0l8-8M531 499l8 8m-8 0l8-8M537 500l8 8m-8 0l8-8M543 500l8 8m-8 0l8-8M552 500l8 8m-8 0l8-8M557 500l8 8m-8 0l8-8M563 500l8 8m-8 0l8-8M566 499l8 8m-8 0l8-8M569 500l8 8m-8 0l8-8M574 500l8 8m-8 0l8-8M592 499l8 8m-8 0l8-8M595 499l8 8m-8 0l8-8M614 500l8 8m-8 0l8-8M619 500l8 8m-8 0l8-8M627 500l8 8m-8 0l8-8M638 500l8 8m-8 0l8-8M645 499l8 8m-8 0l8-8M653 499l8 8m-8 0l8-8M693 499l8 8m-8 0l8-8M698 500l8 8m-8 0l8-8M429 501l8 8m-8 0l8-8M441 501l8 8m-8 0l8-8M452 501l8 8m-8 0l8-8M477 501l8 8m-8 0l8-8M490 501l8 8m-8 0l8-8M498 501l8 8m-8 0l8-8M512 501l8 8m-8 0l8-8M515 500l8 8m-8 0l8-8M519 501l8 8m-8 0l8-8M528 501l8 8m-8 0l8-8M533 501l8 8m-8 0l8-8M540 501l8 8m-8 0l8-8M547 501l8 8m-8 0l8-8M556 501l8 8m-8 0l8-8M558 501l8 8m-8 0l8-8M562 500l8 8m-8 0l8-8M567 500l8 8m-8 0l8-8M585 500l8 8m-8 0l8-8M624 500l8 8m-8 0l8-8M639 501l8 8m-8 0l8-8M642 501l8 8m-8 0l8-8M643 501l8 8m-8 0l8-8M654 501l8 8m-8 0l8-8M680 501l8 8m-8 0l8-8M697 501l8 8m-8 0l8-8M435 501l8 8m-8 0l8-8M452 502l8 8m-8 0l8-8M459 501l8 8m-8 0l8-8M471 502l8 8m-8 0l8-8M476 502l8 8m-8 0l8-8M491 502l8 8m-8 0l8-8M498 501l8 8m-8 0l8-8M506 502l8 8m-8 0l8-8M509 502l8 8m-8 0l8-8M511 502l8 8m-8 0l8-8M514 502l8 8m-8 0l8-8M518 502l8 8m-8 0l8-8M525 502l8 8m-8 0l8-8M538 502l8 8m-8 0l8-8M540 502l8 8m-8 0l8-8M594 502l8 8m-8 0l8-8M596 502l8 8m-8 0l8-8M600 502l8 8m-8 0l8-8M625 502l8 8m-8 0l8-8M646 502l8 8m-8 0l8-8M663 502l8 8m-8 0l8-8M665 502l8 8m-8 0l8-8M667 502l8 8m-8 0l8-8M674 502l8 8m-8 0l8-8M684 502l8 8m-8 0l8-8M708 502l8 8m-8 0l8-8M709 502l8 8m-8 0l8-8M453 503l8 8m-8 0l8-8M456 502l8 8m-8 0l8-8M456 502l8 8m-8 0l8-8M480 503l8 8m-8 0l8-8M487 503l8 8m-8 0l8-8M495 503l8 8m-8 0l8-8M498 503l8 8m-8 0l8-8M500 503l8 8m-8 0l8-8M501 503l8 8m-8 0l8-8M522 503l8 8m-8 0l8-8M527 503l8 8m-8 0l8-8M539 502l8 8m-8 0l8-8M541 503l8 8m-8 0l8-8M542 503l8 8m-8 0l8-8M548 503l8 8m-8 0l8-8M550 502l8 8m-8 0l8-8M556 503l8 8m-8 0l8-8M559 503l8 8m-8 0l8-8M563 503l8 8m-8 0l8-8M572 503l8 8m-8 0l8-8M573 503l8 8m-8 0l8-8M594 502l8 8m-8 0l8-8M596 502l8 8m-8 0l8-8M598 503l8 8m-8 0l8-8M647 503l8 8m-8 0l8-8M657 503l8 8m-8 0l8-8M664 503l8 8m-8 0l8-8M679 503l8 8m-8 0l8-8M682 503l8 8m-8 0l8-8M703 503l8 8m-8 0l8-8M712 503l8 8m-8 0l8-8M430 504l8 8m-8 0l8-8M433 504l8 8m-8 0l8-8M448 504l8 8m-8 0l8-8M449 504l8 8m-8 0l8-8M463 504l8 8m-8 0l8-8M470 504l8 8m-8 0l8-8M495 504l8 8m-8 0l8-8M497 504l8 8m-8 0l8-8M502 504l8 8m-8 0l8-8M506 504l8 8m-8 0l8-8M511 504l8 8m-8 0l8-8M519 504l8 8m-8 0l8-8M520 504l8 8m-8 0l8-8M524 504l8 8m-8 0l8-8M531 503l8 8m-8 0l8-8M536 504l8 8m-8 0l8-8M541 504l8 8m-8 0l8-8M547 504l8 8m-8 0l8-8M551 504l8 8m-8 0l8-8M552 504l8 8m-8 0l8-8M557 504l8 8m-8 0l8-8M565 504l8 8m-8 0l8-8M571 503l8 8m-8 0l8-8M573 504l8 8m-8 0l8-8M582 504l8 8m-8 0l8-8M599 504l8 8m-8 0l8-8M599 504l8 8m-8 0l8-8M607 504l8 8m-8 0l8-8M618 504l8 8m-8 0l8-8M623 504l8 8m-8 0l8-8M627 504l8 8m-8 0l8-8M632 504l8 8m-8 0l8-8M647 504l8 8m-8 0l8-8M673 503l8 8m-8 0l8-8M687 504l8 8m-8 0l8-8M695 504l8 8m-8 0l8-8M435 505l8 8m-8 0l8-8M439 505l8 8m-8 0l8-8M441 505l8 8m-8 0l8-8M474 505l8 8m-8 0l8-8M499 505l8 8m-8 0l8-8M501 505l8 8m-8 0l8-8M505 505l8 8m-8 0l8-8M510 505l8 8m-8 0l8-8M514 505l8 8m-8 0l8-8M517 505l8 8m-8 0l8-8M524 505l8 8m-8 0l8-8M534 505l8 8m-8 0l8-8M537 505l8 8m-8 0l8-8M541 505l8 8m-8 0l8-8M549 505l8 8m-8 0l8-8M554 505l8 8m-8 0l8-8M566 505l8 8m-8 0l8-8M569 505l8 8m-8 0l8-8M582 505l8 8m-8 0l8-8M640 505l8 8m-8 0l8-8M645 504l8 8m-8 0l8-8M648 505l8 8m-8 0l8-8M649 505l8 8m-8 0l8-8M665 505l8 8m-8 0l8-8M672 505l8 8m-8 0l8-8M684 505l8 8m-8 0l8-8M690 505l8 8m-8 0l8-8M693 505l8 8m-8 0l8-8M694 505l8 8m-8 0l8-8M698 505l8 8m-8 0l8-8M700 505l8 8m-8 0l8-8M708 505l8 8m-8 0l8-8M436 506l8 8m-8 0l8-8M442 506l8 8m-8 0l8-8M447 506l8 8m-8 0l8-8M458 506l8 8m-8 0l8-8M461 506l8 8m-8 0l8-8M465 506l8 8m-8 0l8-8M466 506l8 8m-8 0l8-8M471 506l8 8m-8 0l8-8M487 506l8 8m-8 0l8-8M494 506l8 8m-8 0l8-8M500 506l8 8m-8 0l8-8M503 506l8 8m-8 0l8-8M504 506l8 8m-8 0l8-8M507 507l8 8m-8 0l8-8M513 506l8 8m-8 0l8-8M517 506l8 8m-8 0l8-8M531 506l8 8m-8 0l8-8M537 506l8 8m-8 0l8-8M539 506l8 8m-8 0l8-8M553 506l8 8m-8 0l8-8M557 506l8 8m-8 0l8-8M560 506l8 8m-8 0l8-8M562 506l8 8m-8 0l8-8M568 506l8 8m-8 0l8-8M574 506l8 8m-8 0l8-8M599 506l8 8m-8 0l8-8M605 506l8 8m-8 0l8-8M612 506l8 8m-8 0l8-8M629 506l8 8m-8 0l8-8M643 506l8 8m-8 0l8-8M656 506l8 8m-8 0l8-8M659 506l8 8m-8 0l8-8M680 507l8 8m-8 0l8-8M690 506l8 8m-8 0l8-8M446 507l8 8m-8 0l8-8M470 507l8 8m-8 0l8-8M489 507l8 8m-8 0l8-8M509 507l8 8m-8 0l8-8M513 507l8 8m-8 0l8-8M518 507l8 8m-8 0l8-8M526 507l8 8m-8 0l8-8M546 507l8 8m-8 0l8-8M550 507l8 8m-8 0l8-8M552 507l8 8m-8 0l8-8M554 507l8 8m-8 0l8-8M557 507l8 8m-8 0l8-8M563 507l8 8m-8 0l8-8M568 507l8 8m-8 0l8-8M575 507l8 8m-8 0l8-8M575 508l8 8m-8 0l8-8M576 508l8 8m-8 0l8-8M600 507l8 8m-8 0l8-8M608 507l8 8m-8 0l8-8M636 507l8 8m-8 0l8-8M643 508l8 8m-8 0l8-8M650 508l8 8m-8 0l8-8M651 507l8 8m-8 0l8-8M654 507l8 8m-8 0l8-8M659 507l8 8m-8 0l8-8M668 507l8 8m-8 0l8-8M672 507l8 8m-8 0l8-8M695 507l8 8m-8 0l8-8M443 509l8 8m-8 0l8-8M446 508l8 8m-8 0l8-8M448 508l8 8m-8 0l8-8M467 508l8 8m-8 0l8-8M479 508l8 8m-8 0l8-8M515 508l8 8m-8 0l8-8M538 508l8 8m-8 0l8-8M540 508l8 8m-8 0l8-8M551 508l8 8m-8 0l8-8M552 508l8 8m-8 0l8-8M557 509l8 8m-8 0l8-8M562 509l8 8m-8 0l8-8M563 508l8 8m-8 0l8-8M577 508l8 8m-8 0l8-8M582 509l8 8m-8 0l8-8M591 508l8 8m-8 0l8-8M592 508l8 8m-8 0l8-8M597 508l8 8m-8 0l8-8M637 508l8 8m-8 0l8-8M640 508l8 8m-8 0l8-8M650 508l8 8m-8 0l8-8M653 508l8 8m-8 0l8-8M666 508l8 8m-8 0l8-8M674 508l8 8m-8 0l8-8M697 508l8 8m-8 0l8-8M712 508l8 8m-8 0l8-8M456 509l8 8m-8 0l8-8M458 509l8 8m-8 0l8-8M497 510l8 8m-8 0l8-8M503 510l8 8m-8 0l8-8M530 509l8 8m-8 0l8-8M550 509l8 8m-8 0l8-8M568 509l8 8m-8 0l8-8M569 510l8 8m-8 0l8-8M575 509l8 8m-8 0l8-8M578 509l8 8m-8 0l8-8M579 509l8 8m-8 0l8-8M582 509l8 8m-8 0l8-8M596 509l8 8m-8 0l8-8M626 509l8 8m-8 0l8-8M639 509l8 8m-8 0l8-8M663 509l8 8m-8 0l8-8M678 509l8 8m-8 0l8-8M678 509l8 8m-8 0l8-8M702 510l8 8m-8 0l8-8M440 510l8 8m-8 0l8-8M443 510l8 8m-8 0l8-8M450 510l8 8m-8 0l8-8M454 510l8 8m-8 0l8-8M470 510l8 8m-8 0l8-8M505 510l8 8m-8 0l8-8M516 510l8 8m-8 0l8-8M524 511l8 8m-8 0l8-8M530 510l8 8m-8 0l8-8M536 510l8 8m-8 0l8-8M540 511l8 8m-8 0l8-8M547 511l8 8m-8 0l8-8M564 511l8 8m-8 0l8-8M566 510l8 8m-8 0l8-8M570 510l8 8m-8 0l8-8M582 510l8 8m-8 0l8-8M610 510l8 8m-8 0l8-8M611 510l8 8m-8 0l8-8M612 510l8 8m-8 0l8-8M618 511l8 8m-8 0l8-8M621 510l8 8m-8 0l8-8M627 510l8 8m-8 0l8-8M647 510l8 8m-8 0l8-8M650 510l8 8m-8 0l8-8M669 510l8 8m-8 0l8-8M671 511l8 8m-8 0l8-8M687 510l8 8m-8 0l8-8M691 510l8 8m-8 0l8-8M695 510l8 8m-8 0l8-8M440 512l8 8m-8 0l8-8M452 511l8 8m-8 0l8-8M458 511l8 8m-8 0l8-8M459 511l8 8m-8 0l8-8M469 511l8 8m-8 0l8-8M471 511l8 8m-8 0l8-8M475 512l8 8m-8 0l8-8M494 512l8 8m-8 0l8-8M511 511l8 8m-8 0l8-8M512 512l8 8m-8 0l8-8M518 511l8 8m-8 0l8-8M538 511l8 8m-8 0l8-8M541 511l8 8m-8 0l8-8M547 511l8 8m-8 0l8-8M551 511l8 8m-8 0l8-8M557 512l8 8m-8 0l8-8M572 511l8 8m-8 0l8-8M581 512l8 8m-8 0l8-8M583 511l8 8m-8 0l8-8M595 511l8 8m-8 0l8-8M598 512l8 8m-8 0l8-8M622 512l8 8m-8 0l8-8M664 511l8 8m-8 0l8-8M702 511l8 8m-8 0l8-8M421 500l8 8m-8 0l8-8M421 477l8 8m-8 0l8-8M421 491l8 8m-8 0l8-8M421 505l8 8m-8 0l8-8M421 479l8 8m-8 0l8-8M421 476l8 8m-8 0l8-8M421 494l8 8m-8 0l8-8M421 499l8 8m-8 0l8-8M421 480l8 8m-8 0l8-8M421 484l8 8m-8 0l8-8M420 484l8 8m-8 0l8-8M421 487l8 8m-8 0l8-8M421 480l8 8m-8 0l8-8M421 504l8 8m-8 0l8-8M421 503l8 8m-8 0l8-8M420 508l8 8m-8 0l8-8M421 509l8 8m-8 0l8-8M421 506l8 8m-8 0l8-8M420 482l8 8m-8 0l8-8M421 474l8 8m-8 0l8-8M421 492l8 8m-8 0l8-8M420 510l8 8m-8 0l8-8M421 471l8 8m-8 0l8-8M421 480l8 8m-8 0l8-8M421 475l8 8m-8 0l8-8M420 494l8 8m-8 0l8-8M420 485l8 8m-8 0l8-8M421 499l8 8m-8 0l8-8M421 499l8 8m-8 0l8-8M420 479l8 8m-8 0l8-8M421 492l8 8m-8 0l8-8M421 499l8 8m-8 0l8-8M420 494l8 8m-8 0l8-8M420 482l8 8m-8 0l8-8M421 492l8 8m-8 0l8-8M421 498l8 8m-8 0l8-8M421 465l8 8m-8 0l8-8M421 491l8 8m-8 0l8-8M421 494l8 8m-8 0l8-8M421 502l8 8m-8 0l8-8M420 477l8 8m-8 0l8-8M421 503l8 8m-8 0l8-8M421 491l8 8m-8 0l8-8M420 468l8 8m-8 0l8-8M421 500l8 8m-8 0l8-8M421 467l8 8m-8 0l8-8M421 495l8 8m-8 0l8-8M421 512l8 8m-8 0l8-8M421 483l8 8m-8 0l8-8M421 472l8 8m-8 0l8-8M421 480l8 8m-8 0l8-8M421 491l8 8m-8 0l8-8M421 490l8 8m-8 0l8-8M420 465l8 8m-8 0l8-8M421 498l8 8m-8 0l8-8M421 472l8 8m-8 0l8-8M699 509l8 8m-8 0l8-8M700 500l8 8m-8 0l8-8M699 504l8 8m-8 0l8-8M699 507l8 8m-8 0l8-8M700 478l8 8m-8 0l8-8M699 492l8 8m-8 0l8-8M700 499l8 8m-8 0l8-8M698 467l8 8m-8 0l8-8M699 466l8 8m-8 0l8-8M700 467l8 8m-8 0l8-8M699 489l8 8m-8 0l8-8M700 500l8 8m-8 0l8-8M700 480l8 8m-8 0l8-8M700 466l8 8m-8 0l8-8M699 490l8 8m-8 0l8-8M700 464l8 8m-8 0l8-8M699 479l8 8m-8 0l8-8M700 507l8 8m-8 0l8-8M699 491l8 8m-8 0l8-8M699 466l8 8m-8 0l8-8M700 493l8 8m-8 0l8-8M699 492l8 8m-8 0l8-8M699 474l8 8m-8 0l8-8M699 485l8 8m-8 0l8-8M700 485l8 8m-8 0l8-8M700 502l8 8m-8 0l8-8M699 503l8 8m-8 0l8-8M700 504l8 8m-8 0l8-8M699 479l8 8m-8 0l8-8M700 501l8 8m-8 0l8-8M699 477l8 8m-8 0l8-8M700 479l8 8m-8 0l8-8M700 501l8 8m-8 0l8-8M700 504l8 8m-8 0l8-8M700 468l8 8m-8 0l8-8M699 508l8 8m-8 0l8-8M700 494l8 8m-8 0l8-8M700 507l8 8m-8 0l8-8M705 493l8 8m-8 0l8-8M706 500l8 8m-8 0l8-8M705 485l8 8m-8 0l8-8M705 477l8 8m-8 0l8-8M705 510l8 8m-8 0l8-8M705 498l8 8m-8 0l8-8M705 493l8 8m-8 0l8-8M705 487l8 8m-8 0l8-8M705 491l8 8m-8 0l8-8M705 475l8 8m-8 0l8-8M705 480l8 8m-8 0l8-8M705 487l8 8m-8 0l8-8M705 480l8 8m-8 0l8-8M705 476l8 8m-8 0l8-8M706 475l8 8m-8 0l8-8M705 510l8 8m-8 0l8-8M705 508l8 8m-8 0l8-8M705 473l8 8m-8 0l8-8M705 495l8 8m-8 0l8-8M705 488l8 8m-8 0l8-8M705 487l8 8m-8 0l8-8M705 474l8 8m-8 0l8-8M705 488l8 8m-8 0l8-8M705 479l8 8m-8 0l8-8M705 499l8 8m-8 0l8-8M705 511l8 8m-8 0l8-8M705 507l8 8m-8 0l8-8M705 506l8 8m-8 0l8-8M705 501l8 8m-8 0l8-8M705 466l8 8m-8 0l8-8M705 479l8 8m-8 0l8-8M705 491l8 8m-8 0l8-8M705 483l8 8m-8 0l8-8M705 505l8 8m-8 0l8-8M705 479l8 8m-8 0l8-8M705 496l8 8m-8 0l8-8M705 506l8 8m-8 0l8-8M705 510l8 8m-8 0l8-8M717 471l8 8m-8 0l8-8M718 457l8 8m-8 0l8-8M717 505l8 8m-8 0l8-8M717 501l8 8m-8 0l8-8M717 510l8 8m-8 0l8-8M717 451l8 8m-8 0l8-8M717 477l8 8m-8 0l8-8M718 509l8 8m-8 0l8-8M717 466l8 8m-8 0l8-8M717 484l8 8m-8 0l8-8M717 500l8 8m-8 0l8-8M718 458l8 8m-8 0l8-8M718 455l8 8m-8 0l8-8M718 451l8 8m-8 0l8-8M717 510l8 8m-8 0l8-8M718 470l8 8m-8 0l8-8M718 505l8 8m-8 0l8-8M718 499l8 8m-8 0l8-8M717 488l8 8m-8 0l8-8M718 504l8 8m-8 0l8-8M717 503l8 8m-8 0l8-8M717 455l8 8m-8 0l8-8M718 504l8 8m-8 0l8-8M718 486l8 8m-8 0l8-8M718 509l8 8m-8 0l8-8M717 483l8 8m-8 0l8-8M718 492l8 8m-8 0l8-8M718 509l8 8m-8 0l8-8M717 464l8 8m-8 0l8-8M718 462l8 8m-8 0l8-8M717 480l8 8m-8 0l8-8M718 491l8 8m-8 0l8-8M718 477l8 8m-8 0l8-8M717 485l8 8m-8 0l8-8M717 470l8 8m-8 0l8-8M717 479l8 8m-8 0l8-8M717 499l8 8m-8 0l8-8M718 454l8 8m-8 0l8-8M718 461l8 8m-8 0l8-8M717 490l8 8m-8 0l8-8M717 456l8 8m-8 0l8-8M718 478l8 8m-8 0l8-8M717 462l8 8m-8 0l8-8M717 453l8 8m-8 0l8-8M717 453l8 8m-8 0l8-8M717 473l8 8m-8 0l8-8M717 450l8 8m-8 0l8-8M717 465l8 8m-8 0l8-8M717 497l8 8m-8 0l8-8M717 456l8 8m-8 0l8-8M717 460l8 8m-8 0l8-8M718 470l8 8m-8 0l8-8M718 489l8 8m-8 0l8-8M718 465l8 8m-8 0l8-8M717 494l8 8m-8 0l8-8M718 452l8 8m-8 0l8-8M718 482l8 8m-8 0l8-8M717 484l8 8m-8 0l8-8M717 502l8 8m-8 0l8-8M718 511l8 8m-8 0l8-8M717 502l8 8m-8 0l8-8M717 492l8 8m-8 0l8-8M718 468l8 8m-8 0l8-8M718 498l8 8m-8 0l8-8M718 470l8 8m-8 0l8-8M717 455l8 8m-8 0l8-8M718 507l8 8m-8 0l8-8M718 507l8 8m-8 0l8-8M718 470l8 8m-8 0l8-8M718 511l8 8m-8 0l8-8M718 458l8 8m-8 0l8-8M717 476l8 8m-8 0l8-8M717 471l8 8m-8 0l8-8M717 501l8 8m-8 0l8-8M421 436l8 8m-8 0l8-8M421 440l8 8m-8 0l8-8M421 454l8 8m-8 0l8-8M452 438l8 8m-8 0l8-8M459 443l8 8m-8 0l8-8M444 454l8 8m-8 0l8-8M451 454l8 8m-8 0l8-8M457 452l8 8m-8 0l8-8M439 463l8 8m-8 0l8-8M431 473l8 8m-8 0l8-8M475 438l8 8m-8 0l8-8M475 450l8 8m-8 0l8-8M465 461l8 8m-8 0l8-8M473 396l8 8m-8 0l8-8M496 341l8 8m-8 0l8-8M496 366l8 8m-8 0l8-8M490 382l8 8m-8 0l8-8M506 389l8 8m-8 0l8-8M500 396l8 8m-8 0l8-8M490 402l8 8m-8 0l8-8M519 400l8 8m-8 0l8-8M521 403l8 8m-8 0l8-8M535 385l8 8m-8 0l8-8M538 390l8 8m-8 0l8-8M532 400l8 8m-8 0l8-8M542 401l8 8m-8 0l8-8M554 391l8 8m-8 0l8-8M550 395l8 8m-8 0l8-8M558 402l8 8m-8 0l8-8M564 414l8 8m-8 0l8-8M558 420l8 8m-8 0l8-8M532 411l8 8m-8 0l8-8M513 411l8 8m-8 0l8-8M508 411l8 8m-8 0l8-8M554 426l8 8m-8 0l8-8M567 427l8 8m-8 0l8-8M558 437l8 8m-8 0l8-8M571 401l8 8m-8 0l8-8M503 408l8 8m-8 0l8-8M511 415l8 8m-8 0l8-8M517 420l8 8m-8 0l8-8M527 413l8 8m-8 0l8-8M541 408l8 8m-8 0l8-8M547 413l8 8m-8 0l8-8M552 432l8 8m-8 0l8-8M561 430l8 8m-8 0l8-8M566 440l8 8m-8 0l8-8M484 411l8 8m-8 0l8-8M486 403l8 8m-8 0l8-8M436 466l8 8m-8 0l8-8M446 465l8 8m-8 0l8-8M461 463l8 8m-8 0l8-8M469 465l8 8m-8 0l8-8M479 456l8 8m-8 0l8-8M428 476l8 8m-8 0l8-8M571 402l8 8m-8 0l8-8M571 415l8 8m-8 0l8-8M571 435l8 8m-8 0l8-8M568 413l8 8m-8 0l8-8M595 380l8 8m-8 0l8-8M595 392l8 8m-8 0l8-8M594 396l8 8m-8 0l8-8M593 408l8 8m-8 0l8-8M622 411l8 8m-8 0l8-8M614 421l8 8m-8 0l8-8M633 426l8 8m-8 0l8-8M649 430l8 8m-8 0l8-8M647 440l8 8m-8 0l8-8M646 450l8 8m-8 0l8-8M609 447l8 8m-8 0l8-8M611 459l8 8m-8 0l8-8M702 412l8 8m-8 0l8-8M718 413l8 8m-8 0l8-8M690 436l8 8m-8 0l8-8M718 429l8 8m-8 0l8-8M698 453l8 8m-8 0l8-8M704 456l8 8m-8 0l8-8M661 456l8 8m-8 0l8-8M673 461l8 8m-8 0l8-8M680 470l8 8m-8 0l8-8M626 463l8 8m-8 0l8-8M636 459l8 8m-8 0l8-8M582 430l8 8m-8 0l8-8M585 435l8 8m-8 0l8-8M588 423l8 8m-8 0l8-8M591 413l8 8m-8 0l8-8M598 420l8 8m-8 0l8-8M600 427l8 8m-8 0l8-8M603 432l8 8m-8 0l8-8M575 440l8 8m-8 0l8-8M578 444l8 8m-8 0l8-8M617 466l8 8m-8 0l8-8M640 461l8 8m-8 0l8-8M652 463l8 8m-8 0l8-8M664 466l8 8m-8 0l8-8M669 463l8 8m-8 0l8-8M684 476l8 8m-8 0l8-8M691 473l8 8m-8 0l8-8M709 466l8 8m-8 0l8-8M713 444l8 8m-8 0l8-8M719 437l8 8m-8 0l8-8M719 444l8 8m-8 0l8-8" stroke="#7f7f7f" stroke-width="1.68" stroke-linecap="round" fill="none"/></g>
<path d="M402.6 474.9L407.4 474.7L412.2 474.4L417 474.1L421.9 473.9L426.7 473.6L431.5 473.3L436.3 473L441.1 472.6L445.9 472.2L450.7 471.9L455.5 471.6L460.4 471.6L465.2 471.7L470 471.8L474.8 472L479.6 472.1L484.4 472.3L489.2 472.4L494.1 472.4L498.9 472.2L503.7 471.9L508.5 471.5L513.3 471.2L518.1 471L522.9 471L527.8 471.1L532.6 471.3L537.4 471.4L542.2 471.5L547 471.5L551.8 471.5L556.6 471.5L561.4 471.5L566.3 471.6L571.1 471.6L575.9 471.6L580.7 471.6L585.5 471.6L590.3 471.6L595.1 471.6L600 471.6L604.8 471.6L609.6 471.6L614.4 471.6L619.2 471.7L624 471.7L628.8 471.7L633.7 471.7L638.5 471.7L643.3 471.7L648.1 471.7L652.9 471.8L657.7 471.8L662.5 471.8L667.3 471.8L672.2 471.8L677 471.9L681.8 471.9L686.6 471.9" stroke="#f00" stroke-width="2.6" stroke-linecap="round" stroke-linejoin="round"/>
</g>
<g clip-path="url(#c5)" fill="none">
<path d="M98.6 704.5V504.1M236.1 704.5V504.1M373.6 704.5V504.1" stroke="#d3d3d3" stroke-width="1.6" stroke-dasharray="6.5 6.5"/>
<path d="M143 605L143 608L147 616L147 619L150 627L154 630L158 631L167 637L172 639L176 643L176 645L179 649L181 650L183 649L192 652L198 649L210 648L219 653L223 652L228 658L239 661L243 658L248 658L251 661L253 667L255 669L259 668L259 662L263 658L282 659L294 657L296 652L299 649L305 649L313 653L322 650L324 645L329 638L330 634L325 626L326 622L332 614L334 609L334 607L328 601L328 598L324 590L324 582L326 579L326 576L321 568L320 563L311 562L307 560L303 560L301 562L295 562L292 560L281 558L277 562L274 563L266 557L252 556L250 554L239 555L235 552L230 552L222 560L213 563L210 566L207 567L200 574L191 580L183 581L173 584L167 590L158 589L156 590L155 595L148 602Z" fill="#7f7f7f" stroke="#7f7f7f" stroke-width="1" stroke-linejoin="round"/><g transform="scale(0.95)"><path d="M242 569l8 8m-8 0l8-8M268 572l8 8m-8 0l8-8M262 574l8 8m-8 0l8-8M268 575l8 8m-8 0l8-8M234 577l8 8m-8 0l8-8M239 578l8 8m-8 0l8-8M259 578l8 8m-8 0l8-8M291 578l8 8m-8 0l8-8M235 578l8 8m-8 0l8-8M242 579l8 8m-8 0l8-8M259 578l8 8m-8 0l8-8M261 579l8 8m-8 0l8-8M238 580l8 8m-8 0l8-8M240 579l8 8m-8 0l8-8M241 579l8 8m-8 0l8-8M244 580l8 8m-8 0l8-8M245 580l8 8m-8 0l8-8M247 580l8 8m-8 0l8-8M251 580l8 8m-8 0l8-8M256 580l8 8m-8 0l8-8M284 580l8 8m-8 0l8-8M335 580l8 8m-8 0l8-8M224 580l8 8m-8 0l8-8M235 580l8 8m-8 0l8-8M238 581l8 8m-8 0l8-8M338 581l8 8m-8 0l8-8M232 582l8 8m-8 0l8-8M236 582l8 8m-8 0l8-8M240 582l8 8m-8 0l8-8M252 582l8 8m-8 0l8-8M259 582l8 8m-8 0l8-8M293 581l8 8m-8 0l8-8M235 583l8 8m-8 0l8-8M242 582l8 8m-8 0l8-8M245 583l8 8m-8 0l8-8M248 583l8 8m-8 0l8-8M252 583l8 8m-8 0l8-8M255 583l8 8m-8 0l8-8M258 583l8 8m-8 0l8-8M259 582l8 8m-8 0l8-8M266 582l8 8m-8 0l8-8M271 583l8 8m-8 0l8-8M274 582l8 8m-8 0l8-8M275 583l8 8m-8 0l8-8M330 583l8 8m-8 0l8-8M224 584l8 8m-8 0l8-8M230 584l8 8m-8 0l8-8M236 583l8 8m-8 0l8-8M256 584l8 8m-8 0l8-8M265 584l8 8m-8 0l8-8M270 584l8 8m-8 0l8-8M294 584l8 8m-8 0l8-8M318 584l8 8m-8 0l8-8M329 584l8 8m-8 0l8-8M231 585l8 8m-8 0l8-8M232 585l8 8m-8 0l8-8M233 585l8 8m-8 0l8-8M243 584l8 8m-8 0l8-8M244 585l8 8m-8 0l8-8M246 585l8 8m-8 0l8-8M247 584l8 8m-8 0l8-8M250 585l8 8m-8 0l8-8M256 584l8 8m-8 0l8-8M257 585l8 8m-8 0l8-8M269 585l8 8m-8 0l8-8M272 585l8 8m-8 0l8-8M274 585l8 8m-8 0l8-8M276 585l8 8m-8 0l8-8M280 585l8 8m-8 0l8-8M290 585l8 8m-8 0l8-8M314 585l8 8m-8 0l8-8M317 585l8 8m-8 0l8-8M319 585l8 8m-8 0l8-8M327 585l8 8m-8 0l8-8M225 586l8 8m-8 0l8-8M230 586l8 8m-8 0l8-8M235 586l8 8m-8 0l8-8M236 586l8 8m-8 0l8-8M237 586l8 8m-8 0l8-8M240 586l8 8m-8 0l8-8M261 586l8 8m-8 0l8-8M275 586l8 8m-8 0l8-8M276 586l8 8m-8 0l8-8M291 586l8 8m-8 0l8-8M301 586l8 8m-8 0l8-8M313 586l8 8m-8 0l8-8M317 586l8 8m-8 0l8-8M320 586l8 8m-8 0l8-8M232 587l8 8m-8 0l8-8M243 587l8 8m-8 0l8-8M245 587l8 8m-8 0l8-8M247 587l8 8m-8 0l8-8M257 587l8 8m-8 0l8-8M269 587l8 8m-8 0l8-8M273 587l8 8m-8 0l8-8M277 587l8 8m-8 0l8-8M279 587l8 8m-8 0l8-8M280 587l8 8m-8 0l8-8M288 587l8 8m-8 0l8-8M299 587l8 8m-8 0l8-8M300 587l8 8m-8 0l8-8M304 587l8 8m-8 0l8-8M313 588l8 8m-8 0l8-8M314 587l8 8m-8 0l8-8M328 587l8 8m-8 0l8-8M328 587l8 8m-8 0l8-8M222 588l8 8m-8 0l8-8M223 588l8 8m-8 0l8-8M235 588l8 8m-8 0l8-8M236 588l8 8m-8 0l8-8M237 588l8 8m-8 0l8-8M243 588l8 8m-8 0l8-8M245 588l8 8m-8 0l8-8M246 588l8 8m-8 0l8-8M247 588l8 8m-8 0l8-8M252 589l8 8m-8 0l8-8M253 588l8 8m-8 0l8-8M258 589l8 8m-8 0l8-8M263 588l8 8m-8 0l8-8M265 589l8 8m-8 0l8-8M270 588l8 8m-8 0l8-8M272 588l8 8m-8 0l8-8M274 588l8 8m-8 0l8-8M276 588l8 8m-8 0l8-8M279 588l8 8m-8 0l8-8M280 588l8 8m-8 0l8-8M295 589l8 8m-8 0l8-8M296 588l8 8m-8 0l8-8M301 589l8 8m-8 0l8-8M303 589l8 8m-8 0l8-8M306 588l8 8m-8 0l8-8M325 589l8 8m-8 0l8-8M330 588l8 8m-8 0l8-8M333 588l8 8m-8 0l8-8M221 589l8 8m-8 0l8-8M226 590l8 8m-8 0l8-8M231 589l8 8m-8 0l8-8M250 589l8 8m-8 0l8-8M253 589l8 8m-8 0l8-8M270 589l8 8m-8 0l8-8M285 589l8 8m-8 0l8-8M288 589l8 8m-8 0l8-8M311 589l8 8m-8 0l8-8M316 589l8 8m-8 0l8-8M323 590l8 8m-8 0l8-8M327 589l8 8m-8 0l8-8M332 589l8 8m-8 0l8-8M337 589l8 8m-8 0l8-8M219 590l8 8m-8 0l8-8M224 590l8 8m-8 0l8-8M230 590l8 8m-8 0l8-8M232 590l8 8m-8 0l8-8M233 591l8 8m-8 0l8-8M240 590l8 8m-8 0l8-8M242 590l8 8m-8 0l8-8M247 590l8 8m-8 0l8-8M261 591l8 8m-8 0l8-8M266 590l8 8m-8 0l8-8M270 590l8 8m-8 0l8-8M276 590l8 8m-8 0l8-8M280 590l8 8m-8 0l8-8M282 590l8 8m-8 0l8-8M285 590l8 8m-8 0l8-8M287 591l8 8m-8 0l8-8M289 590l8 8m-8 0l8-8M292 590l8 8m-8 0l8-8M302 590l8 8m-8 0l8-8M312 590l8 8m-8 0l8-8M325 590l8 8m-8 0l8-8M329 590l8 8m-8 0l8-8M335 590l8 8m-8 0l8-8M214 592l8 8m-8 0l8-8M216 592l8 8m-8 0l8-8M217 591l8 8m-8 0l8-8M222 591l8 8m-8 0l8-8M243 591l8 8m-8 0l8-8M246 591l8 8m-8 0l8-8M280 592l8 8m-8 0l8-8M283 591l8 8m-8 0l8-8M285 591l8 8m-8 0l8-8M307 591l8 8m-8 0l8-8M313 591l8 8m-8 0l8-8M315 591l8 8m-8 0l8-8M317 592l8 8m-8 0l8-8M321 592l8 8m-8 0l8-8M323 592l8 8m-8 0l8-8M357 592l8 8m-8 0l8-8M215 592l8 8m-8 0l8-8M222 592l8 8m-8 0l8-8M224 592l8 8m-8 0l8-8M224 592l8 8m-8 0l8-8M233 592l8 8m-8 0l8-8M248 593l8 8m-8 0l8-8M267 592l8 8m-8 0l8-8M275 592l8 8m-8 0l8-8M281 592l8 8m-8 0l8-8M281 593l8 8m-8 0l8-8M288 592l8 8m-8 0l8-8M290 592l8 8m-8 0l8-8M297 593l8 8m-8 0l8-8M299 593l8 8m-8 0l8-8M302 592l8 8m-8 0l8-8M310 592l8 8m-8 0l8-8M314 592l8 8m-8 0l8-8M316 592l8 8m-8 0l8-8M322 592l8 8m-8 0l8-8M327 592l8 8m-8 0l8-8M329 592l8 8m-8 0l8-8M330 593l8 8m-8 0l8-8M333 592l8 8m-8 0l8-8M213 594l8 8m-8 0l8-8M227 593l8 8m-8 0l8-8M231 594l8 8m-8 0l8-8M231 594l8 8m-8 0l8-8M238 593l8 8m-8 0l8-8M240 593l8 8m-8 0l8-8M287 593l8 8m-8 0l8-8M289 593l8 8m-8 0l8-8M291 593l8 8m-8 0l8-8M308 594l8 8m-8 0l8-8M323 593l8 8m-8 0l8-8M333 593l8 8m-8 0l8-8M220 595l8 8m-8 0l8-8M228 594l8 8m-8 0l8-8M231 594l8 8m-8 0l8-8M235 594l8 8m-8 0l8-8M278 594l8 8m-8 0l8-8M280 594l8 8m-8 0l8-8M285 594l8 8m-8 0l8-8M287 595l8 8m-8 0l8-8M289 594l8 8m-8 0l8-8M307 594l8 8m-8 0l8-8M309 594l8 8m-8 0l8-8M310 595l8 8m-8 0l8-8M312 594l8 8m-8 0l8-8M320 595l8 8m-8 0l8-8M329 595l8 8m-8 0l8-8M212 595l8 8m-8 0l8-8M217 596l8 8m-8 0l8-8M221 596l8 8m-8 0l8-8M223 595l8 8m-8 0l8-8M224 595l8 8m-8 0l8-8M226 596l8 8m-8 0l8-8M230 596l8 8m-8 0l8-8M276 595l8 8m-8 0l8-8M287 595l8 8m-8 0l8-8M304 595l8 8m-8 0l8-8M311 596l8 8m-8 0l8-8M313 596l8 8m-8 0l8-8M324 596l8 8m-8 0l8-8M333 595l8 8m-8 0l8-8M335 596l8 8m-8 0l8-8M218 596l8 8m-8 0l8-8M220 597l8 8m-8 0l8-8M223 597l8 8m-8 0l8-8M310 596l8 8m-8 0l8-8M314 596l8 8m-8 0l8-8M329 597l8 8m-8 0l8-8M333 597l8 8m-8 0l8-8M335 597l8 8m-8 0l8-8M339 597l8 8m-8 0l8-8M217 598l8 8m-8 0l8-8M221 598l8 8m-8 0l8-8M223 598l8 8m-8 0l8-8M314 598l8 8m-8 0l8-8M317 597l8 8m-8 0l8-8M330 598l8 8m-8 0l8-8M335 597l8 8m-8 0l8-8M212 598l8 8m-8 0l8-8M225 598l8 8m-8 0l8-8M226 598l8 8m-8 0l8-8M315 599l8 8m-8 0l8-8M334 599l8 8m-8 0l8-8M338 598l8 8m-8 0l8-8M223 600l8 8m-8 0l8-8M226 599l8 8m-8 0l8-8M312 600l8 8m-8 0l8-8M319 599l8 8m-8 0l8-8M330 599l8 8m-8 0l8-8M208 601l8 8m-8 0l8-8M212 601l8 8m-8 0l8-8M212 601l8 8m-8 0l8-8M318 601l8 8m-8 0l8-8M322 601l8 8m-8 0l8-8M326 601l8 8m-8 0l8-8M331 601l8 8m-8 0l8-8M207 602l8 8m-8 0l8-8M210 602l8 8m-8 0l8-8M222 601l8 8m-8 0l8-8M320 602l8 8m-8 0l8-8M328 602l8 8m-8 0l8-8M342 602l8 8m-8 0l8-8M212 603l8 8m-8 0l8-8M221 603l8 8m-8 0l8-8M224 603l8 8m-8 0l8-8M326 603l8 8m-8 0l8-8M329 603l8 8m-8 0l8-8M184 603l8 8m-8 0l8-8M203 604l8 8m-8 0l8-8M211 604l8 8m-8 0l8-8M217 604l8 8m-8 0l8-8M218 604l8 8m-8 0l8-8M319 604l8 8m-8 0l8-8M320 604l8 8m-8 0l8-8M322 604l8 8m-8 0l8-8M325 604l8 8m-8 0l8-8M328 604l8 8m-8 0l8-8M334 604l8 8m-8 0l8-8M199 605l8 8m-8 0l8-8M203 605l8 8m-8 0l8-8M215 605l8 8m-8 0l8-8M221 605l8 8m-8 0l8-8M224 605l8 8m-8 0l8-8M317 605l8 8m-8 0l8-8M322 605l8 8m-8 0l8-8M336 605l8 8m-8 0l8-8M338 605l8 8m-8 0l8-8M340 605l8 8m-8 0l8-8M207 606l8 8m-8 0l8-8M215 606l8 8m-8 0l8-8M220 606l8 8m-8 0l8-8M318 606l8 8m-8 0l8-8M320 606l8 8m-8 0l8-8M324 606l8 8m-8 0l8-8M330 606l8 8m-8 0l8-8M335 606l8 8m-8 0l8-8M339 606l8 8m-8 0l8-8M191 607l8 8m-8 0l8-8M199 607l8 8m-8 0l8-8M206 607l8 8m-8 0l8-8M329 607l8 8m-8 0l8-8M330 607l8 8m-8 0l8-8M336 607l8 8m-8 0l8-8M186 608l8 8m-8 0l8-8M188 609l8 8m-8 0l8-8M204 608l8 8m-8 0l8-8M206 608l8 8m-8 0l8-8M219 608l8 8m-8 0l8-8M222 608l8 8m-8 0l8-8M335 608l8 8m-8 0l8-8M179 609l8 8m-8 0l8-8M184 609l8 8m-8 0l8-8M187 609l8 8m-8 0l8-8M204 609l8 8m-8 0l8-8M205 610l8 8m-8 0l8-8M207 609l8 8m-8 0l8-8M219 609l8 8m-8 0l8-8M175 610l8 8m-8 0l8-8M181 610l8 8m-8 0l8-8M185 610l8 8m-8 0l8-8M188 611l8 8m-8 0l8-8M193 610l8 8m-8 0l8-8M203 610l8 8m-8 0l8-8M204 610l8 8m-8 0l8-8M206 610l8 8m-8 0l8-8M331 610l8 8m-8 0l8-8M333 610l8 8m-8 0l8-8M342 610l8 8m-8 0l8-8M181 612l8 8m-8 0l8-8M183 611l8 8m-8 0l8-8M184 612l8 8m-8 0l8-8M186 611l8 8m-8 0l8-8M189 611l8 8m-8 0l8-8M199 611l8 8m-8 0l8-8M202 612l8 8m-8 0l8-8M203 611l8 8m-8 0l8-8M338 611l8 8m-8 0l8-8M338 612l8 8m-8 0l8-8M173 612l8 8m-8 0l8-8M175 612l8 8m-8 0l8-8M179 612l8 8m-8 0l8-8M198 613l8 8m-8 0l8-8M202 612l8 8m-8 0l8-8M204 612l8 8m-8 0l8-8M207 613l8 8m-8 0l8-8M331 612l8 8m-8 0l8-8M175 614l8 8m-8 0l8-8M183 614l8 8m-8 0l8-8M185 613l8 8m-8 0l8-8M334 613l8 8m-8 0l8-8M177 615l8 8m-8 0l8-8M181 614l8 8m-8 0l8-8M182 615l8 8m-8 0l8-8M188 614l8 8m-8 0l8-8M192 614l8 8m-8 0l8-8M199 614l8 8m-8 0l8-8M201 615l8 8m-8 0l8-8M204 615l8 8m-8 0l8-8M205 614l8 8m-8 0l8-8M206 615l8 8m-8 0l8-8M164 615l8 8m-8 0l8-8M174 615l8 8m-8 0l8-8M180 615l8 8m-8 0l8-8M183 615l8 8m-8 0l8-8M185 615l8 8m-8 0l8-8M200 615l8 8m-8 0l8-8M208 615l8 8m-8 0l8-8M331 615l8 8m-8 0l8-8M334 616l8 8m-8 0l8-8M180 617l8 8m-8 0l8-8M338 617l8 8m-8 0l8-8M160 617l8 8m-8 0l8-8M164 618l8 8m-8 0l8-8M174 618l8 8m-8 0l8-8M179 617l8 8m-8 0l8-8M186 618l8 8m-8 0l8-8M187 618l8 8m-8 0l8-8M195 617l8 8m-8 0l8-8M198 617l8 8m-8 0l8-8M204 618l8 8m-8 0l8-8M332 617l8 8m-8 0l8-8M165 618l8 8m-8 0l8-8M166 619l8 8m-8 0l8-8M168 619l8 8m-8 0l8-8M173 618l8 8m-8 0l8-8M177 619l8 8m-8 0l8-8M185 619l8 8m-8 0l8-8M186 619l8 8m-8 0l8-8M187 618l8 8m-8 0l8-8M194 618l8 8m-8 0l8-8M336 618l8 8m-8 0l8-8M337 618l8 8m-8 0l8-8M164 620l8 8m-8 0l8-8M172 619l8 8m-8 0l8-8M180 620l8 8m-8 0l8-8M186 620l8 8m-8 0l8-8M187 619l8 8m-8 0l8-8M192 619l8 8m-8 0l8-8M197 620l8 8m-8 0l8-8M334 619l8 8m-8 0l8-8M334 620l8 8m-8 0l8-8M336 620l8 8m-8 0l8-8M342 619l8 8m-8 0l8-8M151 621l8 8m-8 0l8-8M175 620l8 8m-8 0l8-8M182 620l8 8m-8 0l8-8M191 621l8 8m-8 0l8-8M169 622l8 8m-8 0l8-8M171 621l8 8m-8 0l8-8M184 622l8 8m-8 0l8-8M188 622l8 8m-8 0l8-8M193 622l8 8m-8 0l8-8M158 623l8 8m-8 0l8-8M175 623l8 8m-8 0l8-8M191 623l8 8m-8 0l8-8M338 622l8 8m-8 0l8-8M340 623l8 8m-8 0l8-8M159 624l8 8m-8 0l8-8M178 624l8 8m-8 0l8-8M186 624l8 8m-8 0l8-8M337 624l8 8m-8 0l8-8M339 624l8 8m-8 0l8-8M341 624l8 8m-8 0l8-8M157 625l8 8m-8 0l8-8M160 625l8 8m-8 0l8-8M162 625l8 8m-8 0l8-8M166 625l8 8m-8 0l8-8M178 625l8 8m-8 0l8-8M183 625l8 8m-8 0l8-8M336 625l8 8m-8 0l8-8M171 626l8 8m-8 0l8-8M173 626l8 8m-8 0l8-8M174 626l8 8m-8 0l8-8M179 626l8 8m-8 0l8-8M339 626l8 8m-8 0l8-8M340 626l8 8m-8 0l8-8M341 626l8 8m-8 0l8-8M152 627l8 8m-8 0l8-8M162 627l8 8m-8 0l8-8M162 627l8 8m-8 0l8-8M165 627l8 8m-8 0l8-8M170 627l8 8m-8 0l8-8M170 628l8 8m-8 0l8-8M174 627l8 8m-8 0l8-8M175 627l8 8m-8 0l8-8M178 627l8 8m-8 0l8-8M159 628l8 8m-8 0l8-8M159 629l8 8m-8 0l8-8M173 628l8 8m-8 0l8-8M333 629l8 8m-8 0l8-8M336 628l8 8m-8 0l8-8M340 628l8 8m-8 0l8-8M155 629l8 8m-8 0l8-8M159 630l8 8m-8 0l8-8M162 629l8 8m-8 0l8-8M173 629l8 8m-8 0l8-8M174 629l8 8m-8 0l8-8M333 629l8 8m-8 0l8-8M335 629l8 8m-8 0l8-8M343 630l8 8m-8 0l8-8M154 630l8 8m-8 0l8-8M156 630l8 8m-8 0l8-8M158 630l8 8m-8 0l8-8M160 631l8 8m-8 0l8-8M166 631l8 8m-8 0l8-8M170 630l8 8m-8 0l8-8M330 631l8 8m-8 0l8-8M342 630l8 8m-8 0l8-8M126 631l8 8m-8 0l8-8M154 632l8 8m-8 0l8-8M155 631l8 8m-8 0l8-8M157 631l8 8m-8 0l8-8M167 631l8 8m-8 0l8-8M173 631l8 8m-8 0l8-8M344 632l8 8m-8 0l8-8M157 633l8 8m-8 0l8-8M331 632l8 8m-8 0l8-8M337 632l8 8m-8 0l8-8M339 632l8 8m-8 0l8-8M345 632l8 8m-8 0l8-8M147 634l8 8m-8 0l8-8M148 634l8 8m-8 0l8-8M150 633l8 8m-8 0l8-8M330 634l8 8m-8 0l8-8M333 633l8 8m-8 0l8-8M336 633l8 8m-8 0l8-8M149 634l8 8m-8 0l8-8M149 635l8 8m-8 0l8-8M151 634l8 8m-8 0l8-8M159 634l8 8m-8 0l8-8M149 635l8 8m-8 0l8-8M150 636l8 8m-8 0l8-8M153 636l8 8m-8 0l8-8M330 635l8 8m-8 0l8-8M330 635l8 8m-8 0l8-8M334 635l8 8m-8 0l8-8M342 635l8 8m-8 0l8-8M150 636l8 8m-8 0l8-8M336 636l8 8m-8 0l8-8M342 637l8 8m-8 0l8-8M348 637l8 8m-8 0l8-8M159 638l8 8m-8 0l8-8M332 638l8 8m-8 0l8-8M337 638l8 8m-8 0l8-8M339 638l8 8m-8 0l8-8M348 638l8 8m-8 0l8-8M153 639l8 8m-8 0l8-8M339 639l8 8m-8 0l8-8M340 638l8 8m-8 0l8-8M341 639l8 8m-8 0l8-8M346 639l8 8m-8 0l8-8M149 639l8 8m-8 0l8-8M335 639l8 8m-8 0l8-8M338 640l8 8m-8 0l8-8M344 640l8 8m-8 0l8-8M155 640l8 8m-8 0l8-8M157 641l8 8m-8 0l8-8M330 641l8 8m-8 0l8-8M331 641l8 8m-8 0l8-8M345 641l8 8m-8 0l8-8M152 643l8 8m-8 0l8-8M345 643l8 8m-8 0l8-8M150 644l8 8m-8 0l8-8M343 644l8 8m-8 0l8-8M345 644l8 8m-8 0l8-8M353 644l8 8m-8 0l8-8M342 645l8 8m-8 0l8-8M154 646l8 8m-8 0l8-8M160 647l8 8m-8 0l8-8M161 646l8 8m-8 0l8-8M329 646l8 8m-8 0l8-8M340 646l8 8m-8 0l8-8M153 647l8 8m-8 0l8-8M160 647l8 8m-8 0l8-8M328 649l8 8m-8 0l8-8M330 649l8 8m-8 0l8-8M334 648l8 8m-8 0l8-8M338 648l8 8m-8 0l8-8M341 648l8 8m-8 0l8-8M155 649l8 8m-8 0l8-8M155 649l8 8m-8 0l8-8M160 649l8 8m-8 0l8-8M152 651l8 8m-8 0l8-8M162 650l8 8m-8 0l8-8M332 650l8 8m-8 0l8-8M334 650l8 8m-8 0l8-8M341 651l8 8m-8 0l8-8M159 651l8 8m-8 0l8-8M166 652l8 8m-8 0l8-8M329 652l8 8m-8 0l8-8M152 652l8 8m-8 0l8-8M154 652l8 8m-8 0l8-8M156 652l8 8m-8 0l8-8M332 652l8 8m-8 0l8-8M339 652l8 8m-8 0l8-8M153 654l8 8m-8 0l8-8M157 653l8 8m-8 0l8-8M164 653l8 8m-8 0l8-8M167 654l8 8m-8 0l8-8M329 653l8 8m-8 0l8-8M338 654l8 8m-8 0l8-8M158 655l8 8m-8 0l8-8M163 654l8 8m-8 0l8-8M172 655l8 8m-8 0l8-8M174 654l8 8m-8 0l8-8M333 654l8 8m-8 0l8-8M336 655l8 8m-8 0l8-8M168 656l8 8m-8 0l8-8M172 655l8 8m-8 0l8-8M173 655l8 8m-8 0l8-8M176 656l8 8m-8 0l8-8M335 656l8 8m-8 0l8-8M340 656l8 8m-8 0l8-8M154 656l8 8m-8 0l8-8M157 656l8 8m-8 0l8-8M162 657l8 8m-8 0l8-8M172 656l8 8m-8 0l8-8M179 656l8 8m-8 0l8-8M337 656l8 8m-8 0l8-8M156 657l8 8m-8 0l8-8M168 657l8 8m-8 0l8-8M339 657l8 8m-8 0l8-8M157 658l8 8m-8 0l8-8M162 658l8 8m-8 0l8-8M176 658l8 8m-8 0l8-8M181 658l8 8m-8 0l8-8M182 659l8 8m-8 0l8-8M187 658l8 8m-8 0l8-8M180 659l8 8m-8 0l8-8M157 661l8 8m-8 0l8-8M165 661l8 8m-8 0l8-8M179 661l8 8m-8 0l8-8M180 660l8 8m-8 0l8-8M187 661l8 8m-8 0l8-8M189 661l8 8m-8 0l8-8M163 662l8 8m-8 0l8-8M337 662l8 8m-8 0l8-8M339 662l8 8m-8 0l8-8M166 663l8 8m-8 0l8-8M169 663l8 8m-8 0l8-8M174 663l8 8m-8 0l8-8M185 662l8 8m-8 0l8-8M189 663l8 8m-8 0l8-8M331 663l8 8m-8 0l8-8M338 663l8 8m-8 0l8-8M343 663l8 8m-8 0l8-8M168 664l8 8m-8 0l8-8M175 664l8 8m-8 0l8-8M190 663l8 8m-8 0l8-8M331 664l8 8m-8 0l8-8M340 664l8 8m-8 0l8-8M341 664l8 8m-8 0l8-8M342 664l8 8m-8 0l8-8M169 665l8 8m-8 0l8-8M170 665l8 8m-8 0l8-8M173 665l8 8m-8 0l8-8M177 665l8 8m-8 0l8-8M179 665l8 8m-8 0l8-8M184 665l8 8m-8 0l8-8M188 665l8 8m-8 0l8-8M190 665l8 8m-8 0l8-8M339 665l8 8m-8 0l8-8M170 666l8 8m-8 0l8-8M174 666l8 8m-8 0l8-8M185 666l8 8m-8 0l8-8M187 666l8 8m-8 0l8-8M189 666l8 8m-8 0l8-8M328 666l8 8m-8 0l8-8M331 666l8 8m-8 0l8-8M332 666l8 8m-8 0l8-8M337 666l8 8m-8 0l8-8M338 666l8 8m-8 0l8-8M342 666l8 8m-8 0l8-8M177 667l8 8m-8 0l8-8M181 667l8 8m-8 0l8-8M328 668l8 8m-8 0l8-8M329 667l8 8m-8 0l8-8M330 667l8 8m-8 0l8-8M339 667l8 8m-8 0l8-8M176 669l8 8m-8 0l8-8M180 668l8 8m-8 0l8-8M183 668l8 8m-8 0l8-8M190 669l8 8m-8 0l8-8M195 669l8 8m-8 0l8-8M197 668l8 8m-8 0l8-8M231 668l8 8m-8 0l8-8M329 668l8 8m-8 0l8-8M339 668l8 8m-8 0l8-8M342 668l8 8m-8 0l8-8M168 669l8 8m-8 0l8-8M176 669l8 8m-8 0l8-8M178 669l8 8m-8 0l8-8M182 669l8 8m-8 0l8-8M190 670l8 8m-8 0l8-8M192 669l8 8m-8 0l8-8M207 669l8 8m-8 0l8-8M235 669l8 8m-8 0l8-8M332 669l8 8m-8 0l8-8M335 669l8 8m-8 0l8-8M341 669l8 8m-8 0l8-8M178 671l8 8m-8 0l8-8M179 670l8 8m-8 0l8-8M199 670l8 8m-8 0l8-8M208 670l8 8m-8 0l8-8M231 670l8 8m-8 0l8-8M239 670l8 8m-8 0l8-8M324 670l8 8m-8 0l8-8M329 670l8 8m-8 0l8-8M182 671l8 8m-8 0l8-8M184 671l8 8m-8 0l8-8M187 672l8 8m-8 0l8-8M193 671l8 8m-8 0l8-8M200 671l8 8m-8 0l8-8M202 671l8 8m-8 0l8-8M203 672l8 8m-8 0l8-8M206 672l8 8m-8 0l8-8M210 671l8 8m-8 0l8-8M210 672l8 8m-8 0l8-8M216 671l8 8m-8 0l8-8M216 671l8 8m-8 0l8-8M238 671l8 8m-8 0l8-8M239 671l8 8m-8 0l8-8M315 671l8 8m-8 0l8-8M324 671l8 8m-8 0l8-8M344 671l8 8m-8 0l8-8M181 673l8 8m-8 0l8-8M183 673l8 8m-8 0l8-8M199 672l8 8m-8 0l8-8M202 672l8 8m-8 0l8-8M211 673l8 8m-8 0l8-8M225 672l8 8m-8 0l8-8M230 672l8 8m-8 0l8-8M240 673l8 8m-8 0l8-8M313 672l8 8m-8 0l8-8M315 673l8 8m-8 0l8-8M317 673l8 8m-8 0l8-8M323 672l8 8m-8 0l8-8M327 672l8 8m-8 0l8-8M332 673l8 8m-8 0l8-8M335 672l8 8m-8 0l8-8M338 672l8 8m-8 0l8-8M168 673l8 8m-8 0l8-8M184 674l8 8m-8 0l8-8M198 674l8 8m-8 0l8-8M206 674l8 8m-8 0l8-8M214 673l8 8m-8 0l8-8M218 673l8 8m-8 0l8-8M229 674l8 8m-8 0l8-8M230 673l8 8m-8 0l8-8M233 673l8 8m-8 0l8-8M321 673l8 8m-8 0l8-8M329 673l8 8m-8 0l8-8M330 674l8 8m-8 0l8-8M339 673l8 8m-8 0l8-8M181 675l8 8m-8 0l8-8M189 674l8 8m-8 0l8-8M193 675l8 8m-8 0l8-8M197 674l8 8m-8 0l8-8M208 674l8 8m-8 0l8-8M220 674l8 8m-8 0l8-8M223 675l8 8m-8 0l8-8M224 675l8 8m-8 0l8-8M225 675l8 8m-8 0l8-8M229 675l8 8m-8 0l8-8M230 675l8 8m-8 0l8-8M312 674l8 8m-8 0l8-8M312 675l8 8m-8 0l8-8M324 675l8 8m-8 0l8-8M328 675l8 8m-8 0l8-8M330 675l8 8m-8 0l8-8M333 675l8 8m-8 0l8-8M181 675l8 8m-8 0l8-8M200 676l8 8m-8 0l8-8M210 675l8 8m-8 0l8-8M211 676l8 8m-8 0l8-8M213 676l8 8m-8 0l8-8M221 675l8 8m-8 0l8-8M230 676l8 8m-8 0l8-8M234 675l8 8m-8 0l8-8M236 676l8 8m-8 0l8-8M237 675l8 8m-8 0l8-8M294 676l8 8m-8 0l8-8M296 676l8 8m-8 0l8-8M310 676l8 8m-8 0l8-8M313 676l8 8m-8 0l8-8M317 675l8 8m-8 0l8-8M320 675l8 8m-8 0l8-8M201 677l8 8m-8 0l8-8M203 676l8 8m-8 0l8-8M210 677l8 8m-8 0l8-8M216 676l8 8m-8 0l8-8M218 677l8 8m-8 0l8-8M220 677l8 8m-8 0l8-8M224 676l8 8m-8 0l8-8M236 677l8 8m-8 0l8-8M240 676l8 8m-8 0l8-8M242 676l8 8m-8 0l8-8M290 676l8 8m-8 0l8-8M305 677l8 8m-8 0l8-8M315 677l8 8m-8 0l8-8M328 677l8 8m-8 0l8-8M336 676l8 8m-8 0l8-8M190 677l8 8m-8 0l8-8M211 678l8 8m-8 0l8-8M214 677l8 8m-8 0l8-8M228 678l8 8m-8 0l8-8M229 678l8 8m-8 0l8-8M231 678l8 8m-8 0l8-8M246 678l8 8m-8 0l8-8M295 677l8 8m-8 0l8-8M306 677l8 8m-8 0l8-8M314 678l8 8m-8 0l8-8M316 678l8 8m-8 0l8-8M322 677l8 8m-8 0l8-8M326 678l8 8m-8 0l8-8M327 677l8 8m-8 0l8-8M328 678l8 8m-8 0l8-8M185 679l8 8m-8 0l8-8M192 679l8 8m-8 0l8-8M197 679l8 8m-8 0l8-8M220 679l8 8m-8 0l8-8M228 679l8 8m-8 0l8-8M230 678l8 8m-8 0l8-8M239 679l8 8m-8 0l8-8M245 679l8 8m-8 0l8-8M246 679l8 8m-8 0l8-8M290 679l8 8m-8 0l8-8M298 679l8 8m-8 0l8-8M302 678l8 8m-8 0l8-8M310 679l8 8m-8 0l8-8M314 679l8 8m-8 0l8-8M316 678l8 8m-8 0l8-8M317 679l8 8m-8 0l8-8M199 680l8 8m-8 0l8-8M199 680l8 8m-8 0l8-8M204 680l8 8m-8 0l8-8M212 680l8 8m-8 0l8-8M213 680l8 8m-8 0l8-8M215 680l8 8m-8 0l8-8M220 679l8 8m-8 0l8-8M224 679l8 8m-8 0l8-8M227 679l8 8m-8 0l8-8M231 680l8 8m-8 0l8-8M233 679l8 8m-8 0l8-8M247 680l8 8m-8 0l8-8M298 679l8 8m-8 0l8-8M302 680l8 8m-8 0l8-8M306 680l8 8m-8 0l8-8M311 680l8 8m-8 0l8-8M319 679l8 8m-8 0l8-8M333 680l8 8m-8 0l8-8M189 681l8 8m-8 0l8-8M193 681l8 8m-8 0l8-8M197 680l8 8m-8 0l8-8M222 681l8 8m-8 0l8-8M243 680l8 8m-8 0l8-8M273 681l8 8m-8 0l8-8M273 681l8 8m-8 0l8-8M279 681l8 8m-8 0l8-8M280 681l8 8m-8 0l8-8M293 681l8 8m-8 0l8-8M296 681l8 8m-8 0l8-8M301 681l8 8m-8 0l8-8M311 681l8 8m-8 0l8-8M321 681l8 8m-8 0l8-8M327 681l8 8m-8 0l8-8M330 681l8 8m-8 0l8-8M193 681l8 8m-8 0l8-8M197 681l8 8m-8 0l8-8M223 681l8 8m-8 0l8-8M225 682l8 8m-8 0l8-8M236 682l8 8m-8 0l8-8M239 682l8 8m-8 0l8-8M241 682l8 8m-8 0l8-8M245 682l8 8m-8 0l8-8M247 682l8 8m-8 0l8-8M254 682l8 8m-8 0l8-8M257 682l8 8m-8 0l8-8M261 682l8 8m-8 0l8-8M273 681l8 8m-8 0l8-8M275 682l8 8m-8 0l8-8M278 682l8 8m-8 0l8-8M279 682l8 8m-8 0l8-8M291 682l8 8m-8 0l8-8M294 682l8 8m-8 0l8-8M303 682l8 8m-8 0l8-8M327 682l8 8m-8 0l8-8M188 683l8 8m-8 0l8-8M226 682l8 8m-8 0l8-8M232 683l8 8m-8 0l8-8M233 683l8 8m-8 0l8-8M235 682l8 8m-8 0l8-8M235 683l8 8m-8 0l8-8M244 683l8 8m-8 0l8-8M246 683l8 8m-8 0l8-8M248 683l8 8m-8 0l8-8M249 683l8 8m-8 0l8-8M275 683l8 8m-8 0l8-8M276 683l8 8m-8 0l8-8M302 682l8 8m-8 0l8-8M306 683l8 8m-8 0l8-8M312 682l8 8m-8 0l8-8M327 682l8 8m-8 0l8-8M329 683l8 8m-8 0l8-8M181 684l8 8m-8 0l8-8M225 684l8 8m-8 0l8-8M246 684l8 8m-8 0l8-8M271 684l8 8m-8 0l8-8M281 684l8 8m-8 0l8-8M304 683l8 8m-8 0l8-8M305 684l8 8m-8 0l8-8M306 683l8 8m-8 0l8-8M308 684l8 8m-8 0l8-8M335 684l8 8m-8 0l8-8M199 685l8 8m-8 0l8-8M237 685l8 8m-8 0l8-8M249 685l8 8m-8 0l8-8M251 685l8 8m-8 0l8-8M257 685l8 8m-8 0l8-8M262 685l8 8m-8 0l8-8M273 685l8 8m-8 0l8-8M273 685l8 8m-8 0l8-8M281 685l8 8m-8 0l8-8M282 684l8 8m-8 0l8-8M284 685l8 8m-8 0l8-8M288 685l8 8m-8 0l8-8M289 685l8 8m-8 0l8-8M205 686l8 8m-8 0l8-8M233 686l8 8m-8 0l8-8M247 686l8 8m-8 0l8-8M248 686l8 8m-8 0l8-8M255 686l8 8m-8 0l8-8M258 686l8 8m-8 0l8-8M258 686l8 8m-8 0l8-8M269 686l8 8m-8 0l8-8M277 686l8 8m-8 0l8-8M278 686l8 8m-8 0l8-8M298 686l8 8m-8 0l8-8M306 686l8 8m-8 0l8-8M308 686l8 8m-8 0l8-8M184 687l8 8m-8 0l8-8M235 687l8 8m-8 0l8-8M237 687l8 8m-8 0l8-8M241 687l8 8m-8 0l8-8M242 687l8 8m-8 0l8-8M245 687l8 8m-8 0l8-8M253 687l8 8m-8 0l8-8M264 687l8 8m-8 0l8-8M276 687l8 8m-8 0l8-8M281 687l8 8m-8 0l8-8M299 687l8 8m-8 0l8-8M302 687l8 8m-8 0l8-8M303 687l8 8m-8 0l8-8M306 687l8 8m-8 0l8-8M236 688l8 8m-8 0l8-8M238 688l8 8m-8 0l8-8M249 688l8 8m-8 0l8-8M258 688l8 8m-8 0l8-8M267 688l8 8m-8 0l8-8M283 688l8 8m-8 0l8-8M286 689l8 8m-8 0l8-8M288 688l8 8m-8 0l8-8M289 688l8 8m-8 0l8-8M294 688l8 8m-8 0l8-8M298 688l8 8m-8 0l8-8M302 688l8 8m-8 0l8-8M305 688l8 8m-8 0l8-8M242 689l8 8m-8 0l8-8M272 689l8 8m-8 0l8-8M296 689l8 8m-8 0l8-8M206 690l8 8m-8 0l8-8M238 691l8 8m-8 0l8-8M240 690l8 8m-8 0l8-8M248 691l8 8m-8 0l8-8M256 690l8 8m-8 0l8-8M260 690l8 8m-8 0l8-8M260 690l8 8m-8 0l8-8M262 690l8 8m-8 0l8-8M267 690l8 8m-8 0l8-8M270 690l8 8m-8 0l8-8M274 690l8 8m-8 0l8-8M275 690l8 8m-8 0l8-8M289 690l8 8m-8 0l8-8M291 690l8 8m-8 0l8-8M294 690l8 8m-8 0l8-8M297 690l8 8m-8 0l8-8M299 690l8 8m-8 0l8-8M200 691l8 8m-8 0l8-8M241 691l8 8m-8 0l8-8M241 691l8 8m-8 0l8-8M248 691l8 8m-8 0l8-8M252 692l8 8m-8 0l8-8M263 691l8 8m-8 0l8-8M266 691l8 8m-8 0l8-8M241 692l8 8m-8 0l8-8M260 692l8 8m-8 0l8-8M266 692l8 8m-8 0l8-8M269 692l8 8m-8 0l8-8M278 692l8 8m-8 0l8-8M281 692l8 8m-8 0l8-8M242 693l8 8m-8 0l8-8M265 693l8 8m-8 0l8-8M307 693l8 8m-8 0l8-8M265 694l8 8m-8 0l8-8M267 694l8 8m-8 0l8-8M256 695l8 8m-8 0l8-8M265 696l8 8m-8 0l8-8M266 696l8 8m-8 0l8-8M343 695l8 8m-8 0l8-8M262 696l8 8m-8 0l8-8M265 696l8 8m-8 0l8-8M271 696l8 8m-8 0l8-8M263 698l8 8m-8 0l8-8M265 697l8 8m-8 0l8-8M269 698l8 8m-8 0l8-8M238 699l8 8m-8 0l8-8M266 699l8 8m-8 0l8-8M263 700l8 8m-8 0l8-8M270 700l8 8m-8 0l8-8M157 702l8 8m-8 0l8-8M313 706l8 8m-8 0l8-8M124 589l8 8m-8 0l8-8M134 601l8 8m-8 0l8-8M142 605l8 8m-8 0l8-8M182 584l8 8m-8 0l8-8M191 589l8 8m-8 0l8-8M171 605l8 8m-8 0l8-8M222 578l8 8m-8 0l8-8M221 589l8 8m-8 0l8-8M157 679l8 8m-8 0l8-8M174 681l8 8m-8 0l8-8M192 697l8 8m-8 0l8-8M222 707l8 8m-8 0l8-8M240 705l8 8m-8 0l8-8M232 695l8 8m-8 0l8-8M249 713l8 8m-8 0l8-8M127 619l8 8m-8 0l8-8M132 615l8 8m-8 0l8-8M138 611l8 8m-8 0l8-8M144 608l8 8m-8 0l8-8M124 634l8 8m-8 0l8-8M120 636l8 8m-8 0l8-8M130 638l8 8m-8 0l8-8M135 633l8 8m-8 0l8-8M142 632l8 8m-8 0l8-8M145 626l8 8m-8 0l8-8M110 643l8 8m-8 0l8-8M127 658l8 8m-8 0l8-8M131 661l8 8m-8 0l8-8M137 655l8 8m-8 0l8-8M142 658l8 8m-8 0l8-8M130 669l8 8m-8 0l8-8M135 672l8 8m-8 0l8-8M139 670l8 8m-8 0l8-8M145 652l8 8m-8 0l8-8M149 611l8 8m-8 0l8-8M155 609l8 8m-8 0l8-8M160 611l8 8m-8 0l8-8M166 608l8 8m-8 0l8-8M168 611l8 8m-8 0l8-8M196 598l8 8m-8 0l8-8M202 601l8 8m-8 0l8-8M207 597l8 8m-8 0l8-8M215 587l8 8m-8 0l8-8M229 576l8 8m-8 0l8-8M235 575l8 8m-8 0l8-8M243 572l8 8m-8 0l8-8M182 684l8 8m-8 0l8-8M196 691l8 8m-8 0l8-8M204 690l8 8m-8 0l8-8M213 688l8 8m-8 0l8-8M226 694l8 8m-8 0l8-8M236 699l8 8m-8 0l8-8M244 702l8 8m-8 0l8-8M340 534l8 8m-8 0l8-8M264 558l8 8m-8 0l8-8M286 561l8 8m-8 0l8-8M280 565l8 8m-8 0l8-8M318 560l8 8m-8 0l8-8M320 568l8 8m-8 0l8-8M301 569l8 8m-8 0l8-8M366 598l8 8m-8 0l8-8M358 604l8 8m-8 0l8-8M345 590l8 8m-8 0l8-8M359 618l8 8m-8 0l8-8M363 658l8 8m-8 0l8-8M358 650l8 8m-8 0l8-8M366 634l8 8m-8 0l8-8M334 699l8 8m-8 0l8-8M318 706l8 8m-8 0l8-8M313 708l8 8m-8 0l8-8M251 714l8 8m-8 0l8-8M270 730l8 8m-8 0l8-8M336 688l8 8m-8 0l8-8M257 564l8 8m-8 0l8-8M261 567l8 8m-8 0l8-8M268 568l8 8m-8 0l8-8M291 569l8 8m-8 0l8-8M297 575l8 8m-8 0l8-8M304 578l8 8m-8 0l8-8M313 580l8 8m-8 0l8-8M323 578l8 8m-8 0l8-8M331 582l8 8m-8 0l8-8M336 580l8 8m-8 0l8-8M349 605l8 8m-8 0l8-8M354 611l8 8m-8 0l8-8M355 627l8 8m-8 0l8-8M351 644l8 8m-8 0l8-8M354 655l8 8m-8 0l8-8M349 661l8 8m-8 0l8-8M345 669l8 8m-8 0l8-8M341 677l8 8m-8 0l8-8M329 688l8 8m-8 0l8-8M323 692l8 8m-8 0l8-8M309 695l8 8m-8 0l8-8M300 698l8 8m-8 0l8-8M289 699l8 8m-8 0l8-8M276 702l8 8m-8 0l8-8M265 705l8 8m-8 0l8-8M257 703l8 8m-8 0l8-8M246 702l8 8m-8 0l8-8M243 706l8 8m-8 0l8-8M261 709l8 8m-8 0l8-8M282 702l8 8m-8 0l8-8" stroke="#7f7f7f" stroke-width="1.68" stroke-linecap="round" fill="none"/></g>
<path d="M88.0 611.6H385.2" stroke="#000" stroke-width="2.5" stroke-dasharray="9.6 10"/>
<path d="M87 619.5L91.5 619.4L96 619.3L100.4 619.2L104.9 619.1L109.4 619L113.9 618.9L118.4 618.8L122.9 618.6L127.3 618.5L131.8 618.4L136.3 618.2L140.8 618.1L145.3 617.9L149.8 617.8L154.2 617.6L158.7 617.5L163.2 617.3L167.7 617.1L172.2 616.9L176.7 616.7L181.1 616.5L185.6 616.3L190.1 616.1L194.6 615.9L199.1 615.6L203.6 615.3L208 615L212.5 614.7L217 614.3L221.5 613.8L226 613.2L230.5 612.6L234.9 612L239.4 611.7L243.9 611.4L248.4 611.2L252.9 611.1L257.4 610.9L261.8 610.7L266.3 610.6L270.8 610.4L275.3 610.3L279.8 610.2L284.3 610L288.7 609.8L293.2 609.7L297.7 609.5L302.2 609.3L306.7 609.1L311.2 608.9L315.6 608.7L320.1 608.5L324.6 608.3L329.1 608.1L333.6 607.9L338.1 607.6L342.5 607.4L347 607.1L351.5 606.9" stroke="#f00" stroke-width="2.6" stroke-linecap="round" stroke-linejoin="round"/>
</g>
<g clip-path="url(#c6)" fill="none">
<path d="M470.7 704.5V504.1M513.5 704.5V504.1M556.3 704.5V504.1M599.1 704.5V504.1M641.9 704.5V504.1M684.7 704.5V504.1" stroke="#d3d3d3" stroke-width="1.6" stroke-dasharray="6.5 6.5"/>
<path d="M569 554L566 565L561 572L558 583L555 586L553 586L550 584L549 587L543 588L538 585L533 588L530 588L524 583L521 582L520 576L515 572L511 576L508 577L506 575L503 576L500 572L492 579L487 579L485 581L479 576L476 568L472 566L469 566L468 570L465 574L462 575L462 650L469 657L474 658L483 644L484 639L486 637L491 637L495 634L509 638L512 646L514 647L516 642L520 641L520 632L522 630L528 631L532 627L541 628L547 631L549 629L554 629L559 632L562 635L563 638L565 639L568 636L573 635L576 630L581 628L586 614L589 611L591 613L591 606L586 603L583 592L575 585L574 583Z" fill="#7f7f7f" stroke="#7f7f7f" stroke-width="1" stroke-linejoin="round"/><g transform="scale(0.95)"><path d="M595 561l8 8m-8 0l8-8M594 567l8 8m-8 0l8-8M594 571l8 8m-8 0l8-8M595 573l8 8m-8 0l8-8M596 573l8 8m-8 0l8-8M593 575l8 8m-8 0l8-8M596 574l8 8m-8 0l8-8M594 577l8 8m-8 0l8-8M598 577l8 8m-8 0l8-8M539 578l8 8m-8 0l8-8M496 578l8 8m-8 0l8-8M492 582l8 8m-8 0l8-8M494 582l8 8m-8 0l8-8M519 582l8 8m-8 0l8-8M493 583l8 8m-8 0l8-8M589 583l8 8m-8 0l8-8M596 583l8 8m-8 0l8-8M494 584l8 8m-8 0l8-8M594 584l8 8m-8 0l8-8M537 585l8 8m-8 0l8-8M587 585l8 8m-8 0l8-8M592 585l8 8m-8 0l8-8M487 586l8 8m-8 0l8-8M501 586l8 8m-8 0l8-8M629 586l8 8m-8 0l8-8M517 587l8 8m-8 0l8-8M588 587l8 8m-8 0l8-8M598 587l8 8m-8 0l8-8M498 588l8 8m-8 0l8-8M522 588l8 8m-8 0l8-8M529 588l8 8m-8 0l8-8M539 589l8 8m-8 0l8-8M540 588l8 8m-8 0l8-8M586 588l8 8m-8 0l8-8M588 588l8 8m-8 0l8-8M600 588l8 8m-8 0l8-8M492 589l8 8m-8 0l8-8M495 589l8 8m-8 0l8-8M515 589l8 8m-8 0l8-8M541 589l8 8m-8 0l8-8M591 589l8 8m-8 0l8-8M592 589l8 8m-8 0l8-8M597 590l8 8m-8 0l8-8M492 592l8 8m-8 0l8-8M495 591l8 8m-8 0l8-8M521 591l8 8m-8 0l8-8M535 591l8 8m-8 0l8-8M587 591l8 8m-8 0l8-8M494 592l8 8m-8 0l8-8M497 593l8 8m-8 0l8-8M502 592l8 8m-8 0l8-8M549 593l8 8m-8 0l8-8M585 592l8 8m-8 0l8-8M589 592l8 8m-8 0l8-8M595 593l8 8m-8 0l8-8M596 592l8 8m-8 0l8-8M598 592l8 8m-8 0l8-8M489 594l8 8m-8 0l8-8M491 593l8 8m-8 0l8-8M494 593l8 8m-8 0l8-8M500 593l8 8m-8 0l8-8M533 593l8 8m-8 0l8-8M587 593l8 8m-8 0l8-8M589 593l8 8m-8 0l8-8M591 594l8 8m-8 0l8-8M597 593l8 8m-8 0l8-8M490 594l8 8m-8 0l8-8M491 594l8 8m-8 0l8-8M495 595l8 8m-8 0l8-8M498 594l8 8m-8 0l8-8M503 594l8 8m-8 0l8-8M513 594l8 8m-8 0l8-8M523 594l8 8m-8 0l8-8M528 594l8 8m-8 0l8-8M539 594l8 8m-8 0l8-8M592 594l8 8m-8 0l8-8M489 595l8 8m-8 0l8-8M530 596l8 8m-8 0l8-8M535 596l8 8m-8 0l8-8M583 596l8 8m-8 0l8-8M589 595l8 8m-8 0l8-8M494 597l8 8m-8 0l8-8M507 596l8 8m-8 0l8-8M525 597l8 8m-8 0l8-8M585 597l8 8m-8 0l8-8M587 596l8 8m-8 0l8-8M594 596l8 8m-8 0l8-8M594 597l8 8m-8 0l8-8M596 596l8 8m-8 0l8-8M596 596l8 8m-8 0l8-8M598 596l8 8m-8 0l8-8M602 597l8 8m-8 0l8-8M442 597l8 8m-8 0l8-8M489 598l8 8m-8 0l8-8M496 598l8 8m-8 0l8-8M528 598l8 8m-8 0l8-8M530 598l8 8m-8 0l8-8M538 598l8 8m-8 0l8-8M552 597l8 8m-8 0l8-8M588 598l8 8m-8 0l8-8M590 597l8 8m-8 0l8-8M597 598l8 8m-8 0l8-8M599 598l8 8m-8 0l8-8M600 597l8 8m-8 0l8-8M498 599l8 8m-8 0l8-8M500 598l8 8m-8 0l8-8M505 598l8 8m-8 0l8-8M519 598l8 8m-8 0l8-8M521 599l8 8m-8 0l8-8M524 599l8 8m-8 0l8-8M529 599l8 8m-8 0l8-8M541 599l8 8m-8 0l8-8M556 599l8 8m-8 0l8-8M596 599l8 8m-8 0l8-8M597 598l8 8m-8 0l8-8M490 599l8 8m-8 0l8-8M503 600l8 8m-8 0l8-8M506 599l8 8m-8 0l8-8M515 600l8 8m-8 0l8-8M519 600l8 8m-8 0l8-8M524 600l8 8m-8 0l8-8M526 599l8 8m-8 0l8-8M529 600l8 8m-8 0l8-8M533 599l8 8m-8 0l8-8M537 600l8 8m-8 0l8-8M540 600l8 8m-8 0l8-8M547 600l8 8m-8 0l8-8M587 600l8 8m-8 0l8-8M595 600l8 8m-8 0l8-8M597 600l8 8m-8 0l8-8M488 601l8 8m-8 0l8-8M491 601l8 8m-8 0l8-8M497 600l8 8m-8 0l8-8M517 601l8 8m-8 0l8-8M519 600l8 8m-8 0l8-8M520 600l8 8m-8 0l8-8M525 600l8 8m-8 0l8-8M531 601l8 8m-8 0l8-8M540 601l8 8m-8 0l8-8M590 600l8 8m-8 0l8-8M597 601l8 8m-8 0l8-8M600 601l8 8m-8 0l8-8M487 601l8 8m-8 0l8-8M494 602l8 8m-8 0l8-8M501 601l8 8m-8 0l8-8M503 602l8 8m-8 0l8-8M504 602l8 8m-8 0l8-8M526 602l8 8m-8 0l8-8M587 602l8 8m-8 0l8-8M593 601l8 8m-8 0l8-8M595 602l8 8m-8 0l8-8M596 602l8 8m-8 0l8-8M600 602l8 8m-8 0l8-8M690 601l8 8m-8 0l8-8M491 603l8 8m-8 0l8-8M494 602l8 8m-8 0l8-8M499 602l8 8m-8 0l8-8M501 603l8 8m-8 0l8-8M507 603l8 8m-8 0l8-8M509 602l8 8m-8 0l8-8M510 602l8 8m-8 0l8-8M530 603l8 8m-8 0l8-8M534 603l8 8m-8 0l8-8M581 603l8 8m-8 0l8-8M581 603l8 8m-8 0l8-8M589 603l8 8m-8 0l8-8M595 602l8 8m-8 0l8-8M470 604l8 8m-8 0l8-8M494 604l8 8m-8 0l8-8M495 604l8 8m-8 0l8-8M501 604l8 8m-8 0l8-8M510 604l8 8m-8 0l8-8M517 604l8 8m-8 0l8-8M522 604l8 8m-8 0l8-8M561 604l8 8m-8 0l8-8M568 604l8 8m-8 0l8-8M588 604l8 8m-8 0l8-8M589 604l8 8m-8 0l8-8M592 603l8 8m-8 0l8-8M601 604l8 8m-8 0l8-8M604 604l8 8m-8 0l8-8M607 603l8 8m-8 0l8-8M486 605l8 8m-8 0l8-8M487 605l8 8m-8 0l8-8M491 604l8 8m-8 0l8-8M492 605l8 8m-8 0l8-8M493 604l8 8m-8 0l8-8M497 605l8 8m-8 0l8-8M503 605l8 8m-8 0l8-8M509 604l8 8m-8 0l8-8M530 605l8 8m-8 0l8-8M533 605l8 8m-8 0l8-8M538 605l8 8m-8 0l8-8M545 604l8 8m-8 0l8-8M552 605l8 8m-8 0l8-8M555 605l8 8m-8 0l8-8M562 605l8 8m-8 0l8-8M566 605l8 8m-8 0l8-8M567 605l8 8m-8 0l8-8M572 605l8 8m-8 0l8-8M574 605l8 8m-8 0l8-8M579 605l8 8m-8 0l8-8M603 605l8 8m-8 0l8-8M471 606l8 8m-8 0l8-8M497 607l8 8m-8 0l8-8M503 606l8 8m-8 0l8-8M511 606l8 8m-8 0l8-8M515 606l8 8m-8 0l8-8M523 606l8 8m-8 0l8-8M528 606l8 8m-8 0l8-8M538 606l8 8m-8 0l8-8M572 606l8 8m-8 0l8-8M585 606l8 8m-8 0l8-8M590 606l8 8m-8 0l8-8M594 606l8 8m-8 0l8-8M598 606l8 8m-8 0l8-8M603 606l8 8m-8 0l8-8M429 607l8 8m-8 0l8-8M478 607l8 8m-8 0l8-8M488 607l8 8m-8 0l8-8M496 607l8 8m-8 0l8-8M507 607l8 8m-8 0l8-8M512 607l8 8m-8 0l8-8M532 607l8 8m-8 0l8-8M533 607l8 8m-8 0l8-8M536 607l8 8m-8 0l8-8M546 607l8 8m-8 0l8-8M579 607l8 8m-8 0l8-8M584 607l8 8m-8 0l8-8M588 607l8 8m-8 0l8-8M607 607l8 8m-8 0l8-8M493 609l8 8m-8 0l8-8M498 608l8 8m-8 0l8-8M501 608l8 8m-8 0l8-8M511 608l8 8m-8 0l8-8M519 608l8 8m-8 0l8-8M524 608l8 8m-8 0l8-8M526 608l8 8m-8 0l8-8M528 608l8 8m-8 0l8-8M536 608l8 8m-8 0l8-8M552 608l8 8m-8 0l8-8M578 608l8 8m-8 0l8-8M592 608l8 8m-8 0l8-8M601 609l8 8m-8 0l8-8M635 609l8 8m-8 0l8-8M672 608l8 8m-8 0l8-8M699 608l8 8m-8 0l8-8M486 609l8 8m-8 0l8-8M491 610l8 8m-8 0l8-8M494 609l8 8m-8 0l8-8M502 609l8 8m-8 0l8-8M503 609l8 8m-8 0l8-8M509 610l8 8m-8 0l8-8M510 609l8 8m-8 0l8-8M522 609l8 8m-8 0l8-8M530 609l8 8m-8 0l8-8M535 609l8 8m-8 0l8-8M538 609l8 8m-8 0l8-8M538 609l8 8m-8 0l8-8M546 609l8 8m-8 0l8-8M582 610l8 8m-8 0l8-8M583 609l8 8m-8 0l8-8M584 609l8 8m-8 0l8-8M591 609l8 8m-8 0l8-8M597 610l8 8m-8 0l8-8M599 609l8 8m-8 0l8-8M608 609l8 8m-8 0l8-8M611 609l8 8m-8 0l8-8M622 609l8 8m-8 0l8-8M650 609l8 8m-8 0l8-8M690 610l8 8m-8 0l8-8M454 610l8 8m-8 0l8-8M482 610l8 8m-8 0l8-8M487 610l8 8m-8 0l8-8M489 610l8 8m-8 0l8-8M491 610l8 8m-8 0l8-8M506 610l8 8m-8 0l8-8M509 611l8 8m-8 0l8-8M514 610l8 8m-8 0l8-8M516 610l8 8m-8 0l8-8M523 611l8 8m-8 0l8-8M524 610l8 8m-8 0l8-8M526 610l8 8m-8 0l8-8M533 610l8 8m-8 0l8-8M540 610l8 8m-8 0l8-8M547 610l8 8m-8 0l8-8M556 610l8 8m-8 0l8-8M562 610l8 8m-8 0l8-8M581 610l8 8m-8 0l8-8M584 611l8 8m-8 0l8-8M585 610l8 8m-8 0l8-8M698 611l8 8m-8 0l8-8M490 611l8 8m-8 0l8-8M495 611l8 8m-8 0l8-8M497 611l8 8m-8 0l8-8M518 611l8 8m-8 0l8-8M521 611l8 8m-8 0l8-8M523 612l8 8m-8 0l8-8M526 611l8 8m-8 0l8-8M528 612l8 8m-8 0l8-8M536 611l8 8m-8 0l8-8M538 611l8 8m-8 0l8-8M539 611l8 8m-8 0l8-8M545 611l8 8m-8 0l8-8M546 611l8 8m-8 0l8-8M550 611l8 8m-8 0l8-8M557 611l8 8m-8 0l8-8M559 611l8 8m-8 0l8-8M570 612l8 8m-8 0l8-8M574 611l8 8m-8 0l8-8M580 611l8 8m-8 0l8-8M600 612l8 8m-8 0l8-8M608 611l8 8m-8 0l8-8M647 612l8 8m-8 0l8-8M648 612l8 8m-8 0l8-8M688 611l8 8m-8 0l8-8M490 612l8 8m-8 0l8-8M492 613l8 8m-8 0l8-8M500 613l8 8m-8 0l8-8M501 612l8 8m-8 0l8-8M503 612l8 8m-8 0l8-8M509 612l8 8m-8 0l8-8M513 612l8 8m-8 0l8-8M514 612l8 8m-8 0l8-8M526 612l8 8m-8 0l8-8M537 612l8 8m-8 0l8-8M537 613l8 8m-8 0l8-8M552 612l8 8m-8 0l8-8M559 612l8 8m-8 0l8-8M563 612l8 8m-8 0l8-8M568 612l8 8m-8 0l8-8M588 613l8 8m-8 0l8-8M590 613l8 8m-8 0l8-8M595 612l8 8m-8 0l8-8M604 612l8 8m-8 0l8-8M692 612l8 8m-8 0l8-8M712 613l8 8m-8 0l8-8M458 613l8 8m-8 0l8-8M488 614l8 8m-8 0l8-8M491 613l8 8m-8 0l8-8M495 614l8 8m-8 0l8-8M497 613l8 8m-8 0l8-8M499 614l8 8m-8 0l8-8M501 614l8 8m-8 0l8-8M503 613l8 8m-8 0l8-8M514 614l8 8m-8 0l8-8M515 613l8 8m-8 0l8-8M521 613l8 8m-8 0l8-8M530 614l8 8m-8 0l8-8M536 614l8 8m-8 0l8-8M537 613l8 8m-8 0l8-8M547 613l8 8m-8 0l8-8M553 613l8 8m-8 0l8-8M554 613l8 8m-8 0l8-8M559 614l8 8m-8 0l8-8M560 613l8 8m-8 0l8-8M567 613l8 8m-8 0l8-8M572 613l8 8m-8 0l8-8M573 613l8 8m-8 0l8-8M586 613l8 8m-8 0l8-8M587 614l8 8m-8 0l8-8M591 614l8 8m-8 0l8-8M594 613l8 8m-8 0l8-8M596 613l8 8m-8 0l8-8M601 613l8 8m-8 0l8-8M663 614l8 8m-8 0l8-8M431 614l8 8m-8 0l8-8M483 614l8 8m-8 0l8-8M487 614l8 8m-8 0l8-8M490 614l8 8m-8 0l8-8M497 614l8 8m-8 0l8-8M501 615l8 8m-8 0l8-8M504 615l8 8m-8 0l8-8M505 614l8 8m-8 0l8-8M507 615l8 8m-8 0l8-8M510 615l8 8m-8 0l8-8M517 615l8 8m-8 0l8-8M532 614l8 8m-8 0l8-8M538 614l8 8m-8 0l8-8M541 615l8 8m-8 0l8-8M545 614l8 8m-8 0l8-8M550 614l8 8m-8 0l8-8M572 614l8 8m-8 0l8-8M575 614l8 8m-8 0l8-8M579 614l8 8m-8 0l8-8M588 614l8 8m-8 0l8-8M590 614l8 8m-8 0l8-8M594 615l8 8m-8 0l8-8M598 614l8 8m-8 0l8-8M612 615l8 8m-8 0l8-8M633 614l8 8m-8 0l8-8M650 614l8 8m-8 0l8-8M465 615l8 8m-8 0l8-8M486 615l8 8m-8 0l8-8M487 616l8 8m-8 0l8-8M490 616l8 8m-8 0l8-8M507 616l8 8m-8 0l8-8M524 615l8 8m-8 0l8-8M527 615l8 8m-8 0l8-8M529 616l8 8m-8 0l8-8M536 615l8 8m-8 0l8-8M545 616l8 8m-8 0l8-8M546 616l8 8m-8 0l8-8M565 615l8 8m-8 0l8-8M579 615l8 8m-8 0l8-8M584 615l8 8m-8 0l8-8M585 616l8 8m-8 0l8-8M588 615l8 8m-8 0l8-8M599 615l8 8m-8 0l8-8M604 615l8 8m-8 0l8-8M612 616l8 8m-8 0l8-8M621 615l8 8m-8 0l8-8M645 615l8 8m-8 0l8-8M654 616l8 8m-8 0l8-8M669 615l8 8m-8 0l8-8M699 615l8 8m-8 0l8-8M700 615l8 8m-8 0l8-8M712 615l8 8m-8 0l8-8M453 616l8 8m-8 0l8-8M462 616l8 8m-8 0l8-8M462 616l8 8m-8 0l8-8M486 616l8 8m-8 0l8-8M490 617l8 8m-8 0l8-8M508 617l8 8m-8 0l8-8M509 616l8 8m-8 0l8-8M512 617l8 8m-8 0l8-8M522 616l8 8m-8 0l8-8M524 617l8 8m-8 0l8-8M526 617l8 8m-8 0l8-8M530 616l8 8m-8 0l8-8M533 617l8 8m-8 0l8-8M569 617l8 8m-8 0l8-8M595 616l8 8m-8 0l8-8M607 616l8 8m-8 0l8-8M610 616l8 8m-8 0l8-8M614 617l8 8m-8 0l8-8M618 616l8 8m-8 0l8-8M632 617l8 8m-8 0l8-8M681 616l8 8m-8 0l8-8M683 617l8 8m-8 0l8-8M687 617l8 8m-8 0l8-8M688 616l8 8m-8 0l8-8M697 617l8 8m-8 0l8-8M700 617l8 8m-8 0l8-8M703 616l8 8m-8 0l8-8M707 616l8 8m-8 0l8-8M447 618l8 8m-8 0l8-8M453 617l8 8m-8 0l8-8M457 618l8 8m-8 0l8-8M471 618l8 8m-8 0l8-8M487 617l8 8m-8 0l8-8M507 618l8 8m-8 0l8-8M509 617l8 8m-8 0l8-8M511 618l8 8m-8 0l8-8M516 618l8 8m-8 0l8-8M522 617l8 8m-8 0l8-8M546 618l8 8m-8 0l8-8M549 617l8 8m-8 0l8-8M552 618l8 8m-8 0l8-8M553 618l8 8m-8 0l8-8M553 618l8 8m-8 0l8-8M557 618l8 8m-8 0l8-8M563 618l8 8m-8 0l8-8M569 618l8 8m-8 0l8-8M590 618l8 8m-8 0l8-8M594 617l8 8m-8 0l8-8M597 617l8 8m-8 0l8-8M599 617l8 8m-8 0l8-8M605 618l8 8m-8 0l8-8M617 617l8 8m-8 0l8-8M627 617l8 8m-8 0l8-8M649 617l8 8m-8 0l8-8M446 618l8 8m-8 0l8-8M471 619l8 8m-8 0l8-8M478 619l8 8m-8 0l8-8M494 619l8 8m-8 0l8-8M504 618l8 8m-8 0l8-8M508 619l8 8m-8 0l8-8M512 618l8 8m-8 0l8-8M523 619l8 8m-8 0l8-8M527 619l8 8m-8 0l8-8M556 619l8 8m-8 0l8-8M558 619l8 8m-8 0l8-8M562 619l8 8m-8 0l8-8M567 619l8 8m-8 0l8-8M569 619l8 8m-8 0l8-8M571 619l8 8m-8 0l8-8M582 619l8 8m-8 0l8-8M587 619l8 8m-8 0l8-8M588 619l8 8m-8 0l8-8M591 619l8 8m-8 0l8-8M596 619l8 8m-8 0l8-8M604 618l8 8m-8 0l8-8M620 618l8 8m-8 0l8-8M674 619l8 8m-8 0l8-8M689 619l8 8m-8 0l8-8M690 618l8 8m-8 0l8-8M694 619l8 8m-8 0l8-8M708 618l8 8m-8 0l8-8M447 620l8 8m-8 0l8-8M481 619l8 8m-8 0l8-8M486 620l8 8m-8 0l8-8M492 620l8 8m-8 0l8-8M495 620l8 8m-8 0l8-8M511 620l8 8m-8 0l8-8M517 620l8 8m-8 0l8-8M518 620l8 8m-8 0l8-8M521 620l8 8m-8 0l8-8M523 620l8 8m-8 0l8-8M524 620l8 8m-8 0l8-8M527 619l8 8m-8 0l8-8M531 620l8 8m-8 0l8-8M534 619l8 8m-8 0l8-8M537 619l8 8m-8 0l8-8M549 619l8 8m-8 0l8-8M562 620l8 8m-8 0l8-8M568 620l8 8m-8 0l8-8M579 619l8 8m-8 0l8-8M594 620l8 8m-8 0l8-8M622 619l8 8m-8 0l8-8M627 620l8 8m-8 0l8-8M629 620l8 8m-8 0l8-8M682 619l8 8m-8 0l8-8M705 620l8 8m-8 0l8-8M435 621l8 8m-8 0l8-8M448 621l8 8m-8 0l8-8M461 621l8 8m-8 0l8-8M494 621l8 8m-8 0l8-8M498 620l8 8m-8 0l8-8M503 621l8 8m-8 0l8-8M504 621l8 8m-8 0l8-8M511 621l8 8m-8 0l8-8M520 621l8 8m-8 0l8-8M520 621l8 8m-8 0l8-8M526 621l8 8m-8 0l8-8M527 621l8 8m-8 0l8-8M528 620l8 8m-8 0l8-8M530 621l8 8m-8 0l8-8M537 621l8 8m-8 0l8-8M538 621l8 8m-8 0l8-8M569 621l8 8m-8 0l8-8M578 621l8 8m-8 0l8-8M584 620l8 8m-8 0l8-8M590 621l8 8m-8 0l8-8M592 621l8 8m-8 0l8-8M596 621l8 8m-8 0l8-8M598 621l8 8m-8 0l8-8M601 621l8 8m-8 0l8-8M610 620l8 8m-8 0l8-8M643 620l8 8m-8 0l8-8M661 621l8 8m-8 0l8-8M687 621l8 8m-8 0l8-8M692 620l8 8m-8 0l8-8M702 621l8 8m-8 0l8-8M707 621l8 8m-8 0l8-8M439 621l8 8m-8 0l8-8M440 622l8 8m-8 0l8-8M481 621l8 8m-8 0l8-8M489 622l8 8m-8 0l8-8M506 622l8 8m-8 0l8-8M507 622l8 8m-8 0l8-8M513 622l8 8m-8 0l8-8M519 622l8 8m-8 0l8-8M529 622l8 8m-8 0l8-8M537 622l8 8m-8 0l8-8M540 621l8 8m-8 0l8-8M552 622l8 8m-8 0l8-8M556 622l8 8m-8 0l8-8M557 621l8 8m-8 0l8-8M561 622l8 8m-8 0l8-8M564 621l8 8m-8 0l8-8M574 622l8 8m-8 0l8-8M580 621l8 8m-8 0l8-8M587 622l8 8m-8 0l8-8M591 622l8 8m-8 0l8-8M606 622l8 8m-8 0l8-8M626 622l8 8m-8 0l8-8M649 622l8 8m-8 0l8-8M676 622l8 8m-8 0l8-8M680 622l8 8m-8 0l8-8M685 622l8 8m-8 0l8-8M690 622l8 8m-8 0l8-8M452 623l8 8m-8 0l8-8M471 623l8 8m-8 0l8-8M490 623l8 8m-8 0l8-8M498 622l8 8m-8 0l8-8M501 623l8 8m-8 0l8-8M512 623l8 8m-8 0l8-8M516 623l8 8m-8 0l8-8M518 623l8 8m-8 0l8-8M523 623l8 8m-8 0l8-8M528 623l8 8m-8 0l8-8M544 623l8 8m-8 0l8-8M546 623l8 8m-8 0l8-8M548 623l8 8m-8 0l8-8M563 622l8 8m-8 0l8-8M569 623l8 8m-8 0l8-8M587 623l8 8m-8 0l8-8M594 623l8 8m-8 0l8-8M605 623l8 8m-8 0l8-8M608 623l8 8m-8 0l8-8M625 623l8 8m-8 0l8-8M627 623l8 8m-8 0l8-8M642 623l8 8m-8 0l8-8M650 623l8 8m-8 0l8-8M675 623l8 8m-8 0l8-8M702 623l8 8m-8 0l8-8M706 623l8 8m-8 0l8-8M443 624l8 8m-8 0l8-8M453 624l8 8m-8 0l8-8M475 623l8 8m-8 0l8-8M482 624l8 8m-8 0l8-8M491 624l8 8m-8 0l8-8M492 624l8 8m-8 0l8-8M499 624l8 8m-8 0l8-8M501 624l8 8m-8 0l8-8M504 624l8 8m-8 0l8-8M505 624l8 8m-8 0l8-8M509 624l8 8m-8 0l8-8M515 624l8 8m-8 0l8-8M518 624l8 8m-8 0l8-8M520 624l8 8m-8 0l8-8M525 624l8 8m-8 0l8-8M531 624l8 8m-8 0l8-8M533 624l8 8m-8 0l8-8M537 624l8 8m-8 0l8-8M556 624l8 8m-8 0l8-8M556 623l8 8m-8 0l8-8M560 624l8 8m-8 0l8-8M561 624l8 8m-8 0l8-8M573 624l8 8m-8 0l8-8M582 624l8 8m-8 0l8-8M589 624l8 8m-8 0l8-8M590 624l8 8m-8 0l8-8M592 624l8 8m-8 0l8-8M598 623l8 8m-8 0l8-8M604 624l8 8m-8 0l8-8M610 624l8 8m-8 0l8-8M620 624l8 8m-8 0l8-8M623 624l8 8m-8 0l8-8M651 624l8 8m-8 0l8-8M692 624l8 8m-8 0l8-8M698 624l8 8m-8 0l8-8M703 624l8 8m-8 0l8-8M439 625l8 8m-8 0l8-8M439 625l8 8m-8 0l8-8M454 625l8 8m-8 0l8-8M460 625l8 8m-8 0l8-8M471 625l8 8m-8 0l8-8M496 625l8 8m-8 0l8-8M497 625l8 8m-8 0l8-8M511 625l8 8m-8 0l8-8M520 625l8 8m-8 0l8-8M527 625l8 8m-8 0l8-8M528 625l8 8m-8 0l8-8M529 625l8 8m-8 0l8-8M536 625l8 8m-8 0l8-8M548 625l8 8m-8 0l8-8M554 625l8 8m-8 0l8-8M601 625l8 8m-8 0l8-8M610 625l8 8m-8 0l8-8M613 625l8 8m-8 0l8-8M635 625l8 8m-8 0l8-8M640 625l8 8m-8 0l8-8M646 625l8 8m-8 0l8-8M663 625l8 8m-8 0l8-8M677 625l8 8m-8 0l8-8M473 626l8 8m-8 0l8-8M475 626l8 8m-8 0l8-8M486 626l8 8m-8 0l8-8M494 626l8 8m-8 0l8-8M497 626l8 8m-8 0l8-8M499 626l8 8m-8 0l8-8M512 626l8 8m-8 0l8-8M517 626l8 8m-8 0l8-8M518 626l8 8m-8 0l8-8M523 626l8 8m-8 0l8-8M525 626l8 8m-8 0l8-8M528 626l8 8m-8 0l8-8M529 626l8 8m-8 0l8-8M556 626l8 8m-8 0l8-8M562 626l8 8m-8 0l8-8M564 627l8 8m-8 0l8-8M566 626l8 8m-8 0l8-8M585 626l8 8m-8 0l8-8M591 626l8 8m-8 0l8-8M602 626l8 8m-8 0l8-8M606 626l8 8m-8 0l8-8M615 626l8 8m-8 0l8-8M674 626l8 8m-8 0l8-8M451 627l8 8m-8 0l8-8M462 627l8 8m-8 0l8-8M487 627l8 8m-8 0l8-8M488 627l8 8m-8 0l8-8M492 627l8 8m-8 0l8-8M494 628l8 8m-8 0l8-8M505 627l8 8m-8 0l8-8M519 628l8 8m-8 0l8-8M532 627l8 8m-8 0l8-8M536 627l8 8m-8 0l8-8M538 627l8 8m-8 0l8-8M547 628l8 8m-8 0l8-8M550 627l8 8m-8 0l8-8M552 627l8 8m-8 0l8-8M556 627l8 8m-8 0l8-8M558 627l8 8m-8 0l8-8M566 627l8 8m-8 0l8-8M582 627l8 8m-8 0l8-8M606 627l8 8m-8 0l8-8M612 628l8 8m-8 0l8-8M613 627l8 8m-8 0l8-8M650 627l8 8m-8 0l8-8M688 627l8 8m-8 0l8-8M694 627l8 8m-8 0l8-8M697 627l8 8m-8 0l8-8M698 627l8 8m-8 0l8-8M710 627l8 8m-8 0l8-8M443 628l8 8m-8 0l8-8M453 628l8 8m-8 0l8-8M465 628l8 8m-8 0l8-8M471 628l8 8m-8 0l8-8M482 628l8 8m-8 0l8-8M488 629l8 8m-8 0l8-8M489 628l8 8m-8 0l8-8M492 628l8 8m-8 0l8-8M502 628l8 8m-8 0l8-8M512 628l8 8m-8 0l8-8M536 628l8 8m-8 0l8-8M556 628l8 8m-8 0l8-8M556 628l8 8m-8 0l8-8M557 628l8 8m-8 0l8-8M559 628l8 8m-8 0l8-8M560 628l8 8m-8 0l8-8M564 628l8 8m-8 0l8-8M567 628l8 8m-8 0l8-8M570 628l8 8m-8 0l8-8M574 628l8 8m-8 0l8-8M579 628l8 8m-8 0l8-8M588 628l8 8m-8 0l8-8M599 629l8 8m-8 0l8-8M601 628l8 8m-8 0l8-8M609 628l8 8m-8 0l8-8M673 628l8 8m-8 0l8-8M689 628l8 8m-8 0l8-8M697 629l8 8m-8 0l8-8M702 628l8 8m-8 0l8-8M438 629l8 8m-8 0l8-8M448 630l8 8m-8 0l8-8M451 629l8 8m-8 0l8-8M453 629l8 8m-8 0l8-8M462 629l8 8m-8 0l8-8M471 629l8 8m-8 0l8-8M480 629l8 8m-8 0l8-8M482 629l8 8m-8 0l8-8M526 629l8 8m-8 0l8-8M537 630l8 8m-8 0l8-8M541 629l8 8m-8 0l8-8M547 629l8 8m-8 0l8-8M550 629l8 8m-8 0l8-8M553 629l8 8m-8 0l8-8M568 629l8 8m-8 0l8-8M572 629l8 8m-8 0l8-8M590 629l8 8m-8 0l8-8M591 629l8 8m-8 0l8-8M592 629l8 8m-8 0l8-8M628 629l8 8m-8 0l8-8M640 629l8 8m-8 0l8-8M646 629l8 8m-8 0l8-8M648 629l8 8m-8 0l8-8M653 629l8 8m-8 0l8-8M703 629l8 8m-8 0l8-8M457 631l8 8m-8 0l8-8M475 630l8 8m-8 0l8-8M487 630l8 8m-8 0l8-8M488 630l8 8m-8 0l8-8M497 630l8 8m-8 0l8-8M498 631l8 8m-8 0l8-8M500 630l8 8m-8 0l8-8M510 630l8 8m-8 0l8-8M515 631l8 8m-8 0l8-8M517 631l8 8m-8 0l8-8M527 630l8 8m-8 0l8-8M533 630l8 8m-8 0l8-8M547 630l8 8m-8 0l8-8M548 630l8 8m-8 0l8-8M564 630l8 8m-8 0l8-8M567 630l8 8m-8 0l8-8M571 630l8 8m-8 0l8-8M584 630l8 8m-8 0l8-8M587 631l8 8m-8 0l8-8M597 630l8 8m-8 0l8-8M623 631l8 8m-8 0l8-8M642 630l8 8m-8 0l8-8M651 630l8 8m-8 0l8-8M655 630l8 8m-8 0l8-8M664 630l8 8m-8 0l8-8M666 630l8 8m-8 0l8-8M671 630l8 8m-8 0l8-8M673 630l8 8m-8 0l8-8M690 630l8 8m-8 0l8-8M706 631l8 8m-8 0l8-8M709 630l8 8m-8 0l8-8M434 631l8 8m-8 0l8-8M450 632l8 8m-8 0l8-8M463 631l8 8m-8 0l8-8M469 632l8 8m-8 0l8-8M486 632l8 8m-8 0l8-8M488 631l8 8m-8 0l8-8M489 631l8 8m-8 0l8-8M491 632l8 8m-8 0l8-8M499 632l8 8m-8 0l8-8M501 631l8 8m-8 0l8-8M509 631l8 8m-8 0l8-8M515 632l8 8m-8 0l8-8M516 631l8 8m-8 0l8-8M525 631l8 8m-8 0l8-8M541 631l8 8m-8 0l8-8M546 632l8 8m-8 0l8-8M558 632l8 8m-8 0l8-8M563 632l8 8m-8 0l8-8M567 631l8 8m-8 0l8-8M589 632l8 8m-8 0l8-8M591 631l8 8m-8 0l8-8M597 632l8 8m-8 0l8-8M610 631l8 8m-8 0l8-8M610 631l8 8m-8 0l8-8M621 631l8 8m-8 0l8-8M629 631l8 8m-8 0l8-8M638 631l8 8m-8 0l8-8M648 631l8 8m-8 0l8-8M672 632l8 8m-8 0l8-8M673 631l8 8m-8 0l8-8M692 631l8 8m-8 0l8-8M701 632l8 8m-8 0l8-8M448 632l8 8m-8 0l8-8M450 633l8 8m-8 0l8-8M453 632l8 8m-8 0l8-8M475 632l8 8m-8 0l8-8M476 633l8 8m-8 0l8-8M486 633l8 8m-8 0l8-8M490 632l8 8m-8 0l8-8M498 632l8 8m-8 0l8-8M500 633l8 8m-8 0l8-8M508 633l8 8m-8 0l8-8M534 632l8 8m-8 0l8-8M544 632l8 8m-8 0l8-8M546 632l8 8m-8 0l8-8M550 632l8 8m-8 0l8-8M550 633l8 8m-8 0l8-8M561 632l8 8m-8 0l8-8M563 632l8 8m-8 0l8-8M564 632l8 8m-8 0l8-8M568 633l8 8m-8 0l8-8M571 633l8 8m-8 0l8-8M583 633l8 8m-8 0l8-8M584 632l8 8m-8 0l8-8M587 632l8 8m-8 0l8-8M592 632l8 8m-8 0l8-8M598 632l8 8m-8 0l8-8M611 632l8 8m-8 0l8-8M632 632l8 8m-8 0l8-8M680 633l8 8m-8 0l8-8M697 633l8 8m-8 0l8-8M432 634l8 8m-8 0l8-8M433 633l8 8m-8 0l8-8M445 633l8 8m-8 0l8-8M451 633l8 8m-8 0l8-8M472 633l8 8m-8 0l8-8M476 633l8 8m-8 0l8-8M493 634l8 8m-8 0l8-8M495 633l8 8m-8 0l8-8M503 633l8 8m-8 0l8-8M509 634l8 8m-8 0l8-8M552 633l8 8m-8 0l8-8M556 634l8 8m-8 0l8-8M564 633l8 8m-8 0l8-8M566 633l8 8m-8 0l8-8M568 633l8 8m-8 0l8-8M587 634l8 8m-8 0l8-8M590 634l8 8m-8 0l8-8M593 634l8 8m-8 0l8-8M610 633l8 8m-8 0l8-8M611 634l8 8m-8 0l8-8M618 633l8 8m-8 0l8-8M638 633l8 8m-8 0l8-8M687 633l8 8m-8 0l8-8M698 633l8 8m-8 0l8-8M430 635l8 8m-8 0l8-8M437 634l8 8m-8 0l8-8M440 634l8 8m-8 0l8-8M442 634l8 8m-8 0l8-8M447 635l8 8m-8 0l8-8M460 635l8 8m-8 0l8-8M483 635l8 8m-8 0l8-8M486 634l8 8m-8 0l8-8M504 634l8 8m-8 0l8-8M505 635l8 8m-8 0l8-8M507 634l8 8m-8 0l8-8M516 635l8 8m-8 0l8-8M525 634l8 8m-8 0l8-8M526 635l8 8m-8 0l8-8M527 634l8 8m-8 0l8-8M530 635l8 8m-8 0l8-8M533 634l8 8m-8 0l8-8M534 634l8 8m-8 0l8-8M551 635l8 8m-8 0l8-8M558 634l8 8m-8 0l8-8M567 635l8 8m-8 0l8-8M569 635l8 8m-8 0l8-8M572 634l8 8m-8 0l8-8M574 635l8 8m-8 0l8-8M597 634l8 8m-8 0l8-8M614 634l8 8m-8 0l8-8M614 634l8 8m-8 0l8-8M628 634l8 8m-8 0l8-8M641 634l8 8m-8 0l8-8M657 634l8 8m-8 0l8-8M661 634l8 8m-8 0l8-8M663 634l8 8m-8 0l8-8M671 634l8 8m-8 0l8-8M679 635l8 8m-8 0l8-8M687 634l8 8m-8 0l8-8M704 634l8 8m-8 0l8-8M443 636l8 8m-8 0l8-8M449 635l8 8m-8 0l8-8M458 636l8 8m-8 0l8-8M461 636l8 8m-8 0l8-8M466 635l8 8m-8 0l8-8M469 635l8 8m-8 0l8-8M472 635l8 8m-8 0l8-8M476 635l8 8m-8 0l8-8M488 636l8 8m-8 0l8-8M490 635l8 8m-8 0l8-8M492 636l8 8m-8 0l8-8M496 635l8 8m-8 0l8-8M498 635l8 8m-8 0l8-8M503 636l8 8m-8 0l8-8M507 636l8 8m-8 0l8-8M512 636l8 8m-8 0l8-8M519 635l8 8m-8 0l8-8M532 635l8 8m-8 0l8-8M537 636l8 8m-8 0l8-8M553 636l8 8m-8 0l8-8M567 635l8 8m-8 0l8-8M571 635l8 8m-8 0l8-8M588 636l8 8m-8 0l8-8M592 636l8 8m-8 0l8-8M600 635l8 8m-8 0l8-8M624 636l8 8m-8 0l8-8M628 635l8 8m-8 0l8-8M694 636l8 8m-8 0l8-8M704 635l8 8m-8 0l8-8M433 637l8 8m-8 0l8-8M443 636l8 8m-8 0l8-8M452 636l8 8m-8 0l8-8M454 637l8 8m-8 0l8-8M466 636l8 8m-8 0l8-8M487 636l8 8m-8 0l8-8M498 637l8 8m-8 0l8-8M503 636l8 8m-8 0l8-8M507 636l8 8m-8 0l8-8M509 636l8 8m-8 0l8-8M517 636l8 8m-8 0l8-8M529 637l8 8m-8 0l8-8M533 637l8 8m-8 0l8-8M538 636l8 8m-8 0l8-8M555 637l8 8m-8 0l8-8M558 637l8 8m-8 0l8-8M569 636l8 8m-8 0l8-8M589 636l8 8m-8 0l8-8M597 637l8 8m-8 0l8-8M603 636l8 8m-8 0l8-8M605 637l8 8m-8 0l8-8M606 636l8 8m-8 0l8-8M607 636l8 8m-8 0l8-8M612 637l8 8m-8 0l8-8M623 637l8 8m-8 0l8-8M638 637l8 8m-8 0l8-8M648 637l8 8m-8 0l8-8M663 637l8 8m-8 0l8-8M672 637l8 8m-8 0l8-8M674 636l8 8m-8 0l8-8M677 637l8 8m-8 0l8-8M682 637l8 8m-8 0l8-8M709 636l8 8m-8 0l8-8M711 636l8 8m-8 0l8-8M432 637l8 8m-8 0l8-8M448 638l8 8m-8 0l8-8M459 637l8 8m-8 0l8-8M474 637l8 8m-8 0l8-8M480 638l8 8m-8 0l8-8M481 637l8 8m-8 0l8-8M486 638l8 8m-8 0l8-8M490 638l8 8m-8 0l8-8M506 638l8 8m-8 0l8-8M509 638l8 8m-8 0l8-8M525 637l8 8m-8 0l8-8M531 638l8 8m-8 0l8-8M532 637l8 8m-8 0l8-8M537 638l8 8m-8 0l8-8M550 638l8 8m-8 0l8-8M553 638l8 8m-8 0l8-8M553 637l8 8m-8 0l8-8M557 638l8 8m-8 0l8-8M557 637l8 8m-8 0l8-8M571 638l8 8m-8 0l8-8M572 637l8 8m-8 0l8-8M575 637l8 8m-8 0l8-8M605 637l8 8m-8 0l8-8M607 638l8 8m-8 0l8-8M623 638l8 8m-8 0l8-8M624 638l8 8m-8 0l8-8M632 637l8 8m-8 0l8-8M633 638l8 8m-8 0l8-8M635 638l8 8m-8 0l8-8M642 637l8 8m-8 0l8-8M658 637l8 8m-8 0l8-8M661 638l8 8m-8 0l8-8M672 637l8 8m-8 0l8-8M681 638l8 8m-8 0l8-8M686 637l8 8m-8 0l8-8M689 638l8 8m-8 0l8-8M692 638l8 8m-8 0l8-8M693 638l8 8m-8 0l8-8M694 638l8 8m-8 0l8-8M711 637l8 8m-8 0l8-8M432 639l8 8m-8 0l8-8M434 639l8 8m-8 0l8-8M435 638l8 8m-8 0l8-8M440 639l8 8m-8 0l8-8M442 639l8 8m-8 0l8-8M443 639l8 8m-8 0l8-8M447 638l8 8m-8 0l8-8M450 639l8 8m-8 0l8-8M463 639l8 8m-8 0l8-8M482 638l8 8m-8 0l8-8M497 639l8 8m-8 0l8-8M504 638l8 8m-8 0l8-8M508 639l8 8m-8 0l8-8M529 639l8 8m-8 0l8-8M535 639l8 8m-8 0l8-8M537 639l8 8m-8 0l8-8M547 638l8 8m-8 0l8-8M548 639l8 8m-8 0l8-8M550 639l8 8m-8 0l8-8M555 638l8 8m-8 0l8-8M587 639l8 8m-8 0l8-8M589 639l8 8m-8 0l8-8M589 639l8 8m-8 0l8-8M590 639l8 8m-8 0l8-8M592 638l8 8m-8 0l8-8M595 639l8 8m-8 0l8-8M596 639l8 8m-8 0l8-8M603 638l8 8m-8 0l8-8M626 638l8 8m-8 0l8-8M628 638l8 8m-8 0l8-8M629 639l8 8m-8 0l8-8M657 639l8 8m-8 0l8-8M671 639l8 8m-8 0l8-8M675 638l8 8m-8 0l8-8M694 639l8 8m-8 0l8-8M707 638l8 8m-8 0l8-8M430 640l8 8m-8 0l8-8M440 640l8 8m-8 0l8-8M444 640l8 8m-8 0l8-8M458 640l8 8m-8 0l8-8M476 639l8 8m-8 0l8-8M482 640l8 8m-8 0l8-8M483 640l8 8m-8 0l8-8M489 639l8 8m-8 0l8-8M491 640l8 8m-8 0l8-8M515 639l8 8m-8 0l8-8M519 639l8 8m-8 0l8-8M525 640l8 8m-8 0l8-8M556 639l8 8m-8 0l8-8M564 639l8 8m-8 0l8-8M572 640l8 8m-8 0l8-8M584 640l8 8m-8 0l8-8M585 639l8 8m-8 0l8-8M591 639l8 8m-8 0l8-8M597 640l8 8m-8 0l8-8M599 639l8 8m-8 0l8-8M602 640l8 8m-8 0l8-8M612 640l8 8m-8 0l8-8M630 639l8 8m-8 0l8-8M640 640l8 8m-8 0l8-8M649 640l8 8m-8 0l8-8M664 640l8 8m-8 0l8-8M667 640l8 8m-8 0l8-8M685 640l8 8m-8 0l8-8M689 639l8 8m-8 0l8-8M698 639l8 8m-8 0l8-8M701 640l8 8m-8 0l8-8M709 640l8 8m-8 0l8-8M711 640l8 8m-8 0l8-8M443 641l8 8m-8 0l8-8M446 640l8 8m-8 0l8-8M459 640l8 8m-8 0l8-8M467 641l8 8m-8 0l8-8M482 640l8 8m-8 0l8-8M486 641l8 8m-8 0l8-8M499 641l8 8m-8 0l8-8M508 641l8 8m-8 0l8-8M519 640l8 8m-8 0l8-8M525 641l8 8m-8 0l8-8M531 641l8 8m-8 0l8-8M532 641l8 8m-8 0l8-8M546 641l8 8m-8 0l8-8M552 640l8 8m-8 0l8-8M554 641l8 8m-8 0l8-8M557 641l8 8m-8 0l8-8M564 641l8 8m-8 0l8-8M565 641l8 8m-8 0l8-8M570 640l8 8m-8 0l8-8M573 640l8 8m-8 0l8-8M582 641l8 8m-8 0l8-8M582 640l8 8m-8 0l8-8M587 641l8 8m-8 0l8-8M589 641l8 8m-8 0l8-8M590 641l8 8m-8 0l8-8M591 641l8 8m-8 0l8-8M603 641l8 8m-8 0l8-8M620 641l8 8m-8 0l8-8M654 640l8 8m-8 0l8-8M669 640l8 8m-8 0l8-8M687 641l8 8m-8 0l8-8M433 642l8 8m-8 0l8-8M457 642l8 8m-8 0l8-8M465 641l8 8m-8 0l8-8M477 642l8 8m-8 0l8-8M486 641l8 8m-8 0l8-8M489 642l8 8m-8 0l8-8M499 642l8 8m-8 0l8-8M500 641l8 8m-8 0l8-8M505 642l8 8m-8 0l8-8M510 642l8 8m-8 0l8-8M515 641l8 8m-8 0l8-8M527 642l8 8m-8 0l8-8M529 642l8 8m-8 0l8-8M547 642l8 8m-8 0l8-8M573 642l8 8m-8 0l8-8M602 641l8 8m-8 0l8-8M632 641l8 8m-8 0l8-8M654 642l8 8m-8 0l8-8M672 642l8 8m-8 0l8-8M436 643l8 8m-8 0l8-8M443 643l8 8m-8 0l8-8M453 643l8 8m-8 0l8-8M474 643l8 8m-8 0l8-8M503 643l8 8m-8 0l8-8M506 643l8 8m-8 0l8-8M509 643l8 8m-8 0l8-8M515 642l8 8m-8 0l8-8M539 643l8 8m-8 0l8-8M566 643l8 8m-8 0l8-8M569 643l8 8m-8 0l8-8M571 643l8 8m-8 0l8-8M572 643l8 8m-8 0l8-8M583 642l8 8m-8 0l8-8M586 643l8 8m-8 0l8-8M591 643l8 8m-8 0l8-8M592 643l8 8m-8 0l8-8M596 643l8 8m-8 0l8-8M602 643l8 8m-8 0l8-8M605 642l8 8m-8 0l8-8M610 643l8 8m-8 0l8-8M611 643l8 8m-8 0l8-8M652 643l8 8m-8 0l8-8M667 643l8 8m-8 0l8-8M672 643l8 8m-8 0l8-8M674 643l8 8m-8 0l8-8M676 643l8 8m-8 0l8-8M697 643l8 8m-8 0l8-8M702 643l8 8m-8 0l8-8M433 643l8 8m-8 0l8-8M443 644l8 8m-8 0l8-8M463 644l8 8m-8 0l8-8M468 644l8 8m-8 0l8-8M473 644l8 8m-8 0l8-8M483 644l8 8m-8 0l8-8M486 644l8 8m-8 0l8-8M487 644l8 8m-8 0l8-8M492 644l8 8m-8 0l8-8M505 644l8 8m-8 0l8-8M509 644l8 8m-8 0l8-8M520 644l8 8m-8 0l8-8M525 644l8 8m-8 0l8-8M528 644l8 8m-8 0l8-8M539 643l8 8m-8 0l8-8M541 644l8 8m-8 0l8-8M548 644l8 8m-8 0l8-8M561 644l8 8m-8 0l8-8M564 644l8 8m-8 0l8-8M566 644l8 8m-8 0l8-8M573 644l8 8m-8 0l8-8M574 643l8 8m-8 0l8-8M579 644l8 8m-8 0l8-8M582 644l8 8m-8 0l8-8M609 644l8 8m-8 0l8-8M648 644l8 8m-8 0l8-8M700 643l8 8m-8 0l8-8M430 645l8 8m-8 0l8-8M431 644l8 8m-8 0l8-8M445 645l8 8m-8 0l8-8M450 645l8 8m-8 0l8-8M459 645l8 8m-8 0l8-8M499 645l8 8m-8 0l8-8M504 645l8 8m-8 0l8-8M511 645l8 8m-8 0l8-8M527 645l8 8m-8 0l8-8M533 645l8 8m-8 0l8-8M539 645l8 8m-8 0l8-8M545 645l8 8m-8 0l8-8M546 645l8 8m-8 0l8-8M549 645l8 8m-8 0l8-8M550 645l8 8m-8 0l8-8M562 645l8 8m-8 0l8-8M567 645l8 8m-8 0l8-8M578 645l8 8m-8 0l8-8M582 645l8 8m-8 0l8-8M609 645l8 8m-8 0l8-8M612 644l8 8m-8 0l8-8M624 645l8 8m-8 0l8-8M633 645l8 8m-8 0l8-8M648 645l8 8m-8 0l8-8M668 645l8 8m-8 0l8-8M672 645l8 8m-8 0l8-8M694 644l8 8m-8 0l8-8M701 645l8 8m-8 0l8-8M709 645l8 8m-8 0l8-8M430 646l8 8m-8 0l8-8M444 646l8 8m-8 0l8-8M453 646l8 8m-8 0l8-8M456 646l8 8m-8 0l8-8M489 646l8 8m-8 0l8-8M499 646l8 8m-8 0l8-8M500 646l8 8m-8 0l8-8M519 646l8 8m-8 0l8-8M521 646l8 8m-8 0l8-8M525 646l8 8m-8 0l8-8M538 646l8 8m-8 0l8-8M550 646l8 8m-8 0l8-8M563 646l8 8m-8 0l8-8M582 646l8 8m-8 0l8-8M602 646l8 8m-8 0l8-8M606 646l8 8m-8 0l8-8M611 646l8 8m-8 0l8-8M644 646l8 8m-8 0l8-8M665 646l8 8m-8 0l8-8M672 645l8 8m-8 0l8-8M685 646l8 8m-8 0l8-8M689 646l8 8m-8 0l8-8M709 646l8 8m-8 0l8-8M449 647l8 8m-8 0l8-8M461 647l8 8m-8 0l8-8M465 647l8 8m-8 0l8-8M494 647l8 8m-8 0l8-8M497 647l8 8m-8 0l8-8M510 647l8 8m-8 0l8-8M515 648l8 8m-8 0l8-8M518 647l8 8m-8 0l8-8M520 647l8 8m-8 0l8-8M547 647l8 8m-8 0l8-8M549 647l8 8m-8 0l8-8M555 647l8 8m-8 0l8-8M568 647l8 8m-8 0l8-8M587 647l8 8m-8 0l8-8M592 647l8 8m-8 0l8-8M599 647l8 8m-8 0l8-8M605 647l8 8m-8 0l8-8M607 647l8 8m-8 0l8-8M609 648l8 8m-8 0l8-8M616 647l8 8m-8 0l8-8M619 647l8 8m-8 0l8-8M626 647l8 8m-8 0l8-8M629 647l8 8m-8 0l8-8M640 647l8 8m-8 0l8-8M654 647l8 8m-8 0l8-8M658 647l8 8m-8 0l8-8M676 647l8 8m-8 0l8-8M704 647l8 8m-8 0l8-8M706 647l8 8m-8 0l8-8M708 647l8 8m-8 0l8-8M711 647l8 8m-8 0l8-8M441 648l8 8m-8 0l8-8M449 648l8 8m-8 0l8-8M471 648l8 8m-8 0l8-8M494 648l8 8m-8 0l8-8M494 649l8 8m-8 0l8-8M495 648l8 8m-8 0l8-8M498 648l8 8m-8 0l8-8M500 648l8 8m-8 0l8-8M524 648l8 8m-8 0l8-8M530 648l8 8m-8 0l8-8M553 648l8 8m-8 0l8-8M569 648l8 8m-8 0l8-8M572 648l8 8m-8 0l8-8M580 648l8 8m-8 0l8-8M581 648l8 8m-8 0l8-8M584 648l8 8m-8 0l8-8M587 648l8 8m-8 0l8-8M589 648l8 8m-8 0l8-8M593 648l8 8m-8 0l8-8M601 648l8 8m-8 0l8-8M606 648l8 8m-8 0l8-8M624 648l8 8m-8 0l8-8M639 648l8 8m-8 0l8-8M641 648l8 8m-8 0l8-8M670 648l8 8m-8 0l8-8M673 649l8 8m-8 0l8-8M691 648l8 8m-8 0l8-8M711 648l8 8m-8 0l8-8M438 649l8 8m-8 0l8-8M489 650l8 8m-8 0l8-8M494 649l8 8m-8 0l8-8M497 649l8 8m-8 0l8-8M498 649l8 8m-8 0l8-8M506 649l8 8m-8 0l8-8M510 649l8 8m-8 0l8-8M519 649l8 8m-8 0l8-8M520 649l8 8m-8 0l8-8M529 650l8 8m-8 0l8-8M530 649l8 8m-8 0l8-8M554 649l8 8m-8 0l8-8M558 650l8 8m-8 0l8-8M559 650l8 8m-8 0l8-8M567 649l8 8m-8 0l8-8M571 650l8 8m-8 0l8-8M572 649l8 8m-8 0l8-8M590 649l8 8m-8 0l8-8M592 649l8 8m-8 0l8-8M596 649l8 8m-8 0l8-8M597 649l8 8m-8 0l8-8M601 649l8 8m-8 0l8-8M604 649l8 8m-8 0l8-8M608 649l8 8m-8 0l8-8M610 650l8 8m-8 0l8-8M617 650l8 8m-8 0l8-8M640 649l8 8m-8 0l8-8M655 649l8 8m-8 0l8-8M684 649l8 8m-8 0l8-8M712 649l8 8m-8 0l8-8M429 650l8 8m-8 0l8-8M446 650l8 8m-8 0l8-8M464 650l8 8m-8 0l8-8M479 650l8 8m-8 0l8-8M481 650l8 8m-8 0l8-8M483 651l8 8m-8 0l8-8M489 651l8 8m-8 0l8-8M496 650l8 8m-8 0l8-8M496 650l8 8m-8 0l8-8M513 650l8 8m-8 0l8-8M516 650l8 8m-8 0l8-8M524 650l8 8m-8 0l8-8M525 650l8 8m-8 0l8-8M533 650l8 8m-8 0l8-8M563 650l8 8m-8 0l8-8M570 650l8 8m-8 0l8-8M572 650l8 8m-8 0l8-8M584 650l8 8m-8 0l8-8M589 650l8 8m-8 0l8-8M602 650l8 8m-8 0l8-8M607 650l8 8m-8 0l8-8M610 650l8 8m-8 0l8-8M610 650l8 8m-8 0l8-8M618 650l8 8m-8 0l8-8M622 650l8 8m-8 0l8-8M633 651l8 8m-8 0l8-8M635 651l8 8m-8 0l8-8M639 651l8 8m-8 0l8-8M650 650l8 8m-8 0l8-8M651 650l8 8m-8 0l8-8M667 651l8 8m-8 0l8-8M674 650l8 8m-8 0l8-8M689 651l8 8m-8 0l8-8M706 650l8 8m-8 0l8-8M465 651l8 8m-8 0l8-8M472 651l8 8m-8 0l8-8M475 652l8 8m-8 0l8-8M491 651l8 8m-8 0l8-8M499 651l8 8m-8 0l8-8M505 651l8 8m-8 0l8-8M507 651l8 8m-8 0l8-8M518 652l8 8m-8 0l8-8M547 651l8 8m-8 0l8-8M554 651l8 8m-8 0l8-8M557 651l8 8m-8 0l8-8M562 652l8 8m-8 0l8-8M563 651l8 8m-8 0l8-8M580 651l8 8m-8 0l8-8M582 651l8 8m-8 0l8-8M584 651l8 8m-8 0l8-8M587 651l8 8m-8 0l8-8M593 651l8 8m-8 0l8-8M604 652l8 8m-8 0l8-8M607 652l8 8m-8 0l8-8M616 651l8 8m-8 0l8-8M640 651l8 8m-8 0l8-8M648 651l8 8m-8 0l8-8M656 651l8 8m-8 0l8-8M656 651l8 8m-8 0l8-8M678 651l8 8m-8 0l8-8M702 652l8 8m-8 0l8-8M452 653l8 8m-8 0l8-8M456 652l8 8m-8 0l8-8M491 652l8 8m-8 0l8-8M491 652l8 8m-8 0l8-8M497 652l8 8m-8 0l8-8M507 652l8 8m-8 0l8-8M508 652l8 8m-8 0l8-8M509 652l8 8m-8 0l8-8M536 653l8 8m-8 0l8-8M545 652l8 8m-8 0l8-8M546 652l8 8m-8 0l8-8M547 652l8 8m-8 0l8-8M555 653l8 8m-8 0l8-8M560 652l8 8m-8 0l8-8M572 652l8 8m-8 0l8-8M574 652l8 8m-8 0l8-8M580 652l8 8m-8 0l8-8M581 652l8 8m-8 0l8-8M588 652l8 8m-8 0l8-8M589 652l8 8m-8 0l8-8M600 653l8 8m-8 0l8-8M631 652l8 8m-8 0l8-8M640 653l8 8m-8 0l8-8M680 652l8 8m-8 0l8-8M680 653l8 8m-8 0l8-8M684 653l8 8m-8 0l8-8M445 653l8 8m-8 0l8-8M451 653l8 8m-8 0l8-8M455 654l8 8m-8 0l8-8M465 653l8 8m-8 0l8-8M491 654l8 8m-8 0l8-8M493 653l8 8m-8 0l8-8M496 653l8 8m-8 0l8-8M504 653l8 8m-8 0l8-8M505 653l8 8m-8 0l8-8M515 653l8 8m-8 0l8-8M525 654l8 8m-8 0l8-8M529 654l8 8m-8 0l8-8M536 653l8 8m-8 0l8-8M540 654l8 8m-8 0l8-8M548 654l8 8m-8 0l8-8M552 653l8 8m-8 0l8-8M562 654l8 8m-8 0l8-8M564 653l8 8m-8 0l8-8M571 654l8 8m-8 0l8-8M582 653l8 8m-8 0l8-8M592 653l8 8m-8 0l8-8M602 653l8 8m-8 0l8-8M606 654l8 8m-8 0l8-8M608 654l8 8m-8 0l8-8M614 653l8 8m-8 0l8-8M623 654l8 8m-8 0l8-8M669 653l8 8m-8 0l8-8M684 653l8 8m-8 0l8-8M692 653l8 8m-8 0l8-8M694 653l8 8m-8 0l8-8M698 653l8 8m-8 0l8-8M711 654l8 8m-8 0l8-8M713 654l8 8m-8 0l8-8M491 654l8 8m-8 0l8-8M503 654l8 8m-8 0l8-8M509 655l8 8m-8 0l8-8M513 655l8 8m-8 0l8-8M515 654l8 8m-8 0l8-8M523 654l8 8m-8 0l8-8M532 654l8 8m-8 0l8-8M538 655l8 8m-8 0l8-8M549 654l8 8m-8 0l8-8M558 655l8 8m-8 0l8-8M566 655l8 8m-8 0l8-8M582 655l8 8m-8 0l8-8M585 655l8 8m-8 0l8-8M588 654l8 8m-8 0l8-8M591 654l8 8m-8 0l8-8M593 654l8 8m-8 0l8-8M602 654l8 8m-8 0l8-8M605 654l8 8m-8 0l8-8M608 655l8 8m-8 0l8-8M668 654l8 8m-8 0l8-8M671 655l8 8m-8 0l8-8M682 655l8 8m-8 0l8-8M458 656l8 8m-8 0l8-8M475 655l8 8m-8 0l8-8M490 656l8 8m-8 0l8-8M495 655l8 8m-8 0l8-8M496 656l8 8m-8 0l8-8M511 655l8 8m-8 0l8-8M512 655l8 8m-8 0l8-8M521 655l8 8m-8 0l8-8M525 655l8 8m-8 0l8-8M531 656l8 8m-8 0l8-8M538 655l8 8m-8 0l8-8M548 655l8 8m-8 0l8-8M550 656l8 8m-8 0l8-8M562 655l8 8m-8 0l8-8M563 656l8 8m-8 0l8-8M564 655l8 8m-8 0l8-8M565 655l8 8m-8 0l8-8M569 656l8 8m-8 0l8-8M572 655l8 8m-8 0l8-8M584 655l8 8m-8 0l8-8M589 655l8 8m-8 0l8-8M590 656l8 8m-8 0l8-8M597 655l8 8m-8 0l8-8M604 655l8 8m-8 0l8-8M607 656l8 8m-8 0l8-8M608 655l8 8m-8 0l8-8M628 656l8 8m-8 0l8-8M629 656l8 8m-8 0l8-8M639 656l8 8m-8 0l8-8M644 655l8 8m-8 0l8-8M651 656l8 8m-8 0l8-8M704 655l8 8m-8 0l8-8M469 657l8 8m-8 0l8-8M471 657l8 8m-8 0l8-8M487 656l8 8m-8 0l8-8M500 656l8 8m-8 0l8-8M512 656l8 8m-8 0l8-8M521 656l8 8m-8 0l8-8M530 656l8 8m-8 0l8-8M531 657l8 8m-8 0l8-8M546 657l8 8m-8 0l8-8M550 656l8 8m-8 0l8-8M551 657l8 8m-8 0l8-8M554 657l8 8m-8 0l8-8M559 656l8 8m-8 0l8-8M565 656l8 8m-8 0l8-8M578 656l8 8m-8 0l8-8M583 657l8 8m-8 0l8-8M592 657l8 8m-8 0l8-8M606 657l8 8m-8 0l8-8M609 657l8 8m-8 0l8-8M632 656l8 8m-8 0l8-8M638 656l8 8m-8 0l8-8M657 657l8 8m-8 0l8-8M675 656l8 8m-8 0l8-8M689 656l8 8m-8 0l8-8M434 657l8 8m-8 0l8-8M438 657l8 8m-8 0l8-8M460 658l8 8m-8 0l8-8M488 658l8 8m-8 0l8-8M489 658l8 8m-8 0l8-8M492 658l8 8m-8 0l8-8M493 658l8 8m-8 0l8-8M495 657l8 8m-8 0l8-8M506 658l8 8m-8 0l8-8M507 657l8 8m-8 0l8-8M518 658l8 8m-8 0l8-8M520 657l8 8m-8 0l8-8M530 658l8 8m-8 0l8-8M547 658l8 8m-8 0l8-8M550 658l8 8m-8 0l8-8M561 657l8 8m-8 0l8-8M564 657l8 8m-8 0l8-8M582 658l8 8m-8 0l8-8M585 658l8 8m-8 0l8-8M590 657l8 8m-8 0l8-8M592 658l8 8m-8 0l8-8M603 658l8 8m-8 0l8-8M618 658l8 8m-8 0l8-8M627 657l8 8m-8 0l8-8M673 657l8 8m-8 0l8-8M434 659l8 8m-8 0l8-8M460 659l8 8m-8 0l8-8M474 659l8 8m-8 0l8-8M493 659l8 8m-8 0l8-8M519 659l8 8m-8 0l8-8M519 658l8 8m-8 0l8-8M539 659l8 8m-8 0l8-8M541 659l8 8m-8 0l8-8M549 658l8 8m-8 0l8-8M552 659l8 8m-8 0l8-8M555 659l8 8m-8 0l8-8M560 659l8 8m-8 0l8-8M564 659l8 8m-8 0l8-8M567 659l8 8m-8 0l8-8M571 659l8 8m-8 0l8-8M574 659l8 8m-8 0l8-8M580 659l8 8m-8 0l8-8M591 659l8 8m-8 0l8-8M598 659l8 8m-8 0l8-8M601 658l8 8m-8 0l8-8M607 659l8 8m-8 0l8-8M610 659l8 8m-8 0l8-8M627 658l8 8m-8 0l8-8M655 659l8 8m-8 0l8-8M459 660l8 8m-8 0l8-8M481 660l8 8m-8 0l8-8M495 660l8 8m-8 0l8-8M499 659l8 8m-8 0l8-8M534 659l8 8m-8 0l8-8M541 660l8 8m-8 0l8-8M546 659l8 8m-8 0l8-8M550 660l8 8m-8 0l8-8M569 660l8 8m-8 0l8-8M581 660l8 8m-8 0l8-8M589 660l8 8m-8 0l8-8M593 660l8 8m-8 0l8-8M612 660l8 8m-8 0l8-8M640 660l8 8m-8 0l8-8M654 659l8 8m-8 0l8-8M675 660l8 8m-8 0l8-8M488 661l8 8m-8 0l8-8M491 661l8 8m-8 0l8-8M496 661l8 8m-8 0l8-8M504 661l8 8m-8 0l8-8M507 660l8 8m-8 0l8-8M508 661l8 8m-8 0l8-8M510 661l8 8m-8 0l8-8M512 661l8 8m-8 0l8-8M517 661l8 8m-8 0l8-8M530 661l8 8m-8 0l8-8M532 661l8 8m-8 0l8-8M545 661l8 8m-8 0l8-8M546 661l8 8m-8 0l8-8M559 661l8 8m-8 0l8-8M562 661l8 8m-8 0l8-8M579 660l8 8m-8 0l8-8M585 661l8 8m-8 0l8-8M586 660l8 8m-8 0l8-8M588 660l8 8m-8 0l8-8M589 661l8 8m-8 0l8-8M591 661l8 8m-8 0l8-8M593 661l8 8m-8 0l8-8M596 661l8 8m-8 0l8-8M603 660l8 8m-8 0l8-8M606 660l8 8m-8 0l8-8M664 661l8 8m-8 0l8-8M700 660l8 8m-8 0l8-8M465 662l8 8m-8 0l8-8M488 662l8 8m-8 0l8-8M500 662l8 8m-8 0l8-8M500 661l8 8m-8 0l8-8M502 662l8 8m-8 0l8-8M504 662l8 8m-8 0l8-8M508 662l8 8m-8 0l8-8M514 662l8 8m-8 0l8-8M518 662l8 8m-8 0l8-8M532 662l8 8m-8 0l8-8M549 661l8 8m-8 0l8-8M551 662l8 8m-8 0l8-8M573 662l8 8m-8 0l8-8M585 662l8 8m-8 0l8-8M612 662l8 8m-8 0l8-8M620 662l8 8m-8 0l8-8M487 663l8 8m-8 0l8-8M498 663l8 8m-8 0l8-8M498 663l8 8m-8 0l8-8M503 663l8 8m-8 0l8-8M510 663l8 8m-8 0l8-8M515 663l8 8m-8 0l8-8M519 663l8 8m-8 0l8-8M521 663l8 8m-8 0l8-8M557 663l8 8m-8 0l8-8M562 663l8 8m-8 0l8-8M596 663l8 8m-8 0l8-8M708 663l8 8m-8 0l8-8M433 664l8 8m-8 0l8-8M486 663l8 8m-8 0l8-8M490 664l8 8m-8 0l8-8M498 664l8 8m-8 0l8-8M505 664l8 8m-8 0l8-8M509 664l8 8m-8 0l8-8M518 664l8 8m-8 0l8-8M538 664l8 8m-8 0l8-8M550 664l8 8m-8 0l8-8M561 664l8 8m-8 0l8-8M567 664l8 8m-8 0l8-8M582 664l8 8m-8 0l8-8M596 663l8 8m-8 0l8-8M607 664l8 8m-8 0l8-8M608 664l8 8m-8 0l8-8M609 664l8 8m-8 0l8-8M632 663l8 8m-8 0l8-8M450 665l8 8m-8 0l8-8M486 665l8 8m-8 0l8-8M496 664l8 8m-8 0l8-8M500 665l8 8m-8 0l8-8M503 665l8 8m-8 0l8-8M505 665l8 8m-8 0l8-8M510 665l8 8m-8 0l8-8M512 664l8 8m-8 0l8-8M517 665l8 8m-8 0l8-8M527 665l8 8m-8 0l8-8M532 665l8 8m-8 0l8-8M536 665l8 8m-8 0l8-8M538 665l8 8m-8 0l8-8M541 665l8 8m-8 0l8-8M553 665l8 8m-8 0l8-8M553 665l8 8m-8 0l8-8M559 665l8 8m-8 0l8-8M565 665l8 8m-8 0l8-8M581 665l8 8m-8 0l8-8M584 665l8 8m-8 0l8-8M589 665l8 8m-8 0l8-8M591 665l8 8m-8 0l8-8M602 665l8 8m-8 0l8-8M650 665l8 8m-8 0l8-8M497 666l8 8m-8 0l8-8M500 666l8 8m-8 0l8-8M511 666l8 8m-8 0l8-8M514 666l8 8m-8 0l8-8M519 666l8 8m-8 0l8-8M521 666l8 8m-8 0l8-8M539 666l8 8m-8 0l8-8M574 666l8 8m-8 0l8-8M581 666l8 8m-8 0l8-8M590 666l8 8m-8 0l8-8M594 666l8 8m-8 0l8-8M598 666l8 8m-8 0l8-8M684 666l8 8m-8 0l8-8M429 667l8 8m-8 0l8-8M490 667l8 8m-8 0l8-8M501 667l8 8m-8 0l8-8M514 667l8 8m-8 0l8-8M515 667l8 8m-8 0l8-8M517 668l8 8m-8 0l8-8M517 667l8 8m-8 0l8-8M522 667l8 8m-8 0l8-8M523 667l8 8m-8 0l8-8M529 667l8 8m-8 0l8-8M558 667l8 8m-8 0l8-8M591 667l8 8m-8 0l8-8M598 667l8 8m-8 0l8-8M489 668l8 8m-8 0l8-8M499 668l8 8m-8 0l8-8M502 668l8 8m-8 0l8-8M509 668l8 8m-8 0l8-8M511 668l8 8m-8 0l8-8M512 668l8 8m-8 0l8-8M515 668l8 8m-8 0l8-8M522 669l8 8m-8 0l8-8M557 668l8 8m-8 0l8-8M560 668l8 8m-8 0l8-8M563 669l8 8m-8 0l8-8M575 669l8 8m-8 0l8-8M579 668l8 8m-8 0l8-8M587 668l8 8m-8 0l8-8M589 668l8 8m-8 0l8-8M594 668l8 8m-8 0l8-8M598 668l8 8m-8 0l8-8M606 668l8 8m-8 0l8-8M474 669l8 8m-8 0l8-8M498 669l8 8m-8 0l8-8M502 670l8 8m-8 0l8-8M524 669l8 8m-8 0l8-8M531 670l8 8m-8 0l8-8M532 670l8 8m-8 0l8-8M534 669l8 8m-8 0l8-8M567 670l8 8m-8 0l8-8M584 669l8 8m-8 0l8-8M588 669l8 8m-8 0l8-8M589 669l8 8m-8 0l8-8M592 670l8 8m-8 0l8-8M597 669l8 8m-8 0l8-8M602 669l8 8m-8 0l8-8M633 669l8 8m-8 0l8-8M493 670l8 8m-8 0l8-8M495 671l8 8m-8 0l8-8M498 670l8 8m-8 0l8-8M513 670l8 8m-8 0l8-8M537 670l8 8m-8 0l8-8M547 671l8 8m-8 0l8-8M558 670l8 8m-8 0l8-8M565 670l8 8m-8 0l8-8M580 670l8 8m-8 0l8-8M588 671l8 8m-8 0l8-8M591 670l8 8m-8 0l8-8M593 671l8 8m-8 0l8-8M606 671l8 8m-8 0l8-8M686 670l8 8m-8 0l8-8M486 671l8 8m-8 0l8-8M490 671l8 8m-8 0l8-8M494 671l8 8m-8 0l8-8M496 671l8 8m-8 0l8-8M500 672l8 8m-8 0l8-8M502 671l8 8m-8 0l8-8M533 672l8 8m-8 0l8-8M537 671l8 8m-8 0l8-8M538 671l8 8m-8 0l8-8M551 671l8 8m-8 0l8-8M569 672l8 8m-8 0l8-8M583 671l8 8m-8 0l8-8M590 671l8 8m-8 0l8-8M606 671l8 8m-8 0l8-8M488 672l8 8m-8 0l8-8M497 672l8 8m-8 0l8-8M501 672l8 8m-8 0l8-8M502 673l8 8m-8 0l8-8M514 672l8 8m-8 0l8-8M520 672l8 8m-8 0l8-8M522 672l8 8m-8 0l8-8M526 672l8 8m-8 0l8-8M528 673l8 8m-8 0l8-8M528 673l8 8m-8 0l8-8M529 672l8 8m-8 0l8-8M539 672l8 8m-8 0l8-8M541 672l8 8m-8 0l8-8M546 672l8 8m-8 0l8-8M574 672l8 8m-8 0l8-8M600 672l8 8m-8 0l8-8M486 674l8 8m-8 0l8-8M488 674l8 8m-8 0l8-8M496 673l8 8m-8 0l8-8M497 674l8 8m-8 0l8-8M500 673l8 8m-8 0l8-8M503 674l8 8m-8 0l8-8M506 673l8 8m-8 0l8-8M511 674l8 8m-8 0l8-8M523 674l8 8m-8 0l8-8M549 674l8 8m-8 0l8-8M594 674l8 8m-8 0l8-8M598 674l8 8m-8 0l8-8M490 675l8 8m-8 0l8-8M492 674l8 8m-8 0l8-8M494 674l8 8m-8 0l8-8M495 674l8 8m-8 0l8-8M497 675l8 8m-8 0l8-8M505 674l8 8m-8 0l8-8M513 675l8 8m-8 0l8-8M518 674l8 8m-8 0l8-8M531 675l8 8m-8 0l8-8M531 674l8 8m-8 0l8-8M533 675l8 8m-8 0l8-8M535 674l8 8m-8 0l8-8M536 674l8 8m-8 0l8-8M539 675l8 8m-8 0l8-8M545 674l8 8m-8 0l8-8M549 674l8 8m-8 0l8-8M554 674l8 8m-8 0l8-8M594 675l8 8m-8 0l8-8M603 674l8 8m-8 0l8-8M447 675l8 8m-8 0l8-8M486 675l8 8m-8 0l8-8M490 675l8 8m-8 0l8-8M494 675l8 8m-8 0l8-8M499 675l8 8m-8 0l8-8M503 675l8 8m-8 0l8-8M512 675l8 8m-8 0l8-8M521 676l8 8m-8 0l8-8M522 675l8 8m-8 0l8-8M534 676l8 8m-8 0l8-8M564 676l8 8m-8 0l8-8M596 675l8 8m-8 0l8-8M599 675l8 8m-8 0l8-8M490 676l8 8m-8 0l8-8M495 677l8 8m-8 0l8-8M495 677l8 8m-8 0l8-8M517 677l8 8m-8 0l8-8M530 676l8 8m-8 0l8-8M584 676l8 8m-8 0l8-8M587 677l8 8m-8 0l8-8M595 677l8 8m-8 0l8-8M595 677l8 8m-8 0l8-8M494 677l8 8m-8 0l8-8M497 678l8 8m-8 0l8-8M528 677l8 8m-8 0l8-8M532 678l8 8m-8 0l8-8M593 677l8 8m-8 0l8-8M594 678l8 8m-8 0l8-8M487 679l8 8m-8 0l8-8M497 679l8 8m-8 0l8-8M501 679l8 8m-8 0l8-8M502 679l8 8m-8 0l8-8M548 679l8 8m-8 0l8-8M488 679l8 8m-8 0l8-8M496 679l8 8m-8 0l8-8M500 679l8 8m-8 0l8-8M501 680l8 8m-8 0l8-8M502 680l8 8m-8 0l8-8M505 679l8 8m-8 0l8-8M522 680l8 8m-8 0l8-8M523 680l8 8m-8 0l8-8M532 680l8 8m-8 0l8-8M536 680l8 8m-8 0l8-8M539 680l8 8m-8 0l8-8M581 680l8 8m-8 0l8-8M490 681l8 8m-8 0l8-8M496 681l8 8m-8 0l8-8M499 681l8 8m-8 0l8-8M501 681l8 8m-8 0l8-8M501 681l8 8m-8 0l8-8M505 681l8 8m-8 0l8-8M506 680l8 8m-8 0l8-8M533 681l8 8m-8 0l8-8M534 681l8 8m-8 0l8-8M537 681l8 8m-8 0l8-8M590 681l8 8m-8 0l8-8M658 680l8 8m-8 0l8-8M488 682l8 8m-8 0l8-8M497 682l8 8m-8 0l8-8M594 682l8 8m-8 0l8-8M490 683l8 8m-8 0l8-8M492 682l8 8m-8 0l8-8M495 683l8 8m-8 0l8-8M502 683l8 8m-8 0l8-8M503 683l8 8m-8 0l8-8M501 684l8 8m-8 0l8-8M502 684l8 8m-8 0l8-8M504 684l8 8m-8 0l8-8M536 684l8 8m-8 0l8-8M500 685l8 8m-8 0l8-8M501 685l8 8m-8 0l8-8M503 685l8 8m-8 0l8-8M535 684l8 8m-8 0l8-8M488 686l8 8m-8 0l8-8M496 686l8 8m-8 0l8-8M494 687l8 8m-8 0l8-8M497 687l8 8m-8 0l8-8M499 687l8 8m-8 0l8-8M503 687l8 8m-8 0l8-8M537 687l8 8m-8 0l8-8M490 688l8 8m-8 0l8-8M491 688l8 8m-8 0l8-8M493 688l8 8m-8 0l8-8M489 689l8 8m-8 0l8-8M491 689l8 8m-8 0l8-8M499 689l8 8m-8 0l8-8M537 689l8 8m-8 0l8-8M493 691l8 8m-8 0l8-8M502 693l8 8m-8 0l8-8M492 694l8 8m-8 0l8-8M490 695l8 8m-8 0l8-8M498 695l8 8m-8 0l8-8M494 695l8 8m-8 0l8-8M492 696l8 8m-8 0l8-8M501 697l8 8m-8 0l8-8M496 698l8 8m-8 0l8-8M495 702l8 8m-8 0l8-8M492 703l8 8m-8 0l8-8M494 704l8 8m-8 0l8-8M421 614l8 8m-8 0l8-8M421 656l8 8m-8 0l8-8M422 642l8 8m-8 0l8-8M421 619l8 8m-8 0l8-8M421 614l8 8m-8 0l8-8M421 653l8 8m-8 0l8-8M421 618l8 8m-8 0l8-8M421 611l8 8m-8 0l8-8M421 661l8 8m-8 0l8-8M420 659l8 8m-8 0l8-8M421 651l8 8m-8 0l8-8M421 622l8 8m-8 0l8-8M421 618l8 8m-8 0l8-8M421 647l8 8m-8 0l8-8M421 660l8 8m-8 0l8-8M421 638l8 8m-8 0l8-8M420 642l8 8m-8 0l8-8M421 638l8 8m-8 0l8-8M420 641l8 8m-8 0l8-8M421 623l8 8m-8 0l8-8M421 628l8 8m-8 0l8-8M421 639l8 8m-8 0l8-8M420 615l8 8m-8 0l8-8M421 628l8 8m-8 0l8-8M421 620l8 8m-8 0l8-8M421 652l8 8m-8 0l8-8M421 640l8 8m-8 0l8-8M421 656l8 8m-8 0l8-8M421 652l8 8m-8 0l8-8M421 623l8 8m-8 0l8-8M421 639l8 8m-8 0l8-8M421 653l8 8m-8 0l8-8M421 629l8 8m-8 0l8-8M421 634l8 8m-8 0l8-8M421 618l8 8m-8 0l8-8M421 612l8 8m-8 0l8-8M421 631l8 8m-8 0l8-8M421 613l8 8m-8 0l8-8M421 611l8 8m-8 0l8-8M421 651l8 8m-8 0l8-8M421 633l8 8m-8 0l8-8M421 610l8 8m-8 0l8-8M421 649l8 8m-8 0l8-8M421 608l8 8m-8 0l8-8M421 621l8 8m-8 0l8-8M421 653l8 8m-8 0l8-8M422 655l8 8m-8 0l8-8M421 654l8 8m-8 0l8-8M420 657l8 8m-8 0l8-8M421 633l8 8m-8 0l8-8M421 650l8 8m-8 0l8-8M422 614l8 8m-8 0l8-8M421 618l8 8m-8 0l8-8M421 656l8 8m-8 0l8-8M421 640l8 8m-8 0l8-8M421 624l8 8m-8 0l8-8M421 657l8 8m-8 0l8-8M421 625l8 8m-8 0l8-8M422 608l8 8m-8 0l8-8M421 651l8 8m-8 0l8-8M421 620l8 8m-8 0l8-8M421 628l8 8m-8 0l8-8M421 613l8 8m-8 0l8-8M421 640l8 8m-8 0l8-8M421 616l8 8m-8 0l8-8M700 624l8 8m-8 0l8-8M700 616l8 8m-8 0l8-8M699 619l8 8m-8 0l8-8M699 644l8 8m-8 0l8-8M699 624l8 8m-8 0l8-8M699 640l8 8m-8 0l8-8M699 629l8 8m-8 0l8-8M699 648l8 8m-8 0l8-8M699 631l8 8m-8 0l8-8M699 642l8 8m-8 0l8-8M700 614l8 8m-8 0l8-8M699 613l8 8m-8 0l8-8M699 642l8 8m-8 0l8-8M699 617l8 8m-8 0l8-8M700 621l8 8m-8 0l8-8M700 619l8 8m-8 0l8-8M699 622l8 8m-8 0l8-8M699 640l8 8m-8 0l8-8M700 653l8 8m-8 0l8-8M700 632l8 8m-8 0l8-8M699 648l8 8m-8 0l8-8M699 636l8 8m-8 0l8-8M700 655l8 8m-8 0l8-8M700 656l8 8m-8 0l8-8M699 640l8 8m-8 0l8-8M699 624l8 8m-8 0l8-8M699 659l8 8m-8 0l8-8M699 611l8 8m-8 0l8-8M700 636l8 8m-8 0l8-8M700 636l8 8m-8 0l8-8M700 623l8 8m-8 0l8-8M700 622l8 8m-8 0l8-8M699 637l8 8m-8 0l8-8M699 641l8 8m-8 0l8-8M700 613l8 8m-8 0l8-8M699 639l8 8m-8 0l8-8M700 623l8 8m-8 0l8-8M699 624l8 8m-8 0l8-8M700 633l8 8m-8 0l8-8M699 645l8 8m-8 0l8-8M700 637l8 8m-8 0l8-8M705 610l8 8m-8 0l8-8M705 610l8 8m-8 0l8-8M705 640l8 8m-8 0l8-8M705 647l8 8m-8 0l8-8M705 640l8 8m-8 0l8-8M705 625l8 8m-8 0l8-8M705 648l8 8m-8 0l8-8M705 612l8 8m-8 0l8-8M705 643l8 8m-8 0l8-8M705 628l8 8m-8 0l8-8M705 623l8 8m-8 0l8-8M705 616l8 8m-8 0l8-8M705 611l8 8m-8 0l8-8M705 635l8 8m-8 0l8-8M705 617l8 8m-8 0l8-8M705 655l8 8m-8 0l8-8M705 620l8 8m-8 0l8-8M705 635l8 8m-8 0l8-8M705 637l8 8m-8 0l8-8M705 647l8 8m-8 0l8-8M705 642l8 8m-8 0l8-8M705 662l8 8m-8 0l8-8M705 652l8 8m-8 0l8-8M704 635l8 8m-8 0l8-8M705 660l8 8m-8 0l8-8M705 625l8 8m-8 0l8-8M705 644l8 8m-8 0l8-8M705 637l8 8m-8 0l8-8M706 648l8 8m-8 0l8-8M705 628l8 8m-8 0l8-8M705 622l8 8m-8 0l8-8M706 660l8 8m-8 0l8-8M705 624l8 8m-8 0l8-8M705 619l8 8m-8 0l8-8M705 642l8 8m-8 0l8-8M706 629l8 8m-8 0l8-8M705 617l8 8m-8 0l8-8M705 631l8 8m-8 0l8-8M705 627l8 8m-8 0l8-8M705 658l8 8m-8 0l8-8M705 650l8 8m-8 0l8-8M718 639l8 8m-8 0l8-8M717 617l8 8m-8 0l8-8M717 657l8 8m-8 0l8-8M717 637l8 8m-8 0l8-8M717 646l8 8m-8 0l8-8M717 670l8 8m-8 0l8-8M717 659l8 8m-8 0l8-8M717 643l8 8m-8 0l8-8M718 640l8 8m-8 0l8-8M717 617l8 8m-8 0l8-8M717 623l8 8m-8 0l8-8M717 649l8 8m-8 0l8-8M717 604l8 8m-8 0l8-8M717 635l8 8m-8 0l8-8M718 668l8 8m-8 0l8-8M717 636l8 8m-8 0l8-8M718 618l8 8m-8 0l8-8M717 609l8 8m-8 0l8-8M717 658l8 8m-8 0l8-8M717 656l8 8m-8 0l8-8M717 641l8 8m-8 0l8-8M717 663l8 8m-8 0l8-8M717 616l8 8m-8 0l8-8M717 648l8 8m-8 0l8-8M717 640l8 8m-8 0l8-8M718 628l8 8m-8 0l8-8M717 647l8 8m-8 0l8-8M717 634l8 8m-8 0l8-8M717 658l8 8m-8 0l8-8M717 601l8 8m-8 0l8-8M717 669l8 8m-8 0l8-8M717 661l8 8m-8 0l8-8M718 602l8 8m-8 0l8-8M717 613l8 8m-8 0l8-8M717 615l8 8m-8 0l8-8M717 641l8 8m-8 0l8-8M717 644l8 8m-8 0l8-8M717 615l8 8m-8 0l8-8M718 652l8 8m-8 0l8-8M717 600l8 8m-8 0l8-8M717 648l8 8m-8 0l8-8M717 632l8 8m-8 0l8-8M717 603l8 8m-8 0l8-8M717 648l8 8m-8 0l8-8M717 660l8 8m-8 0l8-8M717 609l8 8m-8 0l8-8M717 625l8 8m-8 0l8-8M717 648l8 8m-8 0l8-8M718 638l8 8m-8 0l8-8M717 666l8 8m-8 0l8-8M717 630l8 8m-8 0l8-8M717 603l8 8m-8 0l8-8M717 602l8 8m-8 0l8-8M718 671l8 8m-8 0l8-8M717 629l8 8m-8 0l8-8M718 652l8 8m-8 0l8-8M718 604l8 8m-8 0l8-8M718 629l8 8m-8 0l8-8M718 658l8 8m-8 0l8-8M718 624l8 8m-8 0l8-8M717 658l8 8m-8 0l8-8M717 630l8 8m-8 0l8-8M717 607l8 8m-8 0l8-8M717 640l8 8m-8 0l8-8M717 659l8 8m-8 0l8-8M717 666l8 8m-8 0l8-8M717 640l8 8m-8 0l8-8M718 656l8 8m-8 0l8-8M717 630l8 8m-8 0l8-8M717 623l8 8m-8 0l8-8M717 648l8 8m-8 0l8-8M717 603l8 8m-8 0l8-8M717 606l8 8m-8 0l8-8M718 624l8 8m-8 0l8-8M717 634l8 8m-8 0l8-8M718 640l8 8m-8 0l8-8M717 649l8 8m-8 0l8-8M717 616l8 8m-8 0l8-8M717 641l8 8m-8 0l8-8M718 600l8 8m-8 0l8-8M718 611l8 8m-8 0l8-8M717 601l8 8m-8 0l8-8M718 644l8 8m-8 0l8-8M717 640l8 8m-8 0l8-8M717 621l8 8m-8 0l8-8M717 638l8 8m-8 0l8-8M420 593l8 8m-8 0l8-8M420 598l8 8m-8 0l8-8M420 673l8 8m-8 0l8-8M420 676l8 8m-8 0l8-8M452 596l8 8m-8 0l8-8M459 601l8 8m-8 0l8-8M441 611l8 8m-8 0l8-8M474 568l8 8m-8 0l8-8M476 596l8 8m-8 0l8-8M456 681l8 8m-8 0l8-8M444 673l8 8m-8 0l8-8M476 679l8 8m-8 0l8-8M433 619l8 8m-8 0l8-8M496 534l8 8m-8 0l8-8M490 560l8 8m-8 0l8-8M502 569l8 8m-8 0l8-8M519 572l8 8m-8 0l8-8M536 562l8 8m-8 0l8-8M554 565l8 8m-8 0l8-8M549 567l8 8m-8 0l8-8M496 730l8 8m-8 0l8-8M506 714l8 8m-8 0l8-8M542 708l8 8m-8 0l8-8M557 706l8 8m-8 0l8-8M557 695l8 8m-8 0l8-8M532 703l8 8m-8 0l8-8M487 705l8 8m-8 0l8-8M448 614l8 8m-8 0l8-8M466 611l8 8m-8 0l8-8M470 616l8 8m-8 0l8-8M437 666l8 8m-8 0l8-8M451 663l8 8m-8 0l8-8M462 669l8 8m-8 0l8-8M470 663l8 8m-8 0l8-8M513 573l8 8m-8 0l8-8M525 575l8 8m-8 0l8-8M532 572l8 8m-8 0l8-8M561 579l8 8m-8 0l8-8M566 582l8 8m-8 0l8-8M489 572l8 8m-8 0l8-8M485 578l8 8m-8 0l8-8M520 699l8 8m-8 0l8-8M512 697l8 8m-8 0l8-8M525 695l8 8m-8 0l8-8M561 677l8 8m-8 0l8-8M567 674l8 8m-8 0l8-8M572 572l8 8m-8 0l8-8M570 582l8 8m-8 0l8-8M572 687l8 8m-8 0l8-8M572 699l8 8m-8 0l8-8M595 558l8 8m-8 0l8-8M595 695l8 8m-8 0l8-8M623 578l8 8m-8 0l8-8M613 583l8 8m-8 0l8-8M633 587l8 8m-8 0l8-8M648 590l8 8m-8 0l8-8M648 596l8 8m-8 0l8-8M689 593l8 8m-8 0l8-8M701 578l8 8m-8 0l8-8M609 598l8 8m-8 0l8-8M635 607l8 8m-8 0l8-8M662 673l8 8m-8 0l8-8M648 676l8 8m-8 0l8-8M641 672l8 8m-8 0l8-8M627 672l8 8m-8 0l8-8M670 666l8 8m-8 0l8-8M703 673l8 8m-8 0l8-8M717 579l8 8m-8 0l8-8M717 587l8 8m-8 0l8-8M717 674l8 8m-8 0l8-8M602 586l8 8m-8 0l8-8M605 594l8 8m-8 0l8-8M616 605l8 8m-8 0l8-8M659 609l8 8m-8 0l8-8M667 608l8 8m-8 0l8-8M674 607l8 8m-8 0l8-8M681 614l8 8m-8 0l8-8M620 666l8 8m-8 0l8-8M634 661l8 8m-8 0l8-8M651 666l8 8m-8 0l8-8M684 661l8 8m-8 0l8-8M695 663l8 8m-8 0l8-8M584 575l8 8m-8 0l8-8M588 571l8 8m-8 0l8-8M601 688l8 8m-8 0l8-8M590 691l8 8m-8 0l8-8" stroke="#7f7f7f" stroke-width="1.68" stroke-linecap="round" fill="none"/></g>
<path d="M392.2 611.6H696.9" stroke="#000" stroke-width="2.5" stroke-dasharray="9.6 10"/>
<path d="M401.8 610.3L406.6 610.4L411.4 610.4L416.3 610.5L421.1 610.6L425.9 610.7L430.7 610.8L435.5 610.9L440.3 611L445.2 611.1L450 611.2L454.8 611.4L459.6 611.6L464.4 611.8L469.2 612.1L474.1 612.4L478.9 612.7L483.7 612.9L488.5 613L493.3 612.7L498.1 612.3L503 611.8L507.8 611.3L512.6 611.1L517.4 610.9L522.2 610.8L527 610.6L531.9 610.5L536.7 610.4L541.5 610.3L546.3 610.3L551.1 610.2L555.9 610.2L560.8 610.2L565.6 610.2L570.4 610.1L575.2 610.1L580 610.1L584.8 610.1L589.7 610.1L594.5 610L599.3 610L604.1 610L608.9 609.9L613.7 609.9L618.6 609.8L623.4 609.8L628.2 609.8L633 609.7L637.8 609.6L642.6 609.6L647.5 609.5L652.3 609.5L657.1 609.4L661.9 609.3L666.7 609.3L671.5 609.2L676.4 609.1L681.2 609.1L686 609" stroke="#f00" stroke-width="2.6" stroke-linecap="round" stroke-linejoin="round"/>
</g>
<rect x="88.0" y="120.2" width="297.2" height="193.7" fill="none" stroke="#000" stroke-width="1.6"/>
<rect x="392.2" y="120.2" width="304.7" height="193.7" fill="none" stroke="#000" stroke-width="1.6"/>
<rect x="88.0" y="321.3" width="297.2" height="175.1" fill="none" stroke="#000" stroke-width="1.6"/>
<rect x="392.2" y="321.3" width="304.7" height="175.1" fill="none" stroke="#000" stroke-width="1.6"/>
<rect x="88.0" y="504.1" width="297.2" height="200.4" fill="none" stroke="#000" stroke-width="1.6"/>
<rect x="392.2" y="504.1" width="304.7" height="200.4" fill="none" stroke="#000" stroke-width="1.6"/>
<path d="M98.6 120.2v-12.8M236.1 120.2v-12.8M373.6 120.2v-12.8M92.3 120.2v-2.6M140 120.2v-2.6M164.2 120.2v-2.6M181.4 120.2v-2.6M194.7 120.2v-2.6M205.6 120.2v-2.6M214.8 120.2v-2.6M222.8 120.2v-2.6M229.8 120.2v-2.6M277.5 120.2v-2.6M301.7 120.2v-2.6M318.9 120.2v-2.6M332.2 120.2v-2.6M343.1 120.2v-2.6M352.3 120.2v-2.6M360.3 120.2v-2.6M367.3 120.2v-2.6M403.9 120.2v-12.8M544.8 120.2v-12.8M685.6 120.2v-12.8M397.5 120.2v-2.6M446.3 120.2v-2.6M471.1 120.2v-2.6M488.7 120.2v-2.6M502.3 120.2v-2.6M513.5 120.2v-2.6M522.9 120.2v-2.6M531.1 120.2v-2.6M538.3 120.2v-2.6M587.2 120.2v-2.6M612 120.2v-2.6M629.6 120.2v-2.6M643.2 120.2v-2.6M654.4 120.2v-2.6M663.8 120.2v-2.6M672 120.2v-2.6M679.2 120.2v-2.6M98.6 704.5v12.8M236.1 704.5v12.8M373.6 704.5v12.8M92.3 704.5v2.6M140 704.5v2.6M164.2 704.5v2.6M181.4 704.5v2.6M194.7 704.5v2.6M205.6 704.5v2.6M214.8 704.5v2.6M222.8 704.5v2.6M229.8 704.5v2.6M277.5 704.5v2.6M301.7 704.5v2.6M318.9 704.5v2.6M332.2 704.5v2.6M343.1 704.5v2.6M352.3 704.5v2.6M360.3 704.5v2.6M367.3 704.5v2.6M427.9 704.5v12.8M470.7 704.5v12.8M513.5 704.5v12.8M556.3 704.5v12.8M599.1 704.5v12.8M641.9 704.5v12.8M684.7 704.5v12.8M88.0 306.9h-12.8M696.9 306.9h12.8M88.0 217.2h-12.8M696.9 217.2h12.8M88.0 127.6h-12.8M696.9 127.6h12.8M88.0 311h-2.6M696.9 311h2.6M88.0 279.9h-2.6M696.9 279.9h2.6M88.0 264.1h-2.6M696.9 264.1h2.6M88.0 252.9h-2.6M696.9 252.9h2.6M88.0 244.2h-2.6M696.9 244.2h2.6M88.0 237.1h-2.6M696.9 237.1h2.6M88.0 231.1h-2.6M696.9 231.1h2.6M88.0 225.9h-2.6M696.9 225.9h2.6M88.0 221.4h-2.6M696.9 221.4h2.6M88.0 190.3h-2.6M696.9 190.3h2.6M88.0 174.5h-2.6M696.9 174.5h2.6M88.0 163.3h-2.6M696.9 163.3h2.6M88.0 154.6h-2.6M696.9 154.6h2.6M88.0 147.5h-2.6M696.9 147.5h2.6M88.0 141.5h-2.6M696.9 141.5h2.6M88.0 136.3h-2.6M696.9 136.3h2.6M88.0 131.7h-2.6M696.9 131.7h2.6M88.0 489.9h-12.8M696.9 489.9h12.8M88.0 461.8h-12.8M696.9 461.8h12.8M88.0 433.8h-12.8M696.9 433.8h12.8M88.0 405.8h-12.8M696.9 405.8h12.8M88.0 377.7h-12.8M696.9 377.7h12.8M88.0 349.6h-12.8M696.9 349.6h12.8M88.0 681.2h-12.8M696.9 681.2h12.8M88.0 663.8h-5M696.9 663.8h5M88.0 646.4h-12.8M696.9 646.4h12.8M88.0 629h-5M696.9 629h5M88.0 611.6h-12.8M696.9 611.6h12.8M88.0 594.2h-5M696.9 594.2h5M88.0 576.8h-12.8M696.9 576.8h12.8M88.0 559.4h-5M696.9 559.4h5M88.0 542h-12.8M696.9 542h12.8" stroke="#000" stroke-width="1.6" fill="none"/>
<g font-family="Liberation Sans, Arial, Helvetica, sans-serif" fill="#000" stroke="#000" stroke-width="0.3" text-anchor="middle">
<g font-size="20.4">
<text x="392.6" y="18">Plasma</text>
<text x="236.7" y="54.8">Population predictions (mg/L)</text>
<text x="544.5" y="54.8">Individual predictions (mg/L)</text>
<text x="237.1" y="784.8">Individual predictions (mg/L)</text>
<text x="545.2" y="784.8">Time after end−of−dose (hr)</text>
<text x="98.6" y="90.9">1</text>
<text x="403.9" y="90.9">1</text>
<text x="98.6" y="748.7">1</text>
<text transform="translate(58.2 306.9) rotate(-90)">1</text>
<text transform="translate(741.2 306.9) rotate(-90)">1</text>
<text x="236.1" y="90.9">10</text>
<text x="544.8" y="90.9">10</text>
<text x="236.1" y="748.7">10</text>
<text transform="translate(58.2 217.2) rotate(-90)">10</text>
<text transform="translate(741.2 217.2) rotate(-90)">10</text>
<text x="373.6" y="90.9">100</text>
<text x="685.6" y="90.9">100</text>
<text x="373.6" y="748.7">100</text>
<text transform="translate(58.2 127.6) rotate(-90)">100</text>
<text transform="translate(741.2 127.6) rotate(-90)">100</text>
<text transform="translate(18 216.6) rotate(-90)">Observed  C<tspan font-size="13.2" dy="3.2">Plasma</tspan><tspan dy="-3.2">  (mg/L)</tspan></text>
<text transform="translate(773.4 216.6) rotate(-90)">Observed  C<tspan font-size="13.2" dy="3.2">Plasma</tspan><tspan dy="-3.2">  (mg/L)</tspan></text>
<text transform="translate(22.7 408.7) rotate(-90)">|CWRES|</text>
<text transform="translate(778 408.7) rotate(-90)">|CWRES|</text>
<text transform="translate(22.7 604) rotate(-90)">CWRES</text>
<text transform="translate(778 604) rotate(-90)">CWRES</text>
</g>
<g font-size="16.7">
<text x="428.7" y="748.8">−10</text>
<text x="471.5" y="748.8">0</text>
<text x="514.3" y="748.8">10</text>
<text x="557.1" y="748.8">20</text>
<text x="599.9" y="748.8">30</text>
<text x="642.7" y="748.8">40</text>
<text x="685.5" y="748.8">50</text>
<text transform="translate(58.6 489.9) rotate(-90)">0</text>
<text transform="translate(741.3 489.9) rotate(-90)">0</text>
<text transform="translate(58.6 461.8) rotate(-90)">1</text>
<text transform="translate(741.3 461.8) rotate(-90)">1</text>
<text transform="translate(58.6 433.8) rotate(-90)">2</text>
<text transform="translate(741.3 433.8) rotate(-90)">2</text>
<text transform="translate(58.6 405.8) rotate(-90)">3</text>
<text transform="translate(741.3 405.8) rotate(-90)">3</text>
<text transform="translate(58.6 377.7) rotate(-90)">4</text>
<text transform="translate(741.3 377.7) rotate(-90)">4</text>
<text transform="translate(58.6 349.6) rotate(-90)">5</text>
<text transform="translate(741.3 349.6) rotate(-90)">5</text>
<text transform="translate(58.6 681.2) rotate(-90)">−4</text>
<text transform="translate(741.3 681.2) rotate(-90)">−4</text>
<text transform="translate(58.6 646.4) rotate(-90)">−2</text>
<text transform="translate(741.3 646.4) rotate(-90)">−2</text>
<text transform="translate(58.6 611.6) rotate(-90)">0</text>
<text transform="translate(741.3 611.6) rotate(-90)">0</text>
<text transform="translate(58.6 576.8) rotate(-90)">2</text>
<text transform="translate(741.3 576.8) rotate(-90)">2</text>
<text transform="translate(58.6 542) rotate(-90)">4</text>
<text transform="translate(741.3 542) rotate(-90)">4</text>
</g></g>
</svg>
</body></html>
